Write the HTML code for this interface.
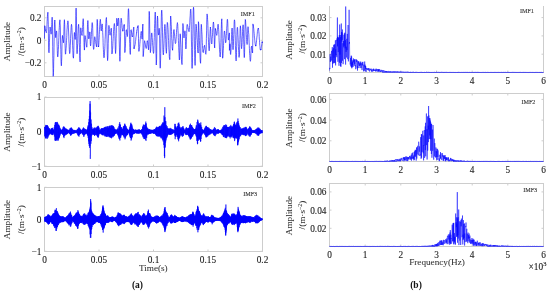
<!DOCTYPE html>
<html><head><meta charset="utf-8"><style>
html,body{margin:0;padding:0;background:#fff;width:550px;height:294px;overflow:hidden}
svg{display:block}
.t{font-family:'Liberation Serif', 'Times New Roman', serif;font-size:9.3px;fill:#1a1a1a;stroke:#1a1a1a;stroke-width:0.1px}
.al{font-family:'Liberation Serif', 'Times New Roman', serif;font-size:9.2px;fill:#333;stroke:#333;stroke-width:0.05px}
.imf{font-family:'Liberation Serif', 'Times New Roman', serif;font-size:7px;fill:#2a2a2a;stroke:#2a2a2a;stroke-width:0.08px}
.b{font-family:'Liberation Serif', 'Times New Roman', serif;font-size:9.5px;font-weight:bold;fill:#111}
</style></head><body>
<svg width="550" height="294" viewBox="0 0 550 294">
<rect width="550" height="294" fill="#fff"/>
<rect x="44.5" y="6.5" width="218.0" height="70.0" fill="none" stroke="#cdcdcd" stroke-width="1"/>
<line x1="44.5" y1="76.5" x2="44.5" y2="74.5" stroke="#cdcdcd" stroke-width="1"/>
<line x1="44.5" y1="6.5" x2="44.5" y2="8.5" stroke="#cdcdcd" stroke-width="1"/>
<line x1="99.0" y1="76.5" x2="99.0" y2="74.5" stroke="#cdcdcd" stroke-width="1"/>
<line x1="99.0" y1="6.5" x2="99.0" y2="8.5" stroke="#cdcdcd" stroke-width="1"/>
<line x1="153.5" y1="76.5" x2="153.5" y2="74.5" stroke="#cdcdcd" stroke-width="1"/>
<line x1="153.5" y1="6.5" x2="153.5" y2="8.5" stroke="#cdcdcd" stroke-width="1"/>
<line x1="208.0" y1="76.5" x2="208.0" y2="74.5" stroke="#cdcdcd" stroke-width="1"/>
<line x1="208.0" y1="6.5" x2="208.0" y2="8.5" stroke="#cdcdcd" stroke-width="1"/>
<line x1="262.5" y1="76.5" x2="262.5" y2="74.5" stroke="#cdcdcd" stroke-width="1"/>
<line x1="262.5" y1="6.5" x2="262.5" y2="8.5" stroke="#cdcdcd" stroke-width="1"/>
<line x1="44.5" y1="62.8" x2="46.5" y2="62.8" stroke="#cdcdcd" stroke-width="1"/>
<line x1="262.5" y1="62.8" x2="260.5" y2="62.8" stroke="#cdcdcd" stroke-width="1"/>
<line x1="44.5" y1="40.3" x2="46.5" y2="40.3" stroke="#cdcdcd" stroke-width="1"/>
<line x1="262.5" y1="40.3" x2="260.5" y2="40.3" stroke="#cdcdcd" stroke-width="1"/>
<line x1="44.5" y1="17.8" x2="46.5" y2="17.8" stroke="#cdcdcd" stroke-width="1"/>
<line x1="262.5" y1="17.8" x2="260.5" y2="17.8" stroke="#cdcdcd" stroke-width="1"/>
<rect x="44.5" y="97.5" width="218.0" height="69.0" fill="none" stroke="#cdcdcd" stroke-width="1"/>
<line x1="44.5" y1="166.5" x2="44.5" y2="164.5" stroke="#cdcdcd" stroke-width="1"/>
<line x1="44.5" y1="97.5" x2="44.5" y2="99.5" stroke="#cdcdcd" stroke-width="1"/>
<line x1="99.0" y1="166.5" x2="99.0" y2="164.5" stroke="#cdcdcd" stroke-width="1"/>
<line x1="99.0" y1="97.5" x2="99.0" y2="99.5" stroke="#cdcdcd" stroke-width="1"/>
<line x1="153.5" y1="166.5" x2="153.5" y2="164.5" stroke="#cdcdcd" stroke-width="1"/>
<line x1="153.5" y1="97.5" x2="153.5" y2="99.5" stroke="#cdcdcd" stroke-width="1"/>
<line x1="208.0" y1="166.5" x2="208.0" y2="164.5" stroke="#cdcdcd" stroke-width="1"/>
<line x1="208.0" y1="97.5" x2="208.0" y2="99.5" stroke="#cdcdcd" stroke-width="1"/>
<line x1="262.5" y1="166.5" x2="262.5" y2="164.5" stroke="#cdcdcd" stroke-width="1"/>
<line x1="262.5" y1="97.5" x2="262.5" y2="99.5" stroke="#cdcdcd" stroke-width="1"/>
<line x1="44.5" y1="166.2" x2="46.5" y2="166.2" stroke="#cdcdcd" stroke-width="1"/>
<line x1="262.5" y1="166.2" x2="260.5" y2="166.2" stroke="#cdcdcd" stroke-width="1"/>
<line x1="44.5" y1="131.6" x2="46.5" y2="131.6" stroke="#cdcdcd" stroke-width="1"/>
<line x1="262.5" y1="131.6" x2="260.5" y2="131.6" stroke="#cdcdcd" stroke-width="1"/>
<line x1="44.5" y1="97.0" x2="46.5" y2="97.0" stroke="#cdcdcd" stroke-width="1"/>
<line x1="262.5" y1="97.0" x2="260.5" y2="97.0" stroke="#cdcdcd" stroke-width="1"/>
<rect x="44.5" y="187.5" width="218.0" height="64.0" fill="none" stroke="#cdcdcd" stroke-width="1"/>
<line x1="44.5" y1="251.5" x2="44.5" y2="249.5" stroke="#cdcdcd" stroke-width="1"/>
<line x1="44.5" y1="187.5" x2="44.5" y2="189.5" stroke="#cdcdcd" stroke-width="1"/>
<line x1="99.0" y1="251.5" x2="99.0" y2="249.5" stroke="#cdcdcd" stroke-width="1"/>
<line x1="99.0" y1="187.5" x2="99.0" y2="189.5" stroke="#cdcdcd" stroke-width="1"/>
<line x1="153.5" y1="251.5" x2="153.5" y2="249.5" stroke="#cdcdcd" stroke-width="1"/>
<line x1="153.5" y1="187.5" x2="153.5" y2="189.5" stroke="#cdcdcd" stroke-width="1"/>
<line x1="208.0" y1="251.5" x2="208.0" y2="249.5" stroke="#cdcdcd" stroke-width="1"/>
<line x1="208.0" y1="187.5" x2="208.0" y2="189.5" stroke="#cdcdcd" stroke-width="1"/>
<line x1="262.5" y1="251.5" x2="262.5" y2="249.5" stroke="#cdcdcd" stroke-width="1"/>
<line x1="262.5" y1="187.5" x2="262.5" y2="189.5" stroke="#cdcdcd" stroke-width="1"/>
<line x1="44.5" y1="251.3" x2="46.5" y2="251.3" stroke="#cdcdcd" stroke-width="1"/>
<line x1="262.5" y1="251.3" x2="260.5" y2="251.3" stroke="#cdcdcd" stroke-width="1"/>
<line x1="44.5" y1="219.3" x2="46.5" y2="219.3" stroke="#cdcdcd" stroke-width="1"/>
<line x1="262.5" y1="219.3" x2="260.5" y2="219.3" stroke="#cdcdcd" stroke-width="1"/>
<line x1="44.5" y1="187.3" x2="46.5" y2="187.3" stroke="#cdcdcd" stroke-width="1"/>
<line x1="262.5" y1="187.3" x2="260.5" y2="187.3" stroke="#cdcdcd" stroke-width="1"/>
<polyline points="329.5,6.0 329.5,72.5 543.5,72.5 543.5,6.0" fill="none" stroke="#cdcdcd" stroke-width="1"/>
<line x1="329.5" y1="72.5" x2="329.5" y2="70.5" stroke="#cdcdcd" stroke-width="1"/>
<line x1="365.2" y1="72.5" x2="365.2" y2="70.5" stroke="#cdcdcd" stroke-width="1"/>
<line x1="400.8" y1="72.5" x2="400.8" y2="70.5" stroke="#cdcdcd" stroke-width="1"/>
<line x1="436.5" y1="72.5" x2="436.5" y2="70.5" stroke="#cdcdcd" stroke-width="1"/>
<line x1="472.2" y1="72.5" x2="472.2" y2="70.5" stroke="#cdcdcd" stroke-width="1"/>
<line x1="507.8" y1="72.5" x2="507.8" y2="70.5" stroke="#cdcdcd" stroke-width="1"/>
<line x1="543.5" y1="72.5" x2="543.5" y2="70.5" stroke="#cdcdcd" stroke-width="1"/>
<line x1="329.5" y1="54.2" x2="331.5" y2="54.2" stroke="#cdcdcd" stroke-width="1"/>
<line x1="543.5" y1="54.2" x2="541.5" y2="54.2" stroke="#cdcdcd" stroke-width="1"/>
<line x1="329.5" y1="35.9" x2="331.5" y2="35.9" stroke="#cdcdcd" stroke-width="1"/>
<line x1="543.5" y1="35.9" x2="541.5" y2="35.9" stroke="#cdcdcd" stroke-width="1"/>
<line x1="329.5" y1="17.6" x2="331.5" y2="17.6" stroke="#cdcdcd" stroke-width="1"/>
<line x1="543.5" y1="17.6" x2="541.5" y2="17.6" stroke="#cdcdcd" stroke-width="1"/>
<rect x="329.5" y="93.5" width="214.0" height="68.0" fill="none" stroke="#cdcdcd" stroke-width="1"/>
<line x1="329.5" y1="161.5" x2="329.5" y2="159.5" stroke="#cdcdcd" stroke-width="1"/>
<line x1="329.5" y1="93.5" x2="329.5" y2="95.5" stroke="#cdcdcd" stroke-width="1"/>
<line x1="365.2" y1="161.5" x2="365.2" y2="159.5" stroke="#cdcdcd" stroke-width="1"/>
<line x1="365.2" y1="93.5" x2="365.2" y2="95.5" stroke="#cdcdcd" stroke-width="1"/>
<line x1="400.8" y1="161.5" x2="400.8" y2="159.5" stroke="#cdcdcd" stroke-width="1"/>
<line x1="400.8" y1="93.5" x2="400.8" y2="95.5" stroke="#cdcdcd" stroke-width="1"/>
<line x1="436.5" y1="161.5" x2="436.5" y2="159.5" stroke="#cdcdcd" stroke-width="1"/>
<line x1="436.5" y1="93.5" x2="436.5" y2="95.5" stroke="#cdcdcd" stroke-width="1"/>
<line x1="472.2" y1="161.5" x2="472.2" y2="159.5" stroke="#cdcdcd" stroke-width="1"/>
<line x1="472.2" y1="93.5" x2="472.2" y2="95.5" stroke="#cdcdcd" stroke-width="1"/>
<line x1="507.8" y1="161.5" x2="507.8" y2="159.5" stroke="#cdcdcd" stroke-width="1"/>
<line x1="507.8" y1="93.5" x2="507.8" y2="95.5" stroke="#cdcdcd" stroke-width="1"/>
<line x1="543.5" y1="161.5" x2="543.5" y2="159.5" stroke="#cdcdcd" stroke-width="1"/>
<line x1="543.5" y1="93.5" x2="543.5" y2="95.5" stroke="#cdcdcd" stroke-width="1"/>
<line x1="329.5" y1="140.8" x2="331.5" y2="140.8" stroke="#cdcdcd" stroke-width="1"/>
<line x1="543.5" y1="140.8" x2="541.5" y2="140.8" stroke="#cdcdcd" stroke-width="1"/>
<line x1="329.5" y1="120.1" x2="331.5" y2="120.1" stroke="#cdcdcd" stroke-width="1"/>
<line x1="543.5" y1="120.1" x2="541.5" y2="120.1" stroke="#cdcdcd" stroke-width="1"/>
<line x1="329.5" y1="99.4" x2="331.5" y2="99.4" stroke="#cdcdcd" stroke-width="1"/>
<line x1="543.5" y1="99.4" x2="541.5" y2="99.4" stroke="#cdcdcd" stroke-width="1"/>
<rect x="329.5" y="183.5" width="214.0" height="63.0" fill="none" stroke="#cdcdcd" stroke-width="1"/>
<line x1="329.5" y1="246.5" x2="329.5" y2="244.5" stroke="#cdcdcd" stroke-width="1"/>
<line x1="329.5" y1="183.5" x2="329.5" y2="185.5" stroke="#cdcdcd" stroke-width="1"/>
<line x1="365.2" y1="246.5" x2="365.2" y2="244.5" stroke="#cdcdcd" stroke-width="1"/>
<line x1="365.2" y1="183.5" x2="365.2" y2="185.5" stroke="#cdcdcd" stroke-width="1"/>
<line x1="400.8" y1="246.5" x2="400.8" y2="244.5" stroke="#cdcdcd" stroke-width="1"/>
<line x1="400.8" y1="183.5" x2="400.8" y2="185.5" stroke="#cdcdcd" stroke-width="1"/>
<line x1="436.5" y1="246.5" x2="436.5" y2="244.5" stroke="#cdcdcd" stroke-width="1"/>
<line x1="436.5" y1="183.5" x2="436.5" y2="185.5" stroke="#cdcdcd" stroke-width="1"/>
<line x1="472.2" y1="246.5" x2="472.2" y2="244.5" stroke="#cdcdcd" stroke-width="1"/>
<line x1="472.2" y1="183.5" x2="472.2" y2="185.5" stroke="#cdcdcd" stroke-width="1"/>
<line x1="507.8" y1="246.5" x2="507.8" y2="244.5" stroke="#cdcdcd" stroke-width="1"/>
<line x1="507.8" y1="183.5" x2="507.8" y2="185.5" stroke="#cdcdcd" stroke-width="1"/>
<line x1="543.5" y1="246.5" x2="543.5" y2="244.5" stroke="#cdcdcd" stroke-width="1"/>
<line x1="543.5" y1="183.5" x2="543.5" y2="185.5" stroke="#cdcdcd" stroke-width="1"/>
<line x1="329.5" y1="228.3" x2="331.5" y2="228.3" stroke="#cdcdcd" stroke-width="1"/>
<line x1="543.5" y1="228.3" x2="541.5" y2="228.3" stroke="#cdcdcd" stroke-width="1"/>
<line x1="329.5" y1="210.1" x2="331.5" y2="210.1" stroke="#cdcdcd" stroke-width="1"/>
<line x1="543.5" y1="210.1" x2="541.5" y2="210.1" stroke="#cdcdcd" stroke-width="1"/>
<line x1="329.5" y1="191.9" x2="331.5" y2="191.9" stroke="#cdcdcd" stroke-width="1"/>
<line x1="543.5" y1="191.9" x2="541.5" y2="191.9" stroke="#cdcdcd" stroke-width="1"/>
<polyline fill="none" stroke="#0000ff" stroke-width="0.75" stroke-linejoin="round" stroke-opacity="0.8" points="44.5,38.7 44.5,31.0 44.6,25.9 44.7,25.7 44.9,26.0 45.0,26.6 45.1,26.6 45.2,28.0 45.4,28.6 45.5,30.9 45.6,30.6 45.7,31.2 45.9,31.8 46.0,32.2 46.1,32.3 46.2,32.7 46.4,32.7 46.5,31.5 46.6,30.6 46.8,28.3 46.9,26.2 47.0,24.3 47.1,21.5 47.3,18.7 47.4,16.7 47.5,15.1 47.6,14.2 47.8,12.5 47.9,12.2 48.0,14.2 48.1,18.0 48.3,24.8 48.4,33.1 48.5,40.8 48.6,47.2 48.8,51.9 48.9,52.2 49.0,52.8 49.2,49.8 49.3,46.1 49.4,42.5 49.6,38.1 49.7,33.4 49.8,29.7 50.0,27.8 50.1,27.0 50.2,27.8 50.4,28.3 50.5,29.2 50.6,30.9 50.8,31.8 50.9,32.7 51.0,33.9 51.2,34.2 51.3,33.3 51.4,31.3 51.5,28.9 51.7,24.7 51.8,22.6 51.9,19.8 52.1,17.3 52.2,17.2 52.3,19.1 52.5,26.1 52.6,34.8 52.7,46.5 52.8,58.4 53.0,68.2 53.1,73.5 53.2,76.3 53.3,75.6 53.5,72.5 53.6,68.7 53.7,61.9 53.9,55.6 54.0,47.7 54.1,41.2 54.3,33.9 54.4,27.9 54.5,22.9 54.7,21.3 54.8,20.0 54.9,21.2 55.1,24.6 55.2,28.8 55.4,33.0 55.5,36.2 55.6,37.4 55.8,37.7 55.9,35.4 56.1,34.0 56.2,32.3 56.4,31.2 56.5,30.9 56.6,31.1 56.8,33.2 56.9,37.2 57.0,41.9 57.2,46.3 57.3,50.4 57.4,53.7 57.6,56.2 57.7,56.8 57.8,56.9 58.0,55.4 58.1,54.2 58.2,52.1 58.3,49.8 58.5,46.8 58.6,44.5 58.7,40.8 58.9,37.4 59.0,32.9 59.1,30.3 59.3,27.4 59.4,25.3 59.5,22.2 59.6,21.9 59.8,21.0 59.9,19.8 60.0,20.7 60.1,23.1 60.3,27.0 60.4,32.0 60.5,38.0 60.6,43.1 60.8,49.4 60.9,54.7 61.0,60.0 61.1,63.3 61.3,65.8 61.4,65.7 61.5,64.9 61.6,61.3 61.8,57.2 61.9,51.1 62.0,44.9 62.1,39.9 62.3,36.9 62.4,35.4 62.5,35.5 62.6,36.8 62.8,38.6 62.9,39.0 63.0,40.2 63.2,41.2 63.3,41.9 63.4,42.8 63.5,42.0 63.7,39.2 63.8,35.6 63.9,31.2 64.0,26.8 64.2,22.5 64.3,20.4 64.4,19.7 64.5,20.7 64.7,24.5 64.8,30.0 64.9,36.7 65.0,43.6 65.2,48.7 65.3,52.5 65.4,54.2 65.5,53.9 65.7,53.7 65.8,51.4 65.9,51.0 66.0,48.9 66.2,47.1 66.3,45.2 66.4,42.9 66.5,40.3 66.7,37.5 66.8,35.4 66.9,32.2 67.0,29.9 67.2,28.0 67.3,25.5 67.4,24.8 67.5,23.1 67.7,22.5 67.8,21.1 67.9,20.8 68.0,21.4 68.2,22.8 68.3,24.2 68.4,27.1 68.5,30.0 68.7,34.0 68.8,36.8 68.9,41.0 69.1,43.8 69.2,46.8 69.3,49.4 69.4,51.2 69.6,52.8 69.7,53.6 69.8,52.9 70.0,52.0 70.1,50.7 70.2,47.9 70.3,45.2 70.5,42.0 70.6,38.3 70.7,36.0 70.9,32.1 71.0,30.2 71.1,27.7 71.2,26.4 71.4,24.9 71.5,24.3 71.6,25.1 71.8,25.9 71.9,27.7 72.0,30.2 72.1,32.9 72.3,36.1 72.4,39.3 72.5,43.0 72.6,45.8 72.8,49.7 72.9,52.1 73.0,55.3 73.1,57.1 73.3,57.1 73.4,58.2 73.5,57.1 73.7,54.0 73.8,50.4 73.9,45.1 74.0,39.8 74.2,36.2 74.3,33.4 74.4,32.5 74.5,32.5 74.7,34.5 74.8,36.3 75.0,37.3 75.1,38.8 75.2,39.5 75.4,37.2 75.5,32.3 75.7,23.9 75.8,15.6 76.0,9.9 76.1,8.1 76.2,11.2 76.4,16.7 76.5,25.9 76.6,36.3 76.7,45.3 76.9,52.4 77.0,53.7 77.1,53.7 77.3,52.0 77.4,49.7 77.5,46.0 77.7,43.4 77.8,38.9 77.9,35.1 78.1,31.1 78.2,28.1 78.3,26.2 78.5,24.9 78.6,24.3 78.7,25.1 78.8,26.7 79.0,29.5 79.1,33.6 79.2,38.0 79.3,42.6 79.5,47.7 79.6,52.3 79.7,55.8 79.8,58.6 80.0,60.8 80.1,61.9 80.2,56.3 80.4,44.7 80.5,33.1 80.7,28.7 80.8,27.8 81.0,29.1 81.1,30.2 81.2,30.4 81.3,32.3 81.5,33.1 81.6,33.7 81.7,34.7 81.8,34.6 82.0,35.1 82.1,35.5 82.2,33.4 82.3,32.6 82.5,29.7 82.6,27.5 82.7,24.7 82.8,21.7 83.0,20.4 83.1,19.6 83.2,18.7 83.3,19.5 83.5,22.8 83.6,26.5 83.7,31.1 83.9,36.8 84.0,42.3 84.1,45.9 84.3,49.0 84.4,50.1 84.6,47.6 84.7,42.2 84.8,37.2 85.0,35.6 85.1,36.1 85.3,36.3 85.4,37.0 85.5,37.6 85.6,39.0 85.8,39.9 85.9,41.2 86.0,42.2 86.2,43.3 86.3,44.8 86.4,45.5 86.5,46.2 86.7,47.2 86.8,47.1 86.9,47.1 87.0,43.6 87.2,38.8 87.3,34.3 87.4,29.1 87.5,24.5 87.7,22.3 87.8,20.6 87.9,20.5 88.1,23.8 88.2,26.2 88.3,30.4 88.5,33.1 88.6,35.9 88.7,38.8 88.8,38.5 89.0,38.7 89.1,38.4 89.2,36.8 89.4,35.4 89.5,34.1 89.6,33.2 89.8,31.9 89.9,32.1 90.1,34.2 90.2,39.7 90.3,43.7 90.5,45.6 90.6,45.9 90.8,44.6 90.9,43.5 91.0,41.6 91.1,39.7 91.3,36.7 91.4,34.3 91.5,30.8 91.7,29.0 91.8,27.6 91.9,25.0 92.0,23.6 92.2,22.6 92.3,22.9 92.4,23.4 92.6,24.9 92.7,28.5 92.8,32.1 92.9,36.4 93.1,40.1 93.2,44.7 93.3,47.2 93.5,48.9 93.6,49.4 93.7,49.1 93.9,48.5 94.0,46.5 94.1,44.9 94.3,42.6 94.4,40.9 94.5,39.1 94.7,37.7 94.8,36.7 94.9,37.6 95.1,38.1 95.2,38.4 95.3,39.3 95.4,39.8 95.6,40.8 95.7,41.6 95.8,43.4 96.0,44.0 96.1,44.6 96.2,45.0 96.3,46.0 96.5,46.9 96.6,46.7 96.8,42.2 96.9,33.3 97.0,23.6 97.2,19.4 97.3,20.2 97.5,22.8 97.6,26.3 97.7,30.9 97.9,35.3 98.0,40.6 98.1,43.9 98.3,47.0 98.4,46.4 98.5,47.0 98.7,46.3 98.8,44.4 98.9,42.7 99.0,40.5 99.2,37.8 99.3,34.6 99.4,31.9 99.5,29.5 99.7,27.0 99.8,24.3 99.9,22.3 100.0,21.0 100.2,20.4 100.3,19.3 100.4,19.8 100.6,21.9 100.7,23.7 100.8,26.4 100.9,28.9 101.1,30.6 101.2,30.6 101.3,30.9 101.5,29.1 101.6,28.5 101.7,26.2 101.8,24.9 102.0,24.6 102.1,23.9 102.2,24.1 102.4,25.3 102.5,27.4 102.6,29.5 102.7,32.4 102.9,35.9 103.0,38.7 103.1,42.3 103.2,45.7 103.4,49.5 103.5,52.3 103.6,54.8 103.7,56.0 103.9,57.1 104.0,57.8 104.1,57.1 104.3,56.7 104.4,55.4 104.5,53.1 104.6,51.1 104.8,48.5 104.9,46.3 105.0,43.5 105.1,39.3 105.3,36.1 105.4,32.0 105.5,29.8 105.6,26.9 105.8,23.9 105.9,22.3 106.0,19.7 106.1,18.9 106.3,18.2 106.4,17.5 106.5,19.5 106.7,23.3 106.8,28.1 106.9,35.0 107.1,43.2 107.2,49.9 107.3,55.2 107.5,59.2 107.6,60.6 107.7,59.7 107.9,57.6 108.0,53.6 108.1,49.2 108.2,43.7 108.4,38.1 108.5,33.3 108.6,29.6 108.8,26.9 108.9,25.4 109.0,26.4 109.2,26.9 109.3,28.7 109.4,29.8 109.6,31.6 109.7,33.0 109.8,34.8 110.0,35.1 110.1,35.2 110.2,35.2 110.4,34.3 110.5,33.6 110.6,32.4 110.8,31.3 110.9,30.7 111.0,29.0 111.2,28.5 111.3,28.2 111.5,32.3 111.6,40.7 111.8,49.9 111.9,53.9 112.0,53.9 112.2,53.1 112.3,52.1 112.4,50.7 112.5,49.6 112.7,48.1 112.8,45.7 112.9,43.4 113.0,41.2 113.2,38.3 113.3,36.2 113.4,33.8 113.5,31.8 113.7,29.7 113.8,27.4 113.9,26.7 114.0,25.7 114.2,24.1 114.3,23.7 114.4,23.5 114.5,24.6 114.7,26.4 114.8,31.4 114.9,35.5 115.1,41.3 115.2,45.8 115.3,49.6 115.5,52.3 115.6,53.5 115.7,51.9 115.9,49.0 116.0,44.4 116.1,38.3 116.3,33.3 116.4,27.4 116.5,22.6 116.7,20.0 116.8,18.2 116.9,18.8 117.1,20.4 117.2,21.6 117.3,22.0 117.4,23.0 117.6,24.8 117.7,25.9 117.8,25.0 118.0,24.0 118.1,22.8 118.2,20.5 118.3,19.4 118.5,18.6 118.6,18.1 118.7,19.1 118.9,21.8 119.0,27.0 119.1,32.7 119.2,40.0 119.4,47.1 119.5,52.0 119.6,56.3 119.8,60.0 119.9,61.3 120.0,60.3 120.2,56.5 120.3,50.1 120.4,43.0 120.6,36.2 120.7,28.3 120.8,23.3 121.0,19.1 121.1,18.2 121.2,18.3 121.4,18.9 121.5,19.8 121.6,20.4 121.7,22.2 121.9,23.7 122.0,25.3 122.1,27.2 122.2,28.1 122.4,29.1 122.5,30.0 122.6,30.7 122.8,31.3 122.9,30.6 123.0,31.0 123.1,30.2 123.3,29.4 123.4,28.3 123.5,28.0 123.6,27.3 123.8,25.6 123.9,25.9 124.0,25.5 124.1,24.5 124.3,24.3 124.4,24.8 124.5,31.6 124.7,45.1 124.8,52.6 124.9,52.2 125.1,51.0 125.2,48.4 125.3,47.1 125.5,43.8 125.6,41.1 125.7,38.0 125.9,35.6 126.0,32.8 126.1,30.8 126.3,30.1 126.4,30.0 126.5,29.7 126.7,31.0 126.8,31.8 126.9,32.8 127.0,34.9 127.2,35.2 127.3,36.6 127.4,36.3 127.5,35.6 127.7,32.0 127.8,27.6 127.9,23.0 128.0,17.3 128.2,12.8 128.3,9.6 128.4,8.9 128.5,8.7 128.7,10.3 128.8,13.0 128.9,16.0 129.0,19.9 129.2,24.5 129.3,29.2 129.4,33.9 129.5,39.3 129.7,43.4 129.8,47.4 129.9,50.1 130.0,52.3 130.2,53.5 130.3,54.4 130.5,50.1 130.6,41.8 130.8,33.4 130.9,30.1 131.0,30.0 131.2,29.7 131.3,30.7 131.4,31.0 131.5,32.4 131.7,33.0 131.8,34.2 131.9,35.7 132.0,35.8 132.2,36.8 132.3,36.4 132.4,36.4 132.5,36.8 132.7,36.5 132.8,34.9 132.9,34.2 133.0,32.5 133.2,31.7 133.3,30.8 133.4,29.3 133.5,28.2 133.7,27.1 133.8,27.3 133.9,27.3 133.9,37.9 133.9,48.4 134.0,47.8 134.2,48.7 134.3,47.9 134.4,47.5 134.5,47.4 134.7,45.9 134.8,46.0 134.9,45.3 135.0,44.8 135.2,44.3 135.3,43.1 135.4,41.4 135.5,41.0 135.7,40.2 135.8,39.2 135.9,37.6 136.1,36.5 136.2,36.2 136.3,35.1 136.4,34.0 136.6,32.4 136.7,32.7 136.8,30.1 136.9,30.1 137.1,30.2 137.2,28.7 137.3,28.2 137.4,27.1 137.6,27.5 137.7,26.1 137.8,26.3 137.9,26.0 138.1,25.5 138.2,26.1 138.3,29.1 138.5,38.4 138.7,47.6 138.8,51.3 138.9,51.4 139.1,51.2 139.2,50.2 139.3,49.3 139.4,48.4 139.6,47.3 139.7,46.4 139.8,44.6 139.9,43.3 140.1,41.6 140.2,39.8 140.3,38.9 140.4,36.9 140.6,35.9 140.7,35.3 140.8,33.4 140.9,32.9 141.1,31.8 141.2,31.8 141.3,31.4 141.4,32.2 141.6,33.5 141.7,35.4 141.8,37.7 142.0,38.5 142.1,39.1 142.2,37.8 142.4,34.9 142.5,30.9 142.6,26.6 142.8,24.5 142.9,24.0 143.0,40.0 143.1,56.1 143.2,56.6 143.4,55.1 143.5,53.9 143.6,52.1 143.7,50.4 143.9,48.7 144.0,47.6 144.1,45.0 144.3,43.1 144.4,42.1 144.5,41.5 144.6,40.7 144.8,41.5 144.9,42.0 145.0,42.4 145.2,43.3 145.3,43.4 145.4,44.2 145.6,46.2 145.7,46.9 145.8,46.7 145.9,47.9 146.1,48.2 146.2,48.5 146.3,48.2 146.5,47.3 146.6,46.6 146.7,45.5 146.9,44.2 147.0,42.4 147.1,41.1 147.3,41.2 147.4,40.7 147.5,41.6 147.7,42.5 147.8,43.5 147.9,44.6 148.1,46.2 148.2,47.9 148.3,48.4 148.5,49.7 148.6,49.8 148.8,44.1 148.9,30.9 149.0,16.5 149.2,11.4 149.3,12.0 149.5,15.6 149.6,21.0 149.7,28.2 149.9,34.8 150.0,41.8 150.1,46.8 150.3,51.1 150.4,52.6 150.5,51.6 150.7,50.8 150.8,48.3 150.9,46.3 151.1,42.6 151.2,39.1 151.3,37.6 151.4,35.0 151.6,33.3 151.7,33.0 151.8,32.9 152.0,34.1 152.1,35.0 152.2,37.5 152.3,39.1 152.5,40.4 152.6,42.7 152.7,45.2 152.9,46.9 153.0,49.4 153.1,51.0 153.2,51.9 153.4,52.8 153.5,53.4 153.6,53.2 153.8,51.7 153.9,48.8 154.0,45.8 154.1,41.4 154.3,37.4 154.4,32.4 154.5,28.5 154.7,23.4 154.8,19.7 154.9,16.8 155.0,14.5 155.2,12.3 155.3,12.1 155.4,14.4 155.6,20.2 155.7,28.4 155.8,38.9 155.9,49.0 156.1,58.2 156.2,63.7 156.3,65.0 156.4,63.2 156.6,59.7 156.7,53.5 156.8,45.1 157.0,36.8 157.1,28.2 157.2,21.3 157.4,17.8 157.5,16.0 157.6,17.2 157.8,19.1 157.9,23.6 158.0,27.6 158.1,31.9 158.3,34.1 158.4,35.1 158.5,34.7 158.7,34.4 158.8,32.6 158.9,30.8 159.0,29.3 159.2,28.3 159.3,28.8 159.4,29.6 159.6,35.5 159.7,43.9 159.8,52.9 159.9,60.4 160.1,66.2 160.2,68.2 160.3,67.3 160.4,64.0 160.6,60.0 160.7,53.5 160.8,46.9 160.9,38.5 161.1,31.7 161.2,24.0 161.3,17.9 161.4,14.0 161.6,10.6 161.7,10.1 161.8,10.3 162.0,13.5 162.1,16.5 162.2,20.8 162.4,26.7 162.5,32.8 162.6,38.1 162.8,44.0 162.9,49.2 163.0,52.4 163.2,54.3 163.3,54.9 163.4,54.8 163.6,52.5 163.7,49.6 163.8,47.3 164.0,43.4 164.1,40.5 164.2,36.0 164.4,31.9 164.5,28.7 164.6,26.8 164.8,24.8 164.9,24.4 165.0,25.1 165.2,26.6 165.3,28.8 165.4,31.8 165.5,35.7 165.7,39.5 165.8,42.0 165.9,47.0 166.0,49.1 166.2,51.7 166.3,52.5 166.4,53.3 166.5,51.8 166.7,47.4 166.8,41.4 166.9,34.4 167.0,27.6 167.2,23.6 167.3,22.4 167.4,22.6 167.6,22.9 167.7,24.1 167.8,25.6 167.9,27.2 168.1,29.4 168.2,32.9 168.3,34.9 168.4,37.9 168.6,40.5 168.7,44.1 168.8,47.2 168.9,49.2 169.1,51.9 169.2,53.7 169.3,56.5 169.4,57.7 169.6,58.2 169.7,59.6 169.8,59.6 169.9,56.7 170.1,48.7 170.2,37.5 170.3,26.7 170.5,19.2 170.6,16.0 170.7,16.1 170.9,18.2 171.0,19.2 171.1,21.4 171.2,24.2 171.4,27.9 171.5,31.4 171.6,34.7 171.7,38.3 171.9,40.7 172.0,43.9 172.1,46.3 172.2,48.2 172.4,49.4 172.5,48.9 172.6,50.3 172.8,47.8 172.9,46.4 173.0,44.2 173.1,41.6 173.3,38.6 173.4,34.8 173.5,33.1 173.6,31.9 173.8,30.2 173.9,29.7 174.0,29.5 174.2,31.4 174.3,32.2 174.4,33.1 174.6,35.0 174.7,36.7 174.8,38.1 175.0,40.0 175.1,41.6 175.2,42.7 175.4,43.6 175.5,43.4 175.6,43.0 175.8,42.7 175.9,41.3 176.0,39.7 176.1,38.8 176.3,36.4 176.4,34.5 176.5,32.6 176.6,29.9 176.8,28.6 176.9,26.9 177.0,25.3 177.1,24.4 177.3,23.4 177.4,22.6 177.5,23.6 177.7,24.3 177.8,26.5 177.9,28.4 178.0,30.6 178.2,33.7 178.3,37.4 178.4,40.7 178.6,43.9 178.7,47.2 178.8,50.2 179.0,53.2 179.1,56.0 179.2,57.8 179.3,59.5 179.5,59.9 179.6,60.0 179.7,56.1 179.8,47.1 180.0,38.2 180.1,34.2 180.2,33.8 180.4,34.6 180.5,37.0 180.6,39.0 180.7,41.0 180.9,44.7 181.0,47.5 181.1,51.1 181.2,53.9 181.4,57.0 181.5,59.4 181.6,61.1 181.7,62.9 181.9,63.7 182.0,64.6 182.1,62.0 182.3,56.2 182.4,48.9 182.5,40.1 182.6,32.1 182.8,26.4 182.9,23.5 183.0,24.3 183.2,25.8 183.3,28.2 183.4,30.1 183.6,33.5 183.7,35.8 183.8,36.8 183.9,37.7 184.1,37.9 184.2,36.7 184.3,35.9 184.5,34.6 184.6,33.0 184.7,31.9 184.9,30.8 185.0,31.1 185.1,31.4 185.3,33.9 185.4,38.1 185.5,41.6 185.6,45.7 185.8,48.5 185.9,49.0 186.0,48.4 186.2,47.0 186.3,44.2 186.4,40.0 186.6,36.3 186.7,33.5 186.8,29.8 186.9,26.2 187.1,24.7 187.2,24.6 187.3,24.4 187.5,25.1 187.6,25.4 187.7,26.1 187.8,26.2 188.0,27.5 188.1,28.8 188.2,28.6 188.4,30.1 188.5,30.6 188.6,31.1 188.7,31.2 188.9,31.1 189.0,31.3 189.1,31.6 189.3,30.8 189.4,29.6 189.5,27.7 189.6,25.6 189.8,22.8 189.9,20.0 190.0,18.0 190.2,15.8 190.3,13.5 190.4,11.2 190.5,10.2 190.7,9.1 190.8,9.4 190.9,10.4 191.1,14.8 191.2,21.5 191.3,29.6 191.4,39.1 191.6,47.3 191.7,55.1 191.8,62.6 192.0,67.0 192.1,68.4 192.2,66.8 192.4,63.2 192.5,57.4 192.6,49.6 192.7,41.5 192.9,33.2 193.0,24.5 193.1,18.0 193.2,11.1 193.4,7.9 193.5,7.2 193.6,7.6 193.8,10.3 193.9,14.9 194.0,21.2 194.2,29.1 194.3,36.3 194.4,43.9 194.6,50.7 194.7,57.2 194.8,61.6 195.0,64.2 195.1,65.4 195.2,63.6 195.4,58.2 195.5,49.6 195.6,40.7 195.7,33.0 195.9,26.4 196.0,24.2 196.1,25.2 196.3,25.7 196.4,26.7 196.5,28.4 196.6,30.2 196.8,32.7 196.9,34.9 197.0,37.9 197.2,39.8 197.3,42.5 197.4,45.3 197.6,47.4 197.7,49.7 197.8,51.1 197.9,52.1 198.1,53.0 198.2,53.0 198.3,37.1 198.4,21.7 198.5,22.2 198.7,23.3 198.8,25.2 198.9,27.8 199.0,30.4 199.2,34.1 199.3,37.4 199.4,40.6 199.6,45.0 199.7,48.6 199.8,51.5 200.0,55.0 200.1,58.1 200.2,60.0 200.3,62.0 200.5,62.8 200.6,63.3 200.8,57.3 200.9,43.9 201.0,30.1 201.2,24.9 201.3,24.3 201.5,25.9 201.6,27.7 201.7,29.5 201.8,31.6 202.0,34.5 202.1,36.9 202.2,39.8 202.3,42.8 202.5,45.6 202.6,48.3 202.7,49.6 202.8,51.8 203.0,51.8 203.1,52.3 203.2,52.5 203.4,52.5 203.5,51.2 203.6,49.8 203.7,49.8 203.9,48.6 204.0,47.3 204.1,46.5 204.2,45.9 204.4,45.8 204.5,45.8 204.6,45.3 204.8,47.1 204.9,47.1 205.0,48.1 205.1,49.7 205.3,50.7 205.4,52.7 205.5,53.4 205.6,53.7 205.8,54.2 205.9,54.3 206.0,53.2 206.2,50.0 206.3,44.2 206.4,38.4 206.6,30.8 206.7,24.2 206.8,19.3 207.0,14.7 207.1,13.9 207.2,14.8 207.4,15.6 207.5,17.3 207.6,19.7 207.8,22.1 207.9,25.5 208.0,28.5 208.1,31.9 208.3,36.5 208.4,39.2 208.5,42.4 208.7,45.9 208.8,48.1 208.9,49.2 209.1,50.3 209.2,50.8 209.3,49.8 209.5,48.3 209.6,45.1 209.7,41.3 209.9,37.5 210.0,33.7 210.1,31.0 210.3,28.8 210.4,27.0 210.5,28.4 210.7,29.2 210.8,31.2 210.9,34.7 211.1,37.1 211.2,39.9 211.3,42.6 211.5,43.4 211.6,43.8 211.7,44.0 211.9,43.6 212.0,42.2 212.1,39.9 212.2,38.4 212.4,36.5 212.5,34.9 212.6,32.3 212.7,30.0 212.9,28.0 213.0,25.6 213.1,24.4 213.2,23.2 213.4,22.0 213.5,22.1 213.6,23.1 213.8,24.7 213.9,28.8 214.0,33.0 214.2,37.5 214.3,41.0 214.4,44.8 214.6,47.5 214.7,48.0 214.8,44.6 215.0,38.1 215.2,31.7 215.3,28.3 215.4,28.6 215.6,29.8 215.7,29.5 215.8,30.3 215.9,31.0 216.1,32.1 216.2,33.8 216.3,34.1 216.4,34.3 216.6,34.8 216.7,35.3 216.8,35.4 217.0,34.2 217.1,33.7 217.2,32.0 217.3,30.8 217.5,29.4 217.6,27.9 217.7,26.3 217.8,25.4 218.0,25.0 218.1,24.2 218.2,25.0 218.4,26.0 218.5,27.7 218.6,29.3 218.8,31.7 218.9,34.6 219.0,37.3 219.1,40.7 219.3,44.0 219.4,47.0 219.5,49.4 219.7,52.1 219.8,53.4 219.9,56.0 220.1,56.4 220.2,57.0 220.3,55.9 220.5,54.3 220.6,51.5 220.7,47.8 220.9,42.4 221.0,38.3 221.1,33.0 221.3,28.3 221.4,24.8 221.5,21.5 221.7,19.6 221.8,18.8 221.9,21.8 222.1,28.9 222.2,38.5 222.3,48.0 222.5,55.3 222.6,58.2 222.7,58.2 222.9,56.9 223.0,56.0 223.1,53.6 223.2,50.9 223.4,48.8 223.5,45.5 223.6,43.1 223.7,40.5 223.9,37.4 224.0,35.2 224.1,34.2 224.2,32.0 224.4,31.1 224.5,31.0 224.6,31.0 224.8,32.1 224.9,33.9 225.0,34.9 225.2,38.3 225.3,39.4 225.4,41.0 225.6,42.6 225.7,42.8 225.8,42.1 226.0,41.7 226.1,39.8 226.2,38.1 226.3,35.6 226.5,33.3 226.6,31.1 226.7,28.3 226.9,25.9 227.0,23.9 227.1,21.7 227.2,20.0 227.4,19.3 227.5,19.7 227.6,20.2 227.8,23.2 227.9,27.3 228.0,32.1 228.2,36.4 228.3,39.1 228.4,40.1 228.6,39.6 228.7,38.6 228.9,37.6 229.0,36.2 229.1,34.8 229.3,33.6 229.4,32.9 229.4,41.9 229.4,50.4 229.6,48.6 229.7,47.0 229.8,44.4 230.0,43.8 230.2,44.5 230.3,48.7 230.4,53.6 230.6,54.5 230.7,54.4 230.8,52.9 231.0,50.7 231.1,47.6 231.2,44.8 231.3,41.7 231.5,37.9 231.6,34.6 231.7,31.5 231.8,29.9 232.0,28.2 232.1,28.0 232.2,28.1 232.4,31.9 232.5,35.7 232.6,41.2 232.7,45.5 232.9,48.1 233.0,49.7 233.1,49.5 233.2,47.8 233.4,45.4 233.5,41.8 233.6,38.3 233.8,34.3 233.9,30.8 234.0,27.6 234.1,24.2 234.2,21.7 234.4,19.8 234.5,19.9 234.6,20.3 234.8,21.8 234.9,25.1 235.0,29.8 235.2,34.5 235.3,40.7 235.4,45.5 235.6,50.0 235.7,54.4 235.8,58.4 236.0,59.6 236.1,60.9 236.2,59.7 236.4,57.2 236.5,52.4 236.6,46.6 236.8,41.1 236.9,35.4 237.0,31.3 237.2,28.0 237.3,27.7 237.4,27.3 237.6,28.5 237.7,29.7 237.8,32.1 237.9,34.6 238.1,37.6 238.2,41.0 238.3,43.7 238.4,46.7 238.6,50.3 238.7,52.4 238.8,54.4 238.9,56.6 239.1,57.4 239.2,56.6 239.3,56.4 239.5,54.1 239.6,49.9 239.7,44.2 239.9,39.4 240.0,33.5 240.1,29.4 240.3,26.8 240.4,25.8 240.5,26.8 240.7,28.8 240.8,31.4 240.9,35.6 241.1,38.8 241.2,42.6 241.3,46.3 241.5,47.7 241.6,48.7 241.7,47.8 241.8,46.7 242.0,44.9 242.1,42.6 242.2,39.6 242.3,36.8 242.5,34.0 242.6,31.4 242.7,28.6 242.8,27.0 243.0,25.9 243.1,24.8 243.2,25.7 243.4,29.6 243.5,33.9 243.6,38.8 243.8,44.6 243.9,49.6 244.0,53.8 244.2,57.2 244.3,57.6 244.4,57.0 244.6,52.3 244.7,46.4 244.8,39.6 244.9,32.2 245.1,25.2 245.2,21.5 245.3,19.4 245.4,19.8 245.6,21.0 245.7,22.9 245.8,24.1 245.9,26.8 246.1,29.2 246.2,31.5 246.3,34.6 246.5,37.7 246.6,39.5 246.7,41.6 246.8,43.2 247.0,43.5 247.1,44.5 247.2,43.8 247.4,41.4 247.5,37.9 247.6,33.5 247.7,30.0 247.9,27.6 248.0,26.7 248.1,27.0 248.3,28.3 248.4,29.6 248.5,30.4 248.6,32.8 248.8,34.3 248.9,37.1 249.0,39.6 249.1,42.1 249.3,45.5 249.4,48.3 249.5,50.8 249.6,53.3 249.8,55.3 249.9,57.6 250.0,58.9 250.1,60.4 250.3,60.6 250.4,61.3 250.5,60.8 250.7,59.4 250.8,56.9 250.9,53.8 251.1,50.6 251.2,47.8 251.4,46.8 251.5,46.7 251.6,47.0 251.8,46.3 251.9,48.1 252.1,49.6 252.2,50.7 252.3,52.2 252.5,52.9 252.6,53.0 252.8,38.8 252.9,23.9 253.0,24.3 253.2,24.6 253.3,25.8 253.4,25.6 253.5,27.0 253.7,28.4 253.8,29.3 253.9,30.9 254.0,31.8 254.2,33.6 254.3,35.3 254.4,37.2 254.6,38.2 254.7,39.8 254.8,40.6 254.9,41.8 255.1,43.4 255.2,43.9 255.3,45.0 255.4,45.2 255.6,46.0 255.7,46.2 255.8,45.0 255.9,45.6 256.1,44.6 256.2,43.9 256.3,42.9 256.4,42.1 256.6,40.3 256.7,39.2 256.8,37.9 256.9,37.0 257.1,35.8 257.2,34.5 257.3,33.1 257.4,31.6 257.6,30.2 257.7,30.1 257.8,29.3 257.9,28.9 258.1,28.9 258.2,28.2 258.3,28.4 258.5,28.1 258.6,29.8 258.7,30.6 258.8,31.6 259.0,33.4 259.1,34.5 259.2,36.4 259.3,39.1 259.5,40.5 259.6,42.3 259.7,44.0 259.8,45.6 260.0,46.8 260.1,48.8 260.2,49.0 260.3,50.0 260.5,50.1 260.6,50.2 260.7,49.4 260.9,49.3 261.0,50.0 261.1,49.4 261.2,48.0 261.4,47.4 261.5,46.7 261.6,45.3 261.7,45.4 261.9,43.6 262.0,43.0 262.1,41.7 262.2,42.7 262.4,41.9 262.5,42.4"/>
<polyline fill="none" stroke="#0000ff" stroke-width="0.6" stroke-linejoin="round" stroke-opacity="1" points="44.5,128.4 44.5,127.1 44.6,128.3 44.6,131.5 44.7,134.8 44.7,135.9 44.8,134.9 44.8,132.0 44.9,128.7 44.9,127.5 45.0,128.2 45.0,130.9 45.0,134.0 45.1,137.2 45.1,136.5 45.2,133.1 45.2,128.8 45.3,126.3 45.3,126.5 45.4,129.5 45.4,133.7 45.5,137.6 45.5,138.0 45.5,134.9 45.6,129.9 45.6,125.9 45.7,124.9 45.7,127.5 45.8,132.4 45.8,137.0 45.9,138.7 45.9,136.5 46.0,131.6 46.0,126.6 46.0,126.5 46.1,127.7 46.1,131.0 46.2,134.6 46.2,138.3 46.3,137.3 46.3,133.1 46.4,128.1 46.4,125.0 46.5,125.5 46.5,129.4 46.5,134.5 46.6,136.3 46.6,136.3 46.7,133.6 46.7,129.8 46.8,125.6 46.8,125.3 46.9,128.5 46.9,133.5 47.0,137.1 47.0,137.7 47.0,134.8 47.1,130.1 47.1,126.5 47.2,125.8 47.2,128.4 47.3,132.8 47.3,137.5 47.4,138.7 47.4,136.0 47.5,130.8 47.5,126.6 47.5,125.2 47.6,127.1 47.6,131.4 47.7,135.6 47.7,136.6 47.8,135.7 47.8,132.8 47.9,129.3 47.9,126.3 48.0,126.4 48.0,129.1 48.0,132.9 48.1,136.6 48.1,137.5 48.2,135.5 48.2,131.6 48.3,127.8 48.3,126.8 48.4,127.7 48.4,130.6 48.5,133.9 48.5,135.5 48.5,135.3 48.6,133.1 48.6,130.3 48.7,128.6 48.7,128.4 48.8,130.0 48.8,132.3 48.9,134.9 48.9,135.4 49.0,133.8 49.0,131.0 49.0,128.6 49.1,128.0 49.1,129.5 49.2,132.1 49.2,134.1 49.3,134.6 49.3,133.4 49.4,131.2 49.4,129.1 49.5,128.6 49.5,129.8 49.5,132.0 49.6,133.7 49.6,134.1 49.7,133.1 49.7,131.3 49.8,129.7 49.8,129.3 49.9,130.2 49.9,131.7 50.0,133.0 50.0,133.4 50.0,132.8 50.1,131.7 50.1,130.5 50.2,129.9 50.2,130.2 50.3,131.3 50.3,132.6 50.4,133.4 50.4,133.3 50.4,132.3 50.5,130.8 50.5,130.0 50.6,129.9 50.6,130.6 50.7,131.9 50.7,133.6 50.8,134.1 50.8,133.4 50.9,131.7 50.9,129.9 50.9,128.8 51.0,129.1 51.0,130.8 51.1,132.9 51.1,134.3 51.2,134.5 51.2,133.1 51.3,130.9 51.3,129.2 51.4,128.6 51.4,129.8 51.4,132.2 51.5,133.9 51.5,133.7 51.6,130.7 51.6,128.6 51.7,130.1 51.7,132.7 51.8,134.9 51.8,134.9 51.9,133.0 51.9,130.4 51.9,128.4 52.0,128.1 52.0,129.6 52.1,132.2 52.1,133.5 52.2,134.1 52.2,133.4 52.3,131.7 52.3,130.0 52.4,127.8 52.4,128.4 52.4,130.7 52.5,133.5 52.5,135.1 52.6,134.9 52.6,132.9 52.7,130.2 52.7,128.3 52.8,128.3 52.8,130.1 52.9,132.7 52.9,134.6 52.9,134.7 53.0,132.9 53.0,130.5 53.1,129.1 53.1,129.3 53.2,130.9 53.2,132.8 53.3,133.7 53.3,133.3 53.4,132.0 53.4,130.5 53.4,130.1 53.5,130.4 53.5,131.4 53.6,132.3 53.6,133.0 53.7,132.7 53.7,131.9 53.8,130.8 53.8,129.8 53.9,129.7 53.9,130.7 53.9,132.5 54.0,134.3 54.0,134.8 54.1,133.7 54.1,131.1 54.2,128.5 54.2,127.2 54.3,128.0 54.3,130.8 54.4,134.3 54.4,136.3 54.4,136.5 54.5,134.4 54.5,130.8 54.6,127.4 54.6,124.9 54.7,125.2 54.7,127.4 54.8,130.7 54.8,134.0 54.9,137.0 54.9,139.5 54.9,140.4 55.0,138.9 55.0,134.6 55.1,128.7 55.1,124.5 55.2,122.6 55.2,124.6 55.3,129.8 55.3,135.8 55.4,140.5 55.4,140.9 55.4,137.1 55.5,130.8 55.5,124.8 55.6,122.0 55.6,123.6 55.7,128.9 55.7,135.5 55.8,139.9 55.8,140.7 55.9,137.1 55.9,131.0 55.9,125.2 56.0,122.4 56.0,123.9 56.1,129.1 56.1,135.5 56.2,139.2 56.2,139.7 56.3,136.3 56.3,130.7 56.4,125.7 56.4,123.4 56.4,125.2 56.5,130.0 56.5,135.6 56.6,139.8 56.6,139.7 56.7,135.7 56.7,129.6 56.8,123.8 56.8,122.0 56.9,125.0 56.9,131.2 56.9,137.5 57.0,141.0 57.0,140.0 57.1,135.1 57.1,128.8 57.2,123.7 57.2,121.9 57.3,123.0 57.3,125.7 57.4,129.1 57.4,133.2 57.4,137.6 57.5,139.3 57.5,139.2 57.6,135.8 57.6,130.5 57.7,125.1 57.7,123.0 57.8,125.1 57.8,130.4 57.9,136.3 57.9,139.6 57.9,138.9 58.0,134.5 58.0,128.7 58.1,125.3 58.1,124.8 58.2,127.6 58.2,132.5 58.3,138.4 58.3,140.6 58.4,138.2 58.4,132.7 58.4,126.8 58.5,124.7 58.5,125.3 58.6,128.8 58.6,133.6 58.7,137.9 58.7,138.9 58.8,136.4 58.8,131.8 58.9,127.2 58.9,124.8 58.9,125.6 59.0,129.2 59.0,133.7 59.1,137.2 59.1,138.0 59.2,136.0 59.2,132.1 59.3,128.1 59.3,125.8 59.4,126.1 59.4,128.8 59.4,132.6 59.5,135.9 59.5,137.2 59.6,136.0 59.6,133.0 59.7,129.5 59.7,127.8 59.8,127.5 59.8,128.9 59.9,131.4 59.9,133.8 59.9,135.7 60.0,135.5 60.0,133.8 60.1,131.3 60.1,129.1 60.2,128.3 60.2,128.6 60.3,130.0 60.3,131.9 60.4,133.6 60.4,134.4 60.4,134.2 60.5,133.0 60.5,131.4 60.6,130.0 60.6,128.9 60.7,129.1 60.7,130.3 60.8,131.9 60.8,133.3 60.8,133.9 60.9,133.4 60.9,132.3 61.0,130.9 61.0,130.0 61.1,129.9 61.1,130.5 61.2,131.6 61.2,132.5 61.3,132.6 61.3,132.4 61.3,131.9 61.4,131.2 61.4,130.3 61.5,130.0 61.5,130.6 61.6,131.8 61.6,132.8 61.7,133.4 61.7,133.0 61.8,131.9 61.8,130.5 61.8,129.7 61.9,129.8 61.9,130.8 62.0,132.3 62.0,133.8 62.1,134.0 62.1,133.0 62.2,131.2 62.2,130.0 62.3,129.5 62.3,130.1 62.3,131.6 62.4,133.2 62.4,134.2 62.5,133.6 62.5,131.7 62.6,129.7 62.6,129.0 62.7,129.7 62.7,131.5 62.8,133.5 62.8,134.7 62.8,133.8 62.9,131.5 62.9,128.8 63.0,127.6 63.0,128.7 63.1,131.4 63.1,134.5 63.2,135.1 63.2,134.6 63.3,132.5 63.3,129.8 63.3,126.9 63.4,126.8 63.4,129.0 63.5,132.6 63.5,135.7 63.6,137.0 63.6,135.9 63.7,132.7 63.7,128.8 63.8,126.6 63.8,126.3 63.8,128.4 63.9,132.1 63.9,135.6 64.0,138.1 64.0,137.0 64.1,133.6 64.1,129.4 64.2,128.0 64.2,127.6 64.3,129.0 64.3,131.6 64.3,134.1 64.4,136.2 64.4,135.5 64.5,133.1 64.5,130.0 64.6,127.4 64.6,127.1 64.7,128.9 64.7,132.0 64.8,134.7 64.8,135.7 64.8,134.7 64.9,132.2 64.9,129.5 65.0,128.0 65.0,128.4 65.1,130.5 65.1,133.0 65.2,135.2 65.2,135.2 65.3,133.2 65.3,130.5 65.3,128.8 65.4,128.6 65.4,130.1 65.5,132.4 65.5,134.3 65.6,134.6 65.6,133.2 65.7,130.8 65.7,129.1 65.8,128.8 65.8,130.2 65.8,132.4 65.9,133.8 65.9,134.0 66.0,132.7 66.0,130.8 66.1,129.5 66.1,129.5 66.2,130.8 66.2,132.6 66.3,134.5 66.3,134.1 66.3,132.1 66.4,129.7 66.4,128.7 66.5,129.7 66.5,132.0 66.6,134.2 66.6,134.5 66.7,132.7 66.7,130.2 66.8,129.3 66.8,129.6 66.8,131.2 66.9,133.1 66.9,134.1 67.0,133.5 67.0,131.7 67.1,130.0 67.1,129.2 67.2,129.9 67.2,131.5 67.3,133.1 67.3,133.9 67.3,133.4 67.4,131.9 67.4,130.3 67.5,130.0 67.5,130.3 67.6,131.2 67.6,132.3 67.7,133.6 67.7,133.5 67.8,132.4 67.8,130.9 67.8,129.9 67.9,129.8 67.9,130.6 68.0,131.9 68.0,132.6 68.1,132.9 68.1,132.4 68.2,131.6 68.2,130.8 68.3,130.1 68.3,130.5 68.3,131.4 68.4,132.4 68.4,132.7 68.5,132.5 68.5,131.9 68.6,131.0 68.6,130.4 68.7,130.4 68.7,131.0 68.8,132.0 68.8,132.8 68.8,133.0 68.9,132.5 68.9,131.5 69.0,130.3 69.0,129.7 69.1,130.0 69.1,131.1 69.2,132.5 69.2,133.5 69.3,133.7 69.3,133.0 69.3,131.6 69.4,130.2 69.4,130.0 69.5,130.0 69.5,130.7 69.6,131.8 69.6,132.9 69.7,133.8 69.7,133.5 69.8,132.3 69.8,130.7 69.8,128.9 69.9,128.5 69.9,129.6 70.0,131.8 70.0,133.9 70.1,134.3 70.1,133.8 70.2,132.2 70.2,130.2 70.3,128.4 70.3,128.5 70.3,130.2 70.4,132.7 70.4,134.9 70.5,135.4 70.5,133.9 70.6,131.1 70.6,129.1 70.7,128.2 70.7,129.1 70.8,131.4 70.8,133.8 70.8,135.7 70.9,135.1 70.9,132.7 71.0,129.6 71.0,127.6 71.1,127.7 71.1,129.8 71.2,132.7 71.2,134.5 71.3,135.0 71.3,133.7 71.3,131.5 71.4,129.4 71.4,127.6 71.5,128.3 71.5,130.7 71.6,133.4 71.6,134.2 71.7,134.2 71.7,133.0 71.8,131.1 71.8,128.9 71.8,128.1 71.9,129.0 71.9,131.1 72.0,133.3 72.0,134.2 72.1,134.1 72.1,132.9 72.2,131.2 72.2,129.7 72.2,129.1 72.3,129.6 72.3,130.8 72.4,132.3 72.4,133.3 72.5,133.7 72.5,133.4 72.6,132.5 72.6,131.5 72.7,130.5 72.7,129.5 72.7,129.3 72.8,130.0 72.8,131.2 72.9,132.6 72.9,133.7 73.0,133.8 73.0,133.1 73.1,131.6 73.1,130.2 73.2,129.9 73.2,130.1 73.2,130.9 73.3,132.1 73.3,133.3 73.4,133.6 73.4,133.0 73.5,131.7 73.5,130.5 73.6,130.2 73.6,130.3 73.7,131.0 73.7,131.9 73.7,133.0 73.8,133.4 73.8,132.9 73.9,131.8 73.9,130.7 74.0,130.1 74.0,130.1 74.1,130.8 74.1,131.9 74.2,132.9 74.2,133.4 74.2,133.0 74.3,132.0 74.3,130.8 74.4,130.3 74.4,130.2 74.5,130.8 74.5,131.7 74.6,132.6 74.6,133.2 74.7,133.0 74.7,132.1 74.7,131.0 74.8,130.1 74.8,129.9 74.9,130.5 74.9,131.6 75.0,132.7 75.0,132.9 75.1,132.8 75.1,132.1 75.2,131.2 75.2,130.6 75.2,130.4 75.3,130.7 75.3,131.4 75.4,132.2 75.4,133.0 75.5,133.1 75.5,132.5 75.6,131.5 75.6,130.6 75.7,130.6 75.7,130.7 75.7,131.3 75.8,132.0 75.8,132.9 75.9,132.9 75.9,132.2 76.0,131.2 76.0,130.3 76.1,130.2 76.1,131.0 76.2,132.1 76.2,132.6 76.2,132.6 76.3,132.0 76.3,131.2 76.4,130.4 76.4,130.5 76.5,131.2 76.5,132.1 76.6,132.8 76.6,132.8 76.7,132.2 76.7,131.2 76.7,130.7 76.8,130.5 76.8,130.9 76.9,131.8 76.9,133.0 77.0,133.5 77.0,133.0 77.1,131.7 77.1,130.3 77.2,129.4 77.2,129.6 77.2,130.9 77.3,132.6 77.3,133.3 77.4,133.5 77.4,132.8 77.5,131.4 77.5,129.8 77.6,129.1 77.6,129.5 77.7,131.0 77.7,132.8 77.7,134.9 77.8,135.2 77.8,133.8 77.9,131.3 77.9,128.8 78.0,128.7 78.0,129.1 78.1,130.7 78.1,132.8 78.2,135.1 78.2,135.5 78.2,134.1 78.3,131.3 78.3,128.6 78.4,128.2 78.4,128.8 78.5,130.8 78.5,133.3 78.6,135.9 78.6,135.9 78.7,133.7 78.7,130.4 78.7,127.8 78.8,127.1 78.8,128.7 78.9,131.7 78.9,134.5 79.0,136.7 79.0,135.7 79.1,132.7 79.1,129.2 79.2,128.3 79.2,128.4 79.2,130.1 79.3,132.5 79.3,134.4 79.4,134.9 79.4,133.7 79.5,131.5 79.5,129.5 79.6,127.8 79.6,128.6 79.7,130.9 79.7,133.4 79.7,134.4 79.8,134.3 79.8,132.8 79.9,130.8 79.9,129.0 80.0,128.6 80.0,129.8 80.1,131.8 80.1,133.6 80.2,133.6 80.2,133.1 80.2,131.9 80.3,130.6 80.3,129.5 80.4,129.7 80.4,130.8 80.5,132.3 80.5,133.5 80.6,133.7 80.6,132.8 80.7,131.4 80.7,129.9 80.7,129.4 80.8,129.9 80.8,131.3 80.9,132.7 80.9,133.6 81.0,133.5 81.0,132.5 81.1,131.1 81.1,130.4 81.2,130.1 81.2,130.1 81.2,130.4 81.3,130.4 81.3,130.2 81.4,130.6 81.4,131.4 81.5,132.3 81.5,132.9 81.6,132.9 81.6,132.3 81.7,131.4 81.7,130.6 81.7,130.3 81.8,130.5 81.8,131.2 81.9,132.1 81.9,132.8 82.0,133.1 82.0,132.8 82.1,131.9 82.1,130.9 82.2,129.9 82.2,129.6 82.2,130.1 82.3,131.3 82.3,132.7 82.4,133.8 82.4,134.0 82.5,133.2 82.5,131.7 82.6,130.0 82.6,129.2 82.7,129.2 82.7,130.3 82.7,132.1 82.8,133.9 82.8,134.7 82.9,134.2 82.9,132.3 83.0,130.1 83.0,128.5 83.1,128.2 83.1,129.6 83.1,132.0 83.2,134.0 83.2,134.9 83.3,134.3 83.3,132.4 83.4,129.9 83.4,127.5 83.5,127.4 83.5,129.2 83.6,132.3 83.6,135.3 83.6,136.6 83.7,135.5 83.7,132.4 83.8,128.9 83.8,128.3 83.9,128.4 83.9,129.9 84.0,132.2 84.0,135.4 84.1,136.5 84.1,135.5 84.1,132.9 84.2,130.0 84.2,129.0 84.3,128.5 84.3,128.9 84.4,129.9 84.4,131.1 84.5,132.3 84.5,133.5 84.6,135.0 84.6,135.0 84.6,134.0 84.7,132.1 84.7,130.0 84.8,129.2 84.8,129.1 84.9,130.0 84.9,131.6 85.0,133.1 85.0,134.4 85.1,134.1 85.1,132.8 85.1,131.0 85.2,129.4 85.2,128.9 85.3,129.5 85.3,130.9 85.4,132.6 85.4,133.8 85.5,134.1 85.5,133.4 85.6,132.0 85.6,130.5 85.6,129.6 85.7,129.4 85.7,130.1 85.8,131.4 85.8,132.7 85.9,133.7 85.9,133.7 86.0,132.9 86.0,131.5 86.1,130.2 86.1,129.4 86.1,129.7 86.2,130.7 86.2,132.2 86.3,133.3 86.3,133.6 86.4,133.0 86.4,131.7 86.5,130.4 86.5,130.1 86.6,130.2 86.6,131.1 86.6,132.1 86.7,133.2 86.7,133.3 86.8,132.6 86.8,131.4 86.9,130.6 86.9,130.3 87.0,130.6 87.0,131.6 87.1,132.8 87.1,134.2 87.1,133.7 87.2,131.7 87.2,129.4 87.3,129.2 87.3,130.1 87.4,132.3 87.4,135.2 87.5,135.2 87.5,132.3 87.6,128.7 87.6,127.5 87.6,128.6 87.7,131.8 87.7,134.5 87.8,135.7 87.8,134.6 87.9,131.7 87.9,128.6 88.0,125.5 88.0,126.5 88.1,130.3 88.1,135.0 88.1,137.8 88.2,137.6 88.2,134.3 88.3,129.3 88.3,126.4 88.4,125.7 88.4,128.0 88.5,132.5 88.5,138.9 88.6,141.4 88.6,138.7 88.6,131.8 88.7,124.2 88.7,122.2 88.8,124.3 88.8,130.8 88.9,138.3 88.9,143.9 89.0,140.9 89.0,131.6 89.1,122.4 89.1,118.9 89.1,124.3 89.2,135.3 89.2,145.7 89.3,146.1 89.3,135.7 89.4,121.7 89.4,116.0 89.5,119.1 89.5,130.6 89.6,143.5 89.6,147.9 89.6,143.8 89.7,132.1 89.7,119.4 89.8,110.6 89.8,115.2 89.9,129.6 89.9,146.0 90.0,103.8 90.0,108.1 90.1,125.8 90.1,101.1 90.1,102.9 90.2,106.0 90.2,122.3 90.3,158.9 90.3,155.1 90.4,155.2 90.4,143.5 90.5,126.6 90.5,115.6 90.6,112.5 90.6,118.3 90.6,128.5 90.7,136.8 90.7,137.1 90.8,133.9 90.8,139.0 90.9,143.3 90.9,143.8 91.0,139.0 91.0,131.3 91.1,124.2 91.1,119.5 91.1,122.0 91.2,129.0 91.2,136.6 91.3,141.1 91.3,140.8 91.4,136.2 91.4,129.9 91.5,125.1 91.5,123.7 91.6,126.0 91.6,130.3 91.6,134.7 91.7,135.6 91.7,135.7 91.8,134.1 91.8,131.8 91.9,129.6 91.9,127.2 92.0,127.3 92.0,129.1 92.1,131.5 92.1,133.6 92.1,135.0 92.2,134.9 92.2,133.4 92.3,131.2 92.3,129.6 92.4,128.9 92.4,129.4 92.5,130.9 92.5,132.7 92.6,133.7 92.6,133.8 92.6,132.9 92.7,131.4 92.7,130.1 92.8,128.8 92.8,129.3 92.9,131.0 92.9,132.9 93.0,134.2 93.0,134.2 93.1,133.0 93.1,131.1 93.1,130.1 93.2,129.6 93.2,130.2 93.3,131.5 93.3,132.9 93.4,134.7 93.4,134.3 93.5,132.5 93.5,130.2 93.5,128.9 93.6,128.8 93.6,130.2 93.7,132.4 93.7,134.2 93.8,134.6 93.8,133.4 93.9,131.2 93.9,128.9 94.0,128.0 94.0,129.1 94.0,131.6 94.1,134.2 94.1,134.6 94.2,133.9 94.2,131.9 94.3,129.7 94.3,127.4 94.4,128.1 94.4,130.7 94.5,134.0 94.5,136.0 94.5,135.6 94.6,132.9 94.6,129.4 94.7,128.7 94.7,128.8 94.8,130.5 94.8,132.7 94.9,135.2 94.9,135.3 95.0,133.5 95.0,130.7 95.0,128.9 95.1,128.5 95.1,129.6 95.2,131.7 95.2,133.7 95.3,134.8 95.3,134.2 95.4,132.5 95.4,130.4 95.5,128.1 95.5,127.7 95.5,128.7 95.6,130.4 95.6,132.0 95.7,133.3 95.7,134.2 95.8,135.0 95.8,135.1 95.9,134.1 95.9,132.2 96.0,130.0 96.0,129.0 96.0,128.9 96.1,130.0 96.1,131.8 96.2,133.5 96.2,133.6 96.3,133.2 96.3,132.1 96.4,130.7 96.4,128.4 96.5,128.2 96.5,129.8 96.5,132.3 96.6,134.5 96.6,135.3 96.7,134.1 96.7,131.5 96.8,128.6 96.8,127.4 96.9,129.4 96.9,135.1 97.0,133.8 97.0,129.0 97.0,126.9 97.1,127.9 97.1,131.1 97.2,134.6 97.2,136.1 97.3,135.4 97.3,132.6 97.4,129.2 97.4,126.7 97.5,127.0 97.5,129.8 97.5,133.6 97.6,136.9 97.6,137.1 97.7,134.3 97.7,129.9 97.8,127.0 97.8,126.3 97.9,128.7 97.9,132.7 98.0,136.3 98.0,137.4 98.0,135.1 98.1,130.8 98.1,127.1 98.2,125.8 98.2,128.0 98.3,132.2 98.3,136.3 98.4,137.5 98.4,135.2 98.5,130.9 98.5,127.3 98.5,126.5 98.6,129.0 98.6,133.1 98.7,136.2 98.7,135.7 98.8,132.2 98.8,128.3 98.9,127.3 98.9,129.5 99.0,133.0 99.0,134.4 99.0,134.2 99.1,132.5 99.1,130.4 99.2,128.4 99.2,128.7 99.3,130.4 99.3,132.6 99.4,134.0 99.4,134.1 99.5,133.0 99.5,131.5 99.5,130.2 99.6,130.1 99.6,130.4 99.7,131.1 99.7,131.9 99.8,132.6 99.8,132.7 99.9,132.6 99.9,132.0 100.0,131.2 100.0,130.5 100.0,130.2 100.1,130.5 100.1,131.2 100.2,132.2 100.2,133.2 100.3,133.4 100.3,132.9 100.4,131.7 100.4,130.4 100.5,129.5 100.5,129.5 100.5,130.5 100.6,132.1 100.6,133.3 100.7,133.8 100.7,133.2 100.8,131.8 100.8,130.3 100.9,129.3 100.9,129.4 101.0,130.6 101.0,132.4 101.0,133.9 101.1,134.3 101.1,133.3 101.2,131.4 101.2,129.5 101.3,128.3 101.3,129.0 101.4,131.1 101.4,133.4 101.5,134.2 101.5,134.0 101.5,132.5 101.6,130.6 101.6,128.6 101.7,128.5 101.7,130.0 101.8,132.4 101.8,134.1 101.9,134.5 101.9,133.4 102.0,131.3 102.0,129.0 102.0,128.2 102.1,129.2 102.1,131.5 102.2,133.8 102.2,135.1 102.3,134.5 102.3,132.3 102.4,129.7 102.4,128.6 102.5,128.8 102.5,130.4 102.5,132.6 102.6,134.7 102.6,135.2 102.7,133.9 102.7,131.5 102.8,129.2 102.8,128.2 102.9,128.6 102.9,130.3 103.0,132.7 103.0,134.5 103.0,135.1 103.1,134.2 103.1,132.3 103.2,130.0 103.2,128.4 103.3,128.1 103.3,129.2 103.4,131.4 103.4,133.7 103.5,134.4 103.5,134.4 103.5,133.1 103.6,131.2 103.6,129.3 103.7,128.4 103.7,128.9 103.8,130.6 103.8,132.8 103.9,135.0 103.9,135.5 104.0,134.4 104.0,132.1 104.0,129.6 104.1,127.6 104.1,127.4 104.2,128.8 104.2,131.3 104.3,134.0 104.3,134.6 104.4,134.7 104.4,133.7 104.4,131.8 104.5,129.8 104.5,127.6 104.6,127.5 104.6,129.2 104.7,131.9 104.7,134.5 104.8,136.3 104.8,135.8 104.9,133.4 104.9,130.1 104.9,127.7 105.0,127.0 105.0,128.4 105.1,131.3 105.1,134.3 105.2,136.2 105.2,135.9 105.3,133.6 105.3,130.3 105.4,127.6 105.4,126.7 105.4,128.1 105.5,131.1 105.5,134.3 105.6,135.9 105.6,135.8 105.7,133.8 105.7,130.8 105.8,128.1 105.8,127.0 105.9,127.8 105.9,130.1 105.9,133.1 106.0,135.7 106.0,136.7 106.1,135.7 106.1,133.1 106.2,129.9 106.2,128.6 106.3,128.0 106.3,128.8 106.4,130.8 106.4,133.1 106.4,136.1 106.5,136.5 106.5,134.7 106.6,131.5 106.6,128.3 106.7,126.6 106.7,127.3 106.8,130.1 106.8,133.7 106.9,136.3 106.9,136.6 106.9,134.4 107.0,130.8 107.0,127.8 107.1,126.7 107.1,128.0 107.2,131.2 107.2,134.7 107.3,136.9 107.3,136.1 107.4,133.0 107.4,129.1 107.4,126.4 107.5,126.6 107.5,129.5 107.6,133.6 107.6,135.0 107.7,135.2 107.7,133.4 107.8,130.6 107.8,128.6 107.9,128.2 107.9,129.7 107.9,132.3 108.0,135.2 108.0,135.9 108.1,134.3 108.1,131.1 108.2,127.4 108.2,126.1 108.3,127.8 108.3,131.5 108.4,135.3 108.4,136.1 108.4,135.2 108.5,132.4 108.5,129.2 108.6,127.9 108.6,128.1 108.7,130.1 108.7,132.9 108.8,136.5 108.8,137.1 108.9,134.9 108.9,131.1 108.9,128.1 109.0,126.8 109.0,127.9 109.1,130.8 109.1,134.1 109.2,136.2 109.2,136.1 109.3,133.7 109.3,130.3 109.4,126.7 109.4,125.8 109.4,127.9 109.5,131.8 109.5,135.7 109.6,137.3 109.6,136.1 109.7,132.6 109.7,128.6 109.8,125.9 109.8,126.3 109.9,129.5 109.9,133.8 109.9,136.5 110.0,136.8 110.0,134.4 110.1,130.5 110.1,126.8 110.2,125.7 110.2,127.7 110.3,131.8 110.3,135.8 110.4,137.6 110.4,136.3 110.4,132.4 110.5,128.1 110.5,127.8 110.6,128.2 110.6,130.4 110.7,133.3 110.7,137.2 110.8,137.3 110.8,134.4 110.9,130.0 110.9,126.6 110.9,125.7 111.0,127.9 111.0,132.0 111.1,136.0 111.1,137.7 111.2,136.2 111.2,132.4 111.3,128.2 111.3,125.8 111.4,126.3 111.4,129.5 111.4,133.7 111.5,137.7 111.5,138.3 111.6,135.6 111.6,131.0 111.7,127.2 111.7,125.4 111.8,126.7 111.8,130.2 111.9,134.5 111.9,136.5 111.9,136.6 112.0,134.2 112.0,130.6 112.1,126.4 112.1,125.1 112.2,127.2 112.2,131.5 112.3,135.9 112.3,135.9 112.4,135.0 112.4,132.2 112.4,129.2 112.5,126.4 112.5,127.1 112.6,130.3 112.6,134.2 112.7,137.4 112.7,137.0 112.8,133.6 112.8,129.2 112.9,126.2 112.9,126.2 112.9,129.0 113.0,133.2 113.0,135.7 113.1,136.3 113.1,134.3 113.2,131.0 113.2,127.2 113.3,125.9 113.3,127.6 113.4,131.4 113.4,135.2 113.4,136.5 113.5,135.6 113.5,132.7 113.6,129.3 113.6,126.7 113.7,126.9 113.7,129.4 113.8,133.0 113.8,135.5 113.9,136.0 113.9,134.4 113.9,131.3 114.0,128.6 114.0,127.3 114.1,128.3 114.1,130.9 114.2,133.8 114.2,135.7 114.3,135.3 114.3,133.0 114.4,130.0 114.4,128.9 114.4,128.9 114.5,130.4 114.5,132.5 114.6,134.9 114.6,135.0 114.7,132.9 114.7,130.1 114.8,128.8 114.8,129.2 114.9,131.2 114.9,133.3 114.9,133.8 115.0,133.2 115.0,131.6 115.1,130.2 115.1,129.3 115.2,129.9 115.2,131.4 115.3,133.0 115.3,133.6 115.4,133.3 115.4,132.1 115.4,130.7 115.5,129.8 115.5,129.8 115.6,130.7 115.6,132.0 115.7,133.6 115.7,134.0 115.8,133.3 115.8,131.7 115.8,130.2 115.9,129.8 115.9,130.0 116.0,131.0 116.0,132.2 116.1,133.5 116.1,133.7 116.2,132.9 116.2,131.5 116.3,130.2 116.3,129.4 116.3,129.8 116.4,131.1 116.4,132.6 116.5,132.9 116.5,132.9 116.6,132.3 116.6,131.3 116.7,130.2 116.7,129.9 116.8,130.4 116.8,131.5 116.8,132.7 116.9,133.4 116.9,133.1 117.0,132.1 117.0,130.8 117.1,130.2 117.1,130.1 117.2,130.8 117.2,132.0 117.3,133.2 117.3,133.7 117.3,133.2 117.4,131.7 117.4,130.0 117.5,129.1 117.5,129.4 117.6,130.8 117.6,132.8 117.7,134.6 117.7,134.9 117.8,133.4 117.8,130.9 117.8,128.6 117.9,127.7 117.9,128.7 118.0,131.3 118.0,134.2 118.1,135.6 118.1,135.2 118.2,133.0 118.2,129.9 118.3,128.9 118.3,128.6 118.3,129.8 118.4,131.9 118.4,135.6 118.5,137.3 118.5,136.5 118.6,133.6 118.6,130.7 118.7,133.8 118.7,135.5 118.8,132.5 118.8,128.4 118.8,126.5 118.9,126.2 118.9,128.5 119.0,132.3 119.0,136.8 119.1,138.8 119.1,137.4 119.2,133.2 119.2,128.1 119.3,124.2 119.3,123.9 119.3,127.3 119.4,132.9 119.4,137.2 119.5,139.2 119.5,137.5 119.6,129.9 119.6,127.0 119.7,122.8 119.7,122.1 119.8,127.0 119.8,129.9 119.8,124.5 119.9,140.5 119.9,137.2 120.0,132.5 120.0,127.5 120.1,125.4 120.1,125.9 120.2,129.2 120.2,133.5 120.3,136.8 120.3,137.5 120.3,135.1 120.4,131.1 120.4,126.4 120.5,124.6 120.5,126.5 120.6,131.0 120.6,135.7 120.7,137.9 120.7,136.7 120.8,132.7 120.8,128.3 120.8,127.0 120.9,127.8 120.9,130.7 121.0,134.0 121.0,136.4 121.1,135.5 121.1,132.3 121.2,128.9 121.2,127.3 121.3,128.3 121.3,131.3 121.3,134.4 121.4,134.6 121.4,133.7 121.5,131.5 121.5,128.5 121.6,127.5 121.6,129.0 121.7,132.0 121.7,133.9 121.8,134.5 121.8,133.2 121.8,131.1 121.9,129.6 121.9,129.3 122.0,130.3 122.0,132.0 122.1,134.2 122.1,134.6 122.2,133.3 122.2,131.1 122.3,129.4 122.3,128.8 122.3,129.8 122.4,131.9 122.4,134.1 122.5,135.0 122.5,134.1 122.6,131.6 122.6,129.1 122.7,129.1 122.7,129.6 122.8,131.2 122.8,133.1 122.8,135.0 122.9,134.7 122.9,132.6 123.0,129.9 123.0,127.6 123.1,127.6 123.1,129.7 123.2,133.0 123.2,135.3 123.3,135.8 123.3,134.1 123.3,130.9 123.4,127.5 123.4,126.3 123.5,128.0 123.5,131.7 123.6,135.5 123.6,135.7 123.7,134.7 123.7,132.0 123.8,129.0 123.8,125.9 123.8,126.9 123.9,130.6 123.9,135.0 124.0,137.2 124.0,136.4 124.1,132.6 124.1,128.0 124.2,126.6 124.2,127.7 124.3,131.4 124.3,135.9 124.3,137.6 124.4,135.2 124.4,130.2 124.5,126.3 124.5,125.9 124.6,129.4 124.6,134.4 124.7,124.2 124.7,124.9 124.8,129.8 124.8,123.6 124.8,123.8 124.9,125.0 124.9,130.0 125.0,139.3 125.0,138.6 125.1,137.6 125.1,133.4 125.2,128.3 125.2,125.0 125.3,125.4 125.3,129.1 125.3,134.0 125.4,137.7 125.4,138.2 125.5,135.5 125.5,131.1 125.6,127.1 125.6,126.2 125.7,126.7 125.7,128.7 125.8,131.5 125.8,134.1 125.8,136.2 125.9,136.8 125.9,135.6 126.0,132.9 126.0,129.6 126.1,126.6 126.1,126.2 126.2,128.3 126.2,132.0 126.2,134.4 126.3,135.4 126.3,134.6 126.4,132.2 126.4,129.6 126.5,127.6 126.5,128.0 126.6,130.2 126.6,133.0 126.7,135.7 126.7,135.9 126.7,133.8 126.8,130.7 126.8,128.7 126.9,128.2 126.9,129.4 127.0,131.8 127.0,134.2 127.1,135.0 127.1,134.0 127.2,131.7 127.2,129.4 127.2,129.1 127.3,129.7 127.3,131.4 127.4,133.1 127.4,134.9 127.5,134.1 127.5,132.0 127.6,129.7 127.6,129.0 127.7,129.6 127.7,131.3 127.7,133.1 127.8,134.1 127.8,133.5 127.9,131.9 127.9,130.3 128.0,129.8 128.0,130.2 128.1,131.3 128.1,132.5 128.2,133.1 128.2,132.9 128.2,132.0 128.3,131.0 128.3,130.1 128.4,130.2 128.4,131.0 128.5,132.1 128.5,132.9 128.6,132.9 128.6,132.3 128.7,131.3 128.7,130.6 128.7,130.5 128.8,131.0 128.8,131.8 128.9,132.7 128.9,133.1 129.0,132.5 129.0,131.2 129.1,130.1 129.1,129.7 129.2,130.5 129.2,132.2 129.2,134.2 129.3,134.5 129.3,132.8 129.4,130.1 129.4,128.8 129.5,129.0 129.5,131.0 129.6,133.5 129.6,135.5 129.7,134.8 129.7,132.0 129.7,128.8 129.8,127.2 129.8,128.1 129.9,131.2 129.9,134.7 130.0,136.8 130.0,135.9 130.1,132.4 130.1,128.3 130.2,125.6 130.2,126.3 130.2,130.1 130.3,134.9 130.3,138.0 130.4,137.7 130.4,133.9 130.5,128.7 130.5,125.8 130.6,125.6 130.6,128.8 130.7,133.7 130.7,138.0 130.7,123.5 130.8,127.2 130.8,129.7 130.9,122.7 130.9,122.7 131.0,126.3 131.0,130.4 131.1,140.6 131.1,140.2 131.2,137.3 131.2,131.4 131.2,125.6 131.3,124.4 131.3,126.1 131.4,130.7 131.4,135.8 131.5,139.3 131.5,138.3 131.6,133.9 131.6,128.5 131.7,124.3 131.7,124.2 131.7,127.7 131.8,133.0 131.8,136.8 131.9,138.1 131.9,136.3 132.0,132.4 132.0,128.3 132.1,125.5 132.1,125.8 132.2,128.5 132.2,132.4 132.2,135.6 132.3,137.0 132.3,136.4 132.4,134.1 132.4,131.1 132.5,128.6 132.5,127.6 132.6,127.7 132.6,129.0 132.7,131.1 132.7,133.2 132.7,134.8 132.8,135.0 132.8,134.0 132.9,132.1 132.9,130.1 133.0,128.8 133.0,128.8 133.1,129.9 133.1,131.7 133.2,133.3 133.2,134.1 133.2,133.8 133.3,132.5 133.3,130.9 133.4,129.4 133.4,129.0 133.5,129.8 133.5,131.4 133.6,133.1 133.6,134.0 133.7,133.9 133.7,132.7 133.7,131.0 133.8,130.0 133.8,129.6 133.9,130.1 133.9,131.3 134.0,132.6 134.0,133.4 134.1,133.4 134.1,132.6 134.2,131.3 134.2,130.2 134.2,129.8 134.3,130.2 134.3,131.2 134.4,132.4 134.4,133.5 134.5,133.5 134.5,132.7 134.6,131.4 134.6,130.5 134.7,130.2 134.7,130.5 134.7,131.3 134.8,132.3 134.8,133.5 134.9,133.5 134.9,132.6 135.0,131.2 135.0,130.1 135.1,129.8 135.1,130.3 135.2,131.4 135.2,132.6 135.2,133.1 135.3,133.0 135.3,132.2 135.4,131.2 135.4,130.0 135.5,129.6 135.5,130.2 135.6,131.3 135.6,132.4 135.7,132.8 135.7,133.0 135.7,132.8 135.8,132.5 135.8,132.0 135.9,131.4 135.9,130.8 136.0,129.9 136.0,130.0 136.1,130.7 136.1,131.8 136.2,132.8 136.2,133.0 136.2,132.8 136.3,132.0 136.3,130.9 136.4,130.0 136.4,129.9 136.5,130.8 136.5,132.0 136.6,133.1 136.6,133.4 136.7,132.8 136.7,131.5 136.7,130.5 136.8,130.0 136.8,130.5 136.9,131.5 136.9,132.7 137.0,133.5 137.0,132.9 137.1,131.6 137.1,130.3 137.1,129.8 137.2,130.5 137.2,131.9 137.3,133.2 137.3,133.5 137.4,132.5 137.4,131.0 137.5,130.2 137.5,130.2 137.6,130.9 137.6,132.1 137.6,132.7 137.7,132.8 137.7,132.2 137.8,131.3 137.8,130.0 137.9,129.7 137.9,130.3 138.0,131.7 138.0,133.0 138.1,133.6 138.1,133.2 138.1,132.0 138.2,130.6 138.2,130.2 138.3,130.2 138.3,131.0 138.4,132.1 138.4,133.4 138.5,133.6 138.5,132.8 138.6,131.4 138.6,130.1 138.6,129.5 138.7,130.0 138.7,131.2 138.8,132.6 138.8,133.2 138.9,133.2 138.9,132.6 139.0,131.9 139.0,131.5 139.1,131.6 139.1,131.1 139.1,130.0 139.2,129.4 139.2,129.8 139.3,130.9 139.3,132.4 139.4,133.3 139.4,133.4 139.5,132.6 139.5,131.3 139.6,129.9 139.6,129.5 139.6,130.1 139.7,131.5 139.7,132.9 139.8,133.5 139.8,133.1 139.9,132.0 139.9,130.7 140.0,130.0 140.0,130.1 140.1,130.9 140.1,132.1 140.1,133.1 140.2,133.2 140.2,132.5 140.3,131.3 140.3,130.4 140.4,130.1 140.4,130.6 140.5,131.6 140.5,132.6 140.6,133.1 140.6,132.7 140.6,131.8 140.7,130.8 140.7,130.2 140.8,130.3 140.8,131.1 140.9,132.2 140.9,132.9 141.0,132.9 141.0,132.2 141.1,131.2 141.1,130.6 141.1,130.5 141.2,131.1 141.2,132.2 141.3,133.0 141.3,130.8 141.4,129.9 141.4,130.6 141.5,132.1 141.5,133.4 141.6,133.8 141.6,132.9 141.6,131.2 141.7,129.7 141.7,129.1 141.8,129.8 141.8,131.6 141.9,133.5 141.9,134.5 142.0,134.1 142.0,132.3 142.1,130.0 142.1,129.1 142.1,129.1 142.2,130.3 142.2,132.4 142.3,134.1 142.3,134.7 142.4,133.7 142.4,131.7 142.5,129.5 142.5,127.0 142.6,127.4 142.6,130.0 142.6,133.5 142.7,135.8 142.7,136.3 142.8,134.6 142.8,131.3 142.9,128.1 142.9,126.0 143.0,126.9 143.0,130.0 143.1,134.1 143.1,137.0 143.1,137.4 143.2,135.0 143.2,130.8 143.3,126.6 143.3,124.7 143.4,126.2 143.4,130.4 143.5,135.2 143.5,137.3 143.6,137.2 143.6,134.3 143.6,130.0 143.7,125.8 143.7,124.7 143.8,126.9 143.8,131.6 143.9,136.4 143.9,138.8 144.0,137.6 144.0,133.3 144.1,128.0 144.1,127.0 144.1,127.1 144.2,129.5 144.2,133.0 144.3,138.1 144.3,139.1 144.4,136.1 144.4,130.7 144.5,126.8 144.5,125.2 144.6,127.0 144.6,131.2 144.6,135.7 144.7,138.9 144.7,137.8 144.8,133.5 144.8,128.4 144.9,125.4 144.9,124.8 145.0,126.5 145.0,129.2 145.1,132.0 145.1,134.9 145.1,136.5 145.2,137.5 145.2,136.2 145.3,132.7 145.3,128.6 145.4,124.4 145.4,124.7 145.5,128.7 145.5,134.4 145.6,139.5 145.6,139.8 145.6,127.2 145.7,128.6 145.7,122.8 145.8,121.6 145.8,126.9 145.9,128.9 145.9,123.3 146.0,140.9 146.0,135.6 146.1,129.4 146.1,124.2 146.1,123.5 146.2,127.5 146.2,133.6 146.3,137.1 146.3,137.7 146.4,134.9 146.4,130.4 146.5,127.2 146.5,126.5 146.6,128.6 146.6,132.2 146.6,136.5 146.7,137.7 146.7,135.6 146.8,131.5 146.8,127.7 146.9,126.9 146.9,128.2 147.0,131.2 147.0,134.3 147.1,135.4 147.1,134.5 147.1,132.1 147.2,129.5 147.2,128.5 147.3,129.3 147.3,131.3 147.4,133.5 147.4,134.3 147.5,133.4 147.5,131.3 147.6,128.8 147.6,128.2 147.6,129.9 147.7,132.6 147.7,134.1 147.8,134.2 147.8,132.7 147.9,130.7 147.9,128.6 148.0,128.5 148.0,130.1 148.1,132.4 148.1,134.2 148.1,134.5 148.2,133.4 148.2,131.3 148.3,130.0 148.3,129.5 148.4,130.0 148.4,131.3 148.5,132.7 148.5,134.2 148.5,134.0 148.6,132.6 148.6,130.8 148.7,129.5 148.7,129.3 148.8,130.2 148.8,131.7 148.9,133.2 148.9,134.1 149.0,133.6 149.0,132.2 149.0,130.6 149.1,129.3 149.1,129.1 149.2,130.2 149.2,131.9 149.3,133.3 149.3,133.8 149.4,133.3 149.4,132.0 149.5,130.5 149.5,129.4 149.5,129.4 149.6,130.5 149.6,132.1 149.7,133.4 149.7,133.8 149.8,133.1 149.8,131.7 149.9,130.3 149.9,129.5 150.0,129.8 150.0,131.0 150.0,132.5 150.1,133.6 150.1,133.6 150.2,132.7 150.2,131.2 150.3,130.1 150.3,129.8 150.4,130.3 150.4,131.5 150.5,132.7 150.5,133.5 150.5,133.3 150.6,132.2 150.6,130.9 150.7,130.0 150.7,129.9 150.8,130.6 150.8,131.7 150.9,132.8 150.9,133.6 151.0,133.2 151.0,132.1 151.0,130.8 151.1,129.9 151.1,129.7 151.2,130.5 151.2,131.7 151.3,132.9 151.3,133.4 151.4,133.1 151.4,132.2 151.5,131.0 151.5,130.1 151.5,129.9 151.6,130.4 151.6,131.4 151.7,132.5 151.7,133.0 151.8,133.0 151.8,132.3 151.9,131.4 151.9,130.4 152.0,130.0 152.0,130.3 152.0,131.2 152.1,132.3 152.1,133.0 152.2,133.0 152.2,132.5 152.3,131.4 152.3,130.3 152.4,129.8 152.4,130.2 152.5,131.2 152.5,132.4 152.5,132.9 152.6,133.0 152.6,132.3 152.7,131.3 152.7,130.4 152.8,130.0 152.8,130.5 152.9,131.5 152.9,132.6 153.0,133.5 153.0,133.2 153.0,132.1 153.1,130.7 153.1,129.9 153.2,129.9 153.2,130.8 153.3,132.2 153.3,133.3 153.4,133.5 153.4,132.3 153.5,130.5 153.5,130.7 153.5,132.5 153.6,133.5 153.6,133.0 153.7,131.8 153.7,130.5 153.8,129.5 153.8,129.5 153.9,130.3 153.9,131.7 154.0,133.0 154.0,133.5 154.0,133.5 154.1,132.7 154.1,131.4 154.2,130.2 154.2,129.4 154.3,129.7 154.3,130.8 154.4,132.4 154.4,133.3 154.5,133.5 154.5,132.8 154.5,131.5 154.6,129.9 154.6,129.1 154.7,129.6 154.7,131.2 154.8,133.1 154.8,133.9 154.9,133.7 154.9,132.3 155.0,130.4 155.0,129.3 155.0,129.4 155.1,130.7 155.1,132.7 155.2,133.5 155.2,133.5 155.3,132.4 155.3,130.7 155.4,129.4 155.4,129.4 155.5,130.6 155.5,132.5 155.5,134.5 155.6,134.6 155.6,133.1 155.7,130.6 155.7,128.2 155.8,127.8 155.8,129.4 155.9,132.2 155.9,134.2 156.0,134.9 156.0,134.0 156.0,131.8 156.1,129.4 156.1,127.8 156.2,128.3 156.2,130.4 156.3,133.2 156.3,135.7 156.4,136.1 156.4,134.3 156.5,131.1 156.5,128.1 156.5,126.7 156.6,127.7 156.6,130.4 156.7,133.7 156.7,135.9 156.8,136.1 156.8,134.3 156.9,131.1 156.9,128.2 157.0,127.4 157.0,128.2 157.0,130.5 157.1,133.4 157.1,135.8 157.2,136.1 157.2,134.3 157.3,131.3 157.3,128.4 157.4,127.6 157.4,128.2 157.5,130.3 157.5,133.0 157.5,135.6 157.6,136.3 157.6,135.0 157.7,132.4 157.7,129.6 157.8,127.6 157.8,126.9 157.9,127.4 157.9,128.6 158.0,130.4 158.0,132.7 158.0,134.9 158.1,136.5 158.1,136.3 158.2,134.2 158.2,131.0 158.3,128.0 158.3,127.1 158.4,127.8 158.4,130.3 158.5,133.5 158.5,135.7 158.5,136.0 158.6,134.2 158.6,131.1 158.7,128.2 158.7,127.1 158.8,128.1 158.8,131.0 158.9,134.1 158.9,136.7 158.9,136.3 159.0,133.5 159.0,129.7 159.1,126.9 159.1,126.4 159.2,128.7 159.2,132.5 159.3,135.0 159.3,135.9 159.4,134.6 159.4,131.7 159.4,128.7 159.5,126.1 159.5,127.1 159.6,130.5 159.6,134.6 159.7,136.1 159.7,135.8 159.8,133.3 159.8,129.9 159.9,126.6 159.9,126.1 159.9,128.4 160.0,132.3 160.0,135.7 160.1,137.1 160.1,135.9 160.2,132.6 160.2,128.9 160.3,125.8 160.3,125.6 160.4,127.9 160.4,131.8 160.4,135.6 160.5,136.4 160.5,136.3 160.6,134.2 160.6,131.1 160.7,128.2 160.7,127.0 160.8,127.4 160.8,129.7 160.9,132.8 160.9,136.9 160.9,138.2 161.0,136.4 161.0,132.4 161.1,127.9 161.1,126.1 161.2,126.3 161.2,129.2 161.3,133.3 161.3,136.6 161.4,137.4 161.4,135.4 161.4,131.4 161.5,127.4 161.5,125.2 161.6,126.4 161.6,130.2 161.7,134.8 161.7,137.7 161.8,137.6 161.8,134.5 161.9,129.9 161.9,125.4 161.9,124.1 162.0,126.6 162.0,131.5 162.1,136.5 162.1,139.1 162.2,138.2 162.2,134.4 162.3,129.4 162.3,125.0 162.4,123.2 162.4,124.0 162.4,126.4 162.5,129.6 162.5,133.2 162.6,137.0 162.6,139.6 162.7,139.9 162.7,137.0 162.8,131.6 162.8,125.8 162.9,122.2 162.9,123.1 162.9,128.3 163.0,135.4 163.0,140.5 163.1,141.4 163.1,137.4 163.2,130.2 163.2,125.3 163.3,123.2 163.3,125.4 163.4,130.9 163.4,137.0 163.4,139.7 163.5,138.7 163.5,134.1 163.6,127.7 163.6,123.0 163.7,122.5 163.7,126.8 163.8,134.0 163.8,142.5 163.9,145.1 163.9,140.8 163.9,131.3 164.0,121.4 164.0,115.6 164.1,118.3 164.1,128.1 164.2,140.3 164.2,147.8 164.3,147.8 164.3,139.5 164.4,126.7 164.4,117.8 164.4,156.0 164.5,148.9 164.5,133.4 164.6,158.1 164.6,155.5 164.7,156.3 164.7,148.3 164.8,107.2 164.8,146.5 164.9,143.1 164.9,134.9 164.9,125.6 165.0,117.4 165.0,117.2 165.1,123.7 165.1,133.5 165.2,144.0 165.2,147.6 165.3,143.5 165.3,134.0 165.4,124.2 165.4,121.1 165.4,121.8 165.5,127.0 165.5,133.9 165.6,140.9 165.6,142.6 165.7,139.2 165.7,132.4 165.8,125.6 165.8,121.1 165.9,122.3 165.9,127.6 165.9,134.4 166.0,139.3 166.0,140.4 166.1,137.5 166.1,132.3 166.2,127.2 166.2,125.0 166.3,125.2 166.3,127.9 166.4,131.9 166.4,135.6 166.4,138.3 166.5,138.3 166.5,136.1 166.6,132.6 166.6,128.8 166.7,127.3 166.7,126.7 166.8,128.0 166.8,130.6 166.9,133.6 166.9,137.2 166.9,137.6 167.0,135.3 167.0,131.4 167.1,127.8 167.1,126.2 167.2,127.0 167.2,130.0 167.3,133.6 167.3,136.1 167.4,136.4 167.4,134.5 167.4,131.2 167.5,128.3 167.5,128.7 167.6,129.3 167.6,131.0 167.7,132.8 167.7,135.2 167.8,135.2 167.8,133.6 167.9,131.2 167.9,128.9 167.9,128.1 168.0,128.8 168.0,130.8 168.1,133.0 168.1,134.6 168.2,134.7 168.2,133.5 168.3,131.5 168.3,129.8 168.4,128.9 168.4,129.1 168.4,130.4 168.5,132.2 168.5,133.5 168.6,134.0 168.6,133.6 168.7,132.3 168.7,130.7 168.8,128.9 168.8,128.5 168.9,129.4 168.9,131.2 168.9,133.3 169.0,134.5 169.0,134.6 169.1,133.4 169.1,131.3 169.2,129.3 169.2,128.7 169.3,129.1 169.3,130.8 169.4,132.8 169.4,134.4 169.4,134.6 169.5,133.3 169.5,131.1 169.6,129.3 169.6,128.7 169.7,129.6 169.7,131.7 169.8,133.8 169.8,134.5 169.8,133.4 169.9,131.0 169.9,128.9 170.0,128.8 170.0,130.7 170.1,133.3 170.1,134.7 170.2,134.0 170.2,131.7 170.3,129.3 170.3,127.9 170.3,129.1 170.4,131.7 170.4,134.1 170.5,134.7 170.5,133.9 170.6,131.8 170.6,129.6 170.7,128.8 170.7,129.3 170.8,131.1 170.8,133.1 170.8,134.2 170.9,134.0 170.9,132.5 171.0,130.6 171.0,129.6 171.1,129.5 171.1,130.5 171.2,132.1 171.2,134.2 171.3,134.7 171.3,133.6 171.3,131.6 171.4,129.6 171.4,128.6 171.5,129.1 171.5,130.8 171.6,132.8 171.6,134.0 171.7,134.2 171.7,133.3 171.8,131.9 171.8,130.4 171.8,129.6 171.9,129.3 171.9,129.6 172.0,130.5 172.0,131.8 172.1,133.0 172.1,134.1 172.2,133.9 172.2,132.9 172.3,131.2 172.3,130.0 172.3,129.5 172.4,130.0 172.4,131.2 172.5,132.5 172.5,133.6 172.6,133.6 172.6,132.7 172.7,131.3 172.7,129.8 172.8,129.3 172.8,129.8 172.8,131.1 172.9,132.6 172.9,133.4 173.0,133.5 173.0,132.9 173.1,131.9 173.1,130.9 173.2,130.1 173.2,129.8 173.3,129.7 173.3,130.0 173.3,130.6 173.4,131.6 173.4,132.6 173.5,132.9 173.5,132.9 173.6,132.4 173.6,131.5 173.7,130.7 173.7,129.8 173.8,130.0 173.8,131.0 173.8,132.3 173.9,132.9 173.9,133.1 174.0,132.5 174.0,131.5 174.1,130.7 174.1,130.1 174.2,130.4 174.2,131.2 174.3,132.2 174.3,132.7 174.3,132.8 174.4,132.2 174.4,131.4 174.5,130.7 174.5,130.1 174.6,130.2 174.6,131.4 174.7,133.5 174.7,135.5 174.8,135.5 174.8,133.0 174.8,129.0 174.9,125.5 174.9,124.9 175.0,123.8 175.0,129.6 175.1,125.0 175.1,124.0 175.2,139.2 175.2,131.2 175.3,128.1 175.3,126.8 175.3,128.0 175.4,130.9 175.4,134.1 175.5,136.6 175.5,136.2 175.6,133.6 175.6,130.1 175.7,127.0 175.7,126.3 175.8,127.9 175.8,131.1 175.8,134.3 175.9,136.4 175.9,136.5 176.0,134.7 176.0,131.8 176.1,128.9 176.1,127.9 176.2,128.0 176.2,129.5 176.3,132.0 176.3,134.2 176.3,134.8 176.4,134.1 176.4,132.3 176.5,130.2 176.5,127.6 176.6,127.7 176.6,129.8 176.7,132.8 176.7,134.6 176.8,135.1 176.8,133.8 176.8,131.2 176.9,128.6 176.9,127.5 177.0,128.6 177.0,131.3 177.1,134.3 177.1,136.9 177.2,136.2 177.2,133.0 177.3,128.9 177.3,126.0 177.3,126.0 177.4,129.0 177.4,133.4 177.5,135.9 177.5,136.6 177.6,134.6 177.6,131.0 177.7,127.6 177.7,126.2 177.8,127.7 177.8,131.3 177.8,135.3 177.9,138.9 177.9,137.6 178.0,132.9 178.0,127.3 178.1,123.5 178.1,124.5 178.2,129.7 178.2,136.2 178.3,140.0 178.3,139.0 178.3,133.4 178.4,126.5 178.4,123.1 178.5,139.2 178.5,133.0 178.6,137.4 178.6,141.3 178.7,139.3 178.7,133.1 178.8,136.8 178.8,122.5 178.8,124.0 178.9,129.1 178.9,135.3 179.0,138.5 179.0,138.5 179.1,135.0 179.1,130.0 179.2,125.5 179.2,124.3 179.3,126.6 179.3,131.2 179.3,135.8 179.4,138.2 179.4,137.5 179.5,134.1 179.5,129.7 179.6,127.5 179.6,126.9 179.7,128.4 179.7,131.3 179.8,134.2 179.8,137.2 179.8,136.8 179.9,134.1 179.9,130.5 180.0,127.8 180.0,126.8 180.1,128.0 180.1,130.7 180.2,133.7 180.2,135.7 180.3,135.6 180.3,133.7 180.3,131.0 180.4,128.6 180.4,127.9 180.5,128.9 180.5,131.2 180.6,133.5 180.6,133.7 180.7,133.4 180.7,132.2 180.8,130.8 180.8,129.0 180.8,128.9 180.9,130.2 180.9,132.4 181.0,134.2 181.0,134.7 181.1,133.5 181.1,131.2 181.2,129.7 181.2,129.0 181.2,129.7 181.3,131.5 181.3,133.4 181.4,135.6 181.4,134.9 181.5,132.5 181.5,129.5 181.6,127.5 181.6,127.5 181.7,129.7 181.7,132.9 181.7,134.4 181.8,135.0 181.8,133.8 181.9,131.5 181.9,129.2 182.0,127.2 182.0,127.9 182.1,130.5 182.1,133.6 182.2,136.2 182.2,136.5 182.2,134.4 182.3,130.8 182.3,128.6 182.4,127.6 182.4,128.5 182.5,130.8 182.5,133.6 182.6,136.4 182.6,136.6 182.7,134.3 182.7,130.8 182.7,127.5 182.8,126.2 182.8,127.4 182.9,130.5 182.9,134.0 183.0,135.4 183.0,135.5 183.1,133.8 183.1,131.2 183.2,128.9 183.2,126.5 183.2,127.5 183.3,130.2 183.3,133.4 183.4,135.5 183.4,135.9 183.5,134.3 183.5,131.6 183.6,129.1 183.6,128.0 183.7,128.4 183.7,130.2 183.7,132.5 183.8,134.1 183.8,134.5 183.9,133.6 183.9,131.9 184.0,130.1 184.0,128.8 184.1,129.0 184.1,130.4 184.2,132.2 184.2,132.8 184.2,132.9 184.3,132.5 184.3,131.7 184.4,130.9 184.4,129.8 184.5,130.1 184.5,131.1 184.6,132.2 184.6,132.8 184.7,132.8 184.7,132.2 184.7,131.4 184.8,130.8 184.8,130.6 184.9,130.8 184.9,131.5 185.0,132.4 185.0,133.5 185.1,133.3 185.1,132.2 185.2,130.7 185.2,130.0 185.2,129.8 185.3,130.6 185.3,132.0 185.4,133.6 185.4,134.1 185.5,133.4 185.5,131.7 185.6,129.8 185.6,128.7 185.7,129.1 185.7,130.7 185.7,132.9 185.8,134.6 185.8,134.9 185.9,133.5 185.9,131.0 186.0,128.9 186.0,127.9 186.1,128.8 186.1,131.2 186.2,133.8 186.2,135.1 186.2,134.9 186.3,133.1 186.3,130.5 186.4,127.7 186.4,127.1 186.5,128.6 186.5,131.5 186.6,134.3 186.6,134.3 186.7,134.0 186.7,132.6 186.7,130.8 186.8,128.6 186.8,128.0 186.9,129.1 186.9,131.2 187.0,133.5 187.0,135.0 187.1,134.9 187.1,133.4 187.2,131.1 187.2,128.9 187.2,128.0 187.3,128.8 187.3,130.8 187.4,133.1 187.4,134.6 187.5,134.7 187.5,133.3 187.6,131.1 187.6,129.6 187.7,129.1 187.7,129.8 187.7,131.4 187.8,133.0 187.8,133.5 187.9,133.3 187.9,132.2 188.0,130.7 188.0,128.5 188.1,128.5 188.1,130.3 188.2,132.9 188.2,134.9 188.2,135.0 188.3,133.0 188.3,130.0 188.4,127.9 188.4,128.1 188.5,130.5 188.5,133.8 188.6,135.9 188.6,135.2 188.7,132.1 188.7,128.6 188.7,128.7 188.8,129.4 188.8,131.5 188.9,133.7 188.9,136.4 189.0,135.1 189.0,131.7 189.1,128.1 189.1,127.7 189.2,128.7 189.2,131.3 189.2,134.2 189.3,137.4 189.3,136.3 189.4,132.5 189.4,128.1 189.5,125.5 189.5,126.4 189.6,130.4 189.6,135.2 189.7,136.0 189.7,135.3 189.7,132.2 189.8,128.6 189.8,124.7 189.9,126.9 189.9,132.5 190.0,136.9 190.0,137.6 190.1,134.0 190.1,128.6 190.2,139.1 190.2,138.1 190.2,133.0 190.3,139.6 190.3,139.5 190.4,138.0 190.4,132.9 190.5,123.7 190.5,125.1 190.6,125.9 190.6,129.7 190.7,134.5 190.7,138.5 190.7,138.4 190.8,134.8 190.8,129.6 190.9,126.0 190.9,125.1 191.0,127.4 191.0,131.9 191.1,136.1 191.1,138.7 191.2,137.3 191.2,133.2 191.2,128.3 191.3,125.5 191.3,125.4 191.4,128.2 191.4,132.6 191.5,136.5 191.5,138.1 191.6,136.8 191.6,133.2 191.7,129.0 191.7,125.7 191.7,125.0 191.8,127.1 191.8,130.9 191.9,134.9 191.9,136.8 192.0,137.0 192.0,135.2 192.1,132.1 192.1,128.9 192.1,126.9 192.2,126.7 192.2,128.4 192.3,131.4 192.3,134.4 192.4,136.4 192.4,136.2 192.5,134.1 192.5,131.0 192.6,128.3 192.6,127.1 192.6,127.9 192.7,130.3 192.7,133.2 192.8,135.8 192.8,136.3 192.9,134.6 192.9,131.7 193.0,128.8 193.0,128.1 193.1,128.5 193.1,130.3 193.1,132.5 193.2,134.1 193.2,134.6 193.3,133.7 193.3,131.9 193.4,130.1 193.4,128.6 193.5,128.7 193.5,130.1 193.6,132.0 193.6,133.8 193.6,134.5 193.7,133.9 193.7,132.3 193.8,130.6 193.8,129.5 193.9,129.4 193.9,130.1 194.0,131.5 194.0,133.0 194.1,133.9 194.1,133.7 194.1,132.7 194.2,131.1 194.2,129.8 194.3,129.3 194.3,129.8 194.4,131.2 194.4,132.7 194.5,133.9 194.5,134.0 194.6,132.9 194.6,131.1 194.6,129.6 194.7,129.1 194.7,129.8 194.8,131.4 194.8,133.2 194.9,133.3 194.9,133.0 195.0,132.0 195.0,130.7 195.1,129.0 195.1,129.2 195.1,130.7 195.2,132.9 195.2,134.2 195.3,134.1 195.3,132.5 195.4,130.4 195.4,129.0 195.5,128.9 195.5,130.4 195.6,132.8 195.6,134.3 195.6,134.6 195.7,133.3 195.7,130.9 195.8,128.6 195.8,127.7 195.9,128.7 195.9,131.3 196.0,134.2 196.0,136.1 196.1,135.9 196.1,133.5 196.1,130.0 196.2,126.6 196.2,125.5 196.3,127.4 196.3,131.5 196.4,135.9 196.4,136.8 196.5,136.2 196.5,133.3 196.6,129.3 196.6,125.9 196.6,125.4 196.7,128.1 196.7,132.6 196.8,138.7 196.8,140.9 196.9,138.5 196.9,132.2 197.0,125.4 197.0,122.1 197.1,123.4 197.1,129.1 197.1,136.4 197.2,139.4 197.2,139.3 197.3,135.0 197.3,128.7 197.4,142.3 197.4,143.3 197.5,137.9 197.5,144.2 197.6,142.0 197.6,143.7 197.6,138.7 197.7,119.6 197.7,122.6 197.8,120.5 197.8,124.5 197.9,132.3 197.9,138.6 198.0,140.9 198.0,138.2 198.1,131.9 198.1,125.7 198.1,121.9 198.2,124.0 198.2,130.0 198.3,136.7 198.3,140.5 198.4,139.6 198.4,134.6 198.5,128.1 198.5,123.7 198.6,123.4 198.6,127.3 198.6,133.3 198.7,138.0 198.7,139.3 198.8,136.7 198.8,131.6 198.9,126.6 198.9,124.2 199.0,125.7 199.0,130.2 199.1,135.3 199.1,139.0 199.1,138.6 199.2,134.5 199.2,128.8 199.3,125.4 199.3,124.9 199.4,128.0 199.4,133.1 199.5,137.7 199.5,139.0 199.6,136.2 199.6,130.9 199.6,125.1 199.7,123.0 199.7,125.7 199.8,131.8 199.8,137.9 199.9,140.1 199.9,137.8 200.0,132.0 200.0,125.9 200.1,124.3 200.1,125.8 200.1,130.5 200.2,135.8 200.2,139.6 200.3,139.0 200.3,134.9 200.4,129.2 200.4,125.2 200.5,141.4 200.5,139.2 200.6,133.9 200.6,141.6 200.6,140.0 200.7,141.1 200.7,138.6 200.8,122.4 200.8,128.4 200.9,125.4 200.9,125.2 201.0,127.8 201.0,132.0 201.1,135.8 201.1,139.1 201.1,137.6 201.2,133.4 201.2,128.6 201.3,127.5 201.3,127.5 201.4,129.5 201.4,132.3 201.5,135.0 201.5,135.7 201.6,134.5 201.6,131.9 201.6,129.4 201.7,126.9 201.7,127.6 201.8,130.2 201.8,133.2 201.9,135.0 201.9,135.1 202.0,133.5 202.0,131.2 202.1,129.8 202.1,129.4 202.1,130.0 202.2,131.4 202.2,132.8 202.3,134.1 202.3,133.8 202.4,132.5 202.4,130.7 202.5,129.5 202.5,129.3 202.5,130.3 202.6,131.9 202.6,132.9 202.7,133.3 202.7,132.8 202.8,131.7 202.8,130.6 202.9,130.2 202.9,130.5 203.0,131.8 203.0,132.9 203.0,130.8 203.1,129.8 203.1,130.3 203.2,131.5 203.2,132.7 203.3,133.2 203.3,132.8 203.4,131.8 203.4,130.7 203.5,130.5 203.5,130.8 203.5,131.5 203.6,132.3 203.6,132.5 203.7,132.2 203.7,131.4 203.8,130.2 203.8,130.2 203.9,131.2 203.9,132.7 204.0,133.4 204.0,133.0 204.0,131.6 204.1,130.1 204.1,129.5 204.2,130.0 204.2,131.5 204.3,133.1 204.3,133.6 204.4,133.3 204.4,132.0 204.5,130.5 204.5,128.7 204.5,128.8 204.6,130.3 204.6,132.6 204.7,134.1 204.7,134.6 204.8,133.5 204.8,131.5 204.9,129.4 204.9,127.8 205.0,128.4 205.0,130.6 205.0,133.4 205.1,134.8 205.1,135.1 205.2,133.6 205.2,131.2 205.3,128.6 205.3,127.4 205.4,128.0 205.4,130.4 205.5,133.3 205.5,135.6 205.5,136.2 205.6,134.8 205.6,132.0 205.7,128.9 205.7,126.4 205.8,126.4 205.8,128.5 205.9,132.1 205.9,135.6 206.0,137.4 206.0,136.6 206.0,133.4 206.1,129.3 206.1,126.4 206.2,125.8 206.2,128.2 206.3,132.3 206.3,135.9 206.4,137.2 206.4,135.5 206.5,131.7 206.5,127.9 206.5,126.1 206.6,127.5 206.6,131.2 206.7,135.1 206.7,136.8 206.8,135.5 206.8,132.0 206.9,128.3 206.9,127.0 207.0,128.0 207.0,131.1 207.0,134.4 207.1,136.8 207.1,135.8 207.2,132.5 207.2,128.8 207.3,127.9 207.3,128.3 207.4,130.4 207.4,133.2 207.5,135.5 207.5,135.5 207.5,133.5 207.6,130.6 207.6,127.6 207.7,127.0 207.7,128.7 207.8,131.8 207.8,134.8 207.9,136.2 207.9,135.2 208.0,132.4 208.0,129.3 208.0,127.3 208.1,127.5 208.1,129.7 208.2,132.8 208.2,134.5 208.3,135.0 208.3,133.8 208.4,131.6 208.4,129.4 208.5,128.6 208.5,129.1 208.5,130.8 208.6,132.9 208.6,135.2 208.7,135.3 208.7,133.7 208.8,131.1 208.8,128.7 208.9,127.8 208.9,128.6 209.0,130.9 209.0,133.4 209.0,134.9 209.1,134.9 209.1,133.5 209.2,131.2 209.2,129.2 209.3,128.4 209.3,128.9 209.4,130.5 209.4,132.5 209.5,133.9 209.5,134.4 209.5,133.8 209.6,132.3 209.6,130.5 209.7,129.4 209.7,129.1 209.8,130.0 209.8,131.5 209.9,133.1 209.9,133.9 210.0,133.6 210.0,132.4 210.0,130.9 210.1,129.3 210.1,129.1 210.2,130.0 210.2,131.7 210.3,133.3 210.3,134.4 210.4,133.8 210.4,132.2 210.5,130.3 210.5,129.5 210.5,129.6 210.6,130.6 210.6,132.1 210.7,133.0 210.7,133.3 210.8,132.8 210.8,131.7 210.9,130.6 210.9,129.4 211.0,129.7 211.0,130.9 211.0,132.4 211.1,133.3 211.1,133.5 211.2,132.8 211.2,131.5 211.3,130.3 211.3,129.9 211.4,130.2 211.4,131.1 211.5,132.3 211.5,133.3 211.5,133.4 211.6,132.6 211.6,131.3 211.7,130.3 211.7,129.9 211.8,130.4 211.8,131.4 211.9,132.5 211.9,133.0 212.0,132.9 212.0,132.1 212.0,131.1 212.1,130.3 212.1,130.3 212.2,130.9 212.2,131.9 212.3,132.6 212.3,132.8 212.4,132.4 212.4,131.5 212.5,130.6 212.5,130.2 212.5,130.5 212.6,131.5 212.6,132.6 212.7,132.9 212.7,132.8 212.8,132.0 212.8,130.9 212.9,129.9 212.9,129.8 213.0,130.7 213.0,132.1 213.0,133.5 213.1,134.0 213.1,133.3 213.2,131.7 213.2,130.0 213.3,129.1 213.3,129.4 213.4,130.8 213.4,132.7 213.4,134.3 213.5,134.5 213.5,133.2 213.6,131.1 213.6,129.3 213.7,128.6 213.7,129.4 213.8,131.4 213.8,133.5 213.9,135.1 213.9,134.8 213.9,132.8 214.0,130.1 214.0,129.2 214.1,129.1 214.1,130.1 214.2,132.0 214.2,134.5 214.3,135.5 214.3,134.6 214.4,132.2 214.4,129.4 214.4,127.2 214.5,127.1 214.5,129.0 214.6,131.9 214.6,134.6 214.7,135.6 214.7,135.9 214.8,135.5 214.8,134.3 214.9,132.5 214.9,130.2 214.9,129.1 215.0,128.6 215.0,129.2 215.1,130.8 215.1,132.7 215.2,135.8 215.2,136.2 215.3,134.6 215.3,131.7 215.4,128.9 215.4,127.9 215.4,128.3 215.5,129.9 215.5,132.2 215.6,134.1 215.6,134.7 215.7,134.5 215.7,133.4 215.8,132.0 215.8,130.5 215.9,130.0 215.9,129.6 215.9,129.9 216.0,130.7 216.0,131.9 216.1,133.8 216.1,134.5 216.2,133.9 216.2,132.3 216.3,130.5 216.3,130.0 216.4,130.0 216.4,130.7 216.4,131.8 216.5,133.0 216.5,133.4 216.6,132.9 216.6,131.8 216.7,130.7 216.7,129.7 216.8,129.9 216.8,130.9 216.9,132.2 216.9,133.0 216.9,133.2 217.0,132.6 217.0,131.4 217.1,130.3 217.1,129.8 217.2,130.2 217.2,131.3 217.3,132.6 217.3,133.7 217.4,133.6 217.4,132.6 217.4,131.0 217.5,130.0 217.5,129.7 217.6,130.3 217.6,131.6 217.7,132.9 217.7,133.4 217.8,133.2 217.8,132.0 217.9,130.6 217.9,129.0 217.9,129.2 218.0,130.9 218.0,133.1 218.1,133.3 218.1,132.9 218.2,131.5 218.2,129.8 218.3,129.4 218.3,130.4 218.4,132.1 218.4,133.5 218.4,133.6 218.5,132.6 218.5,131.2 218.6,129.9 218.6,129.7 218.7,130.4 218.7,131.6 218.8,132.8 218.8,133.3 218.9,132.9 218.9,132.0 218.9,130.9 219.0,130.5 219.0,130.5 219.1,131.0 219.1,131.7 219.2,132.4 219.2,132.7 219.3,132.5 219.3,131.9 219.4,131.1 219.4,130.5 219.4,130.4 219.5,130.9 219.5,131.7 219.6,132.5 219.6,132.9 219.7,132.7 219.7,132.0 219.8,131.1 219.8,130.5 219.9,130.3 219.9,130.8 219.9,131.6 220.0,132.5 220.0,132.9 220.1,132.7 220.1,131.9 220.2,130.9 220.2,130.3 220.3,130.4 220.3,131.4 220.4,132.5 220.4,133.1 220.4,132.4 220.5,131.2 220.5,130.5 220.6,130.5 220.6,131.2 220.7,132.2 220.7,133.1 220.8,133.1 220.8,132.2 220.9,131.0 220.9,130.1 220.9,129.9 221.0,130.7 221.0,131.9 221.1,132.8 221.1,133.3 221.2,132.8 221.2,131.7 221.3,130.4 221.3,129.7 221.4,129.9 221.4,131.0 221.4,132.6 221.5,133.5 221.5,133.5 221.6,132.5 221.6,130.9 221.7,129.9 221.7,129.7 221.8,130.6 221.8,132.2 221.9,134.3 221.9,134.6 221.9,132.9 222.0,130.3 222.0,128.5 222.1,128.7 222.1,130.8 222.2,133.6 222.2,134.5 222.3,134.0 222.3,132.0 222.4,129.7 222.4,128.8 222.4,129.2 222.5,131.0 222.5,133.1 222.6,135.1 222.6,135.1 222.7,133.3 222.7,130.6 222.8,127.7 222.8,126.9 222.9,128.3 222.9,131.3 222.9,134.6 223.0,135.4 223.0,135.2 223.1,133.3 223.1,130.6 223.2,127.7 223.2,126.7 223.3,127.9 223.3,130.9 223.4,134.2 223.4,136.8 223.4,136.9 223.5,134.5 223.5,130.7 223.6,127.0 223.6,125.4 223.7,126.5 223.7,130.1 223.8,134.4 223.8,136.5 223.9,136.9 223.9,134.9 223.9,131.5 224.0,128.1 224.0,126.3 224.1,126.6 224.1,128.8 224.2,131.8 224.2,134.7 224.3,136.7 224.3,137.3 224.3,136.7 224.4,135.0 224.4,132.3 224.5,129.2 224.5,126.1 224.6,125.1 224.6,126.7 224.7,130.3 224.7,134.5 224.8,135.1 224.8,135.3 224.8,133.9 224.9,131.4 224.9,129.0 225.0,125.1 225.0,126.0 225.1,129.5 225.1,134.0 225.2,136.9 225.2,137.5 225.3,135.4 225.3,131.4 225.3,127.5 225.4,126.4 225.4,127.2 225.5,130.0 225.5,133.7 225.6,137.6 225.6,138.0 225.7,135.4 225.7,130.9 225.8,126.3 225.8,124.3 225.8,125.9 225.9,130.2 225.9,135.3 226.0,137.5 226.0,137.4 226.1,134.4 226.1,130.0 226.2,126.4 226.2,125.4 226.3,127.5 226.3,131.6 226.3,135.7 226.4,138.2 226.4,137.0 226.5,133.1 226.5,128.6 226.6,125.2 226.6,125.3 226.7,128.6 226.7,133.3 226.8,136.8 226.8,137.6 226.8,135.3 226.9,131.2 226.9,128.2 227.0,127.0 227.0,128.4 227.1,131.9 227.1,135.7 227.2,136.1 227.2,130.8 227.3,127.0 227.3,128.6 227.3,132.2 227.4,135.7 227.4,136.6 227.5,134.9 227.5,131.7 227.6,128.5 227.6,126.9 227.7,127.5 227.7,129.8 227.8,132.8 227.8,134.8 227.8,135.5 227.9,134.5 227.9,132.4 228.0,130.0 228.0,127.9 228.1,127.6 228.1,129.0 228.2,131.5 228.2,133.9 228.3,135.5 228.3,135.4 228.3,133.6 228.4,130.9 228.4,128.3 228.5,127.1 228.5,127.9 228.6,130.3 228.6,133.4 228.7,135.8 228.7,136.5 228.8,135.1 228.8,132.2 228.8,129.0 228.9,127.2 228.9,126.9 229.0,128.4 229.0,131.0 229.1,133.8 229.1,135.7 229.2,136.5 229.2,136.0 229.3,134.4 229.3,132.0 229.3,129.5 229.4,127.8 229.4,126.9 229.5,127.5 229.5,129.4 229.6,132.1 229.6,134.7 229.7,137.0 229.7,137.1 229.8,135.4 229.8,132.5 229.8,129.2 229.9,127.1 229.9,126.2 230.0,127.0 230.0,129.5 230.1,132.8 230.1,136.6 230.2,138.4 230.2,137.6 230.3,134.2 230.3,129.6 230.3,127.4 230.4,126.5 230.4,127.8 230.5,130.8 230.5,134.2 230.6,136.7 230.6,136.6 230.7,134.2 230.7,130.6 230.8,126.3 230.8,124.9 230.8,126.7 230.9,130.8 230.9,135.2 231.0,136.5 231.0,136.1 231.1,133.5 231.1,130.0 231.2,126.6 231.2,126.0 231.3,128.3 231.3,132.1 231.3,135.8 231.4,137.3 231.4,135.7 231.5,131.8 231.5,127.9 231.6,134.3 231.6,136.1 231.7,133.7 231.7,130.3 231.8,127.2 231.8,126.7 231.8,128.8 231.9,132.3 231.9,134.8 232.0,135.6 232.0,134.3 232.1,131.6 232.1,129.0 232.2,127.3 232.2,128.3 232.3,131.0 232.3,133.9 232.3,135.2 232.4,134.9 232.4,132.7 232.5,129.9 232.5,127.1 232.6,127.0 232.6,129.5 232.7,133.2 232.7,136.2 232.8,136.9 232.8,134.6 232.8,130.6 232.9,127.2 232.9,126.0 233.0,127.8 233.0,131.7 233.1,135.8 233.1,138.0 233.2,136.6 233.2,132.4 233.3,127.7 233.3,125.1 233.3,125.8 233.4,129.7 233.4,134.7 233.5,137.2 233.5,137.3 233.6,134.3 233.6,129.7 233.7,124.9 233.7,124.0 233.8,127.2 233.8,132.9 233.8,136.9 233.9,138.3 233.9,136.1 234.0,131.2 234.0,126.0 234.1,123.9 234.1,126.3 234.2,132.0 234.2,137.9 234.3,122.1 234.3,126.0 234.3,129.3 234.4,121.6 234.4,122.4 234.5,128.3 234.5,127.0 234.6,141.1 234.6,136.1 234.7,132.6 234.7,128.7 234.8,123.4 234.8,124.8 234.8,130.0 234.9,135.9 234.9,139.4 235.0,138.5 235.0,133.8 235.1,128.1 235.1,124.5 235.2,124.8 235.2,128.7 235.2,134.0 235.3,137.3 235.3,137.6 235.4,134.8 235.4,130.3 235.5,126.0 235.5,125.0 235.6,127.6 235.6,132.3 235.7,136.4 235.7,137.8 235.7,135.8 235.8,131.6 235.8,127.6 235.9,126.0 235.9,127.2 236.0,130.9 236.0,135.2 236.1,137.6 236.1,136.9 236.2,133.1 236.2,128.3 236.2,124.6 236.3,124.8 236.3,128.8 236.4,134.5 236.4,137.7 236.5,138.2 236.5,135.2 236.6,130.1 236.6,124.3 236.7,122.4 236.7,125.4 236.7,131.8 236.8,138.4 236.8,137.9 236.9,136.6 236.9,132.6 237.0,127.9 237.0,123.5 237.1,124.1 237.1,128.8 237.2,135.2 237.2,138.5 237.2,138.9 237.3,135.3 237.3,129.6 237.4,123.2 237.4,121.6 237.5,125.3 237.5,132.4 237.6,141.2 237.6,145.0 237.7,141.9 237.7,145.4 237.7,139.2 237.8,144.6 237.8,143.5 237.9,118.5 237.9,134.8 238.0,141.1 238.0,142.4 238.1,138.6 238.1,131.7 238.2,125.0 238.2,121.1 238.2,122.3 238.3,127.6 238.3,134.5 238.4,140.2 238.4,141.8 238.5,139.0 238.5,133.0 238.6,126.6 238.6,123.0 238.7,123.1 238.7,126.8 238.7,132.6 238.8,138.0 238.8,140.4 238.9,138.8 238.9,134.0 239.0,128.3 239.0,125.3 239.1,124.8 239.1,127.5 239.2,131.9 239.2,136.0 239.2,138.8 239.3,137.6 239.3,133.6 239.4,128.9 239.4,126.5 239.5,126.2 239.5,128.4 239.6,132.0 239.6,135.3 239.7,136.9 239.7,135.9 239.7,133.0 239.8,129.5 239.8,127.3 239.9,127.0 239.9,128.8 240.0,131.8 240.0,134.6 240.1,135.9 240.1,135.4 240.2,133.3 240.2,130.7 240.2,128.4 240.3,127.4 240.3,127.9 240.4,129.6 240.4,131.8 240.5,133.8 240.5,136.0 240.6,136.2 240.6,134.9 240.7,132.4 240.7,129.6 240.7,129.1 240.8,129.0 240.8,129.9 240.9,131.6 240.9,133.2 241.0,135.2 241.0,134.7 241.1,132.8 241.1,130.4 241.2,128.8 241.2,128.5 241.2,129.8 241.3,131.8 241.3,133.8 241.4,134.5 241.4,133.8 241.5,132.1 241.5,130.2 241.6,128.9 241.6,129.0 241.7,130.4 241.7,132.5 241.7,134.1 241.8,134.4 241.8,133.3 241.9,131.3 241.9,129.4 242.0,128.6 242.0,129.5 242.1,131.6 242.1,133.7 242.2,133.7 242.2,133.0 242.2,131.2 242.3,129.3 242.3,129.6 242.4,132.0 242.4,134.4 242.5,134.1 242.5,132.0 242.6,129.6 242.6,128.5 242.7,129.2 242.7,131.3 242.7,133.5 242.8,134.8 242.8,134.4 242.9,132.5 242.9,130.1 243.0,128.3 243.0,128.3 243.1,130.0 243.1,132.6 243.2,134.2 243.2,134.7 243.2,133.5 243.3,131.4 243.3,129.6 243.4,128.9 243.4,129.5 243.5,131.3 243.5,133.3 243.6,134.5 243.6,134.1 243.7,132.3 243.7,130.1 243.7,127.8 243.8,128.2 243.8,130.8 243.9,134.0 243.9,135.2 244.0,133.8 244.0,130.3 244.1,127.8 244.1,129.1 244.2,132.6 244.2,135.1 244.2,135.1 244.3,133.0 244.3,130.1 244.4,129.0 244.4,128.7 244.5,128.7 244.5,128.6 244.6,128.8 244.6,129.8 244.7,131.7 244.7,133.7 244.7,134.5 244.8,134.0 244.8,132.3 244.9,130.1 244.9,127.3 245.0,127.5 245.0,129.8 245.1,133.1 245.1,135.2 245.2,135.6 245.2,133.9 245.2,130.9 245.3,127.9 245.3,126.9 245.4,128.5 245.4,131.7 245.5,134.9 245.5,136.1 245.6,135.1 245.6,132.2 245.7,128.9 245.7,127.3 245.7,127.9 245.8,130.4 245.8,133.6 245.9,135.8 245.9,135.7 246.0,133.5 246.0,130.2 246.1,127.4 246.1,126.9 246.1,128.9 246.2,132.1 246.2,134.0 246.3,134.8 246.3,133.9 246.4,131.9 246.4,129.9 246.5,127.7 246.5,128.2 246.6,130.2 246.6,132.9 246.6,135.1 246.7,135.5 246.7,134.0 246.8,131.5 246.8,129.2 246.9,128.6 246.9,129.0 247.0,130.5 247.0,132.3 247.1,134.0 247.1,134.6 247.1,134.0 247.2,132.7 247.2,131.2 247.3,129.9 247.3,129.6 247.4,129.6 247.4,130.1 247.5,131.1 247.5,132.1 247.6,132.9 247.6,133.3 247.6,133.1 247.7,132.3 247.7,131.2 247.8,129.9 247.8,129.3 247.9,129.7 247.9,130.9 248.0,132.6 248.0,133.9 248.1,134.4 248.1,133.5 248.1,131.8 248.2,129.8 248.2,128.8 248.3,128.8 248.3,130.1 248.4,132.2 248.4,133.8 248.5,134.6 248.5,134.0 248.6,132.3 248.6,130.2 248.6,128.6 248.7,128.3 248.7,129.6 248.8,131.9 248.8,134.1 248.9,135.6 248.9,135.0 249.0,132.8 249.0,130.0 249.1,128.2 249.1,127.8 249.1,129.1 249.2,131.7 249.2,134.4 249.3,136.3 249.3,135.8 249.4,133.2 249.4,129.7 249.5,126.9 249.5,126.4 249.6,128.5 249.6,132.5 249.6,134.7 249.7,135.3 249.7,133.1 249.8,129.7 249.8,127.0 249.9,128.5 249.9,132.1 250.0,136.0 250.0,136.8 250.1,134.5 250.1,130.5 250.1,127.3 250.2,126.7 250.2,128.8 250.3,132.4 250.3,135.1 250.4,135.8 250.4,134.2 250.5,131.2 250.5,128.7 250.6,127.8 250.6,129.0 250.6,131.6 250.7,134.1 250.7,134.6 250.8,133.8 250.8,131.9 250.9,129.9 250.9,127.8 251.0,128.5 251.0,130.7 251.1,133.3 251.1,134.8 251.1,134.6 251.2,132.8 251.2,130.5 251.3,128.8 251.3,128.7 251.4,130.0 251.4,132.1 251.5,133.8 251.5,134.3 251.6,133.4 251.6,131.7 251.6,130.0 251.7,129.5 251.7,129.9 251.8,131.1 251.8,132.5 251.9,133.1 251.9,133.0 252.0,132.3 252.0,131.2 252.1,130.3 252.1,130.2 252.1,130.7 252.2,131.6 252.2,132.5 252.3,132.8 252.3,132.6 252.4,131.8 252.4,131.0 252.5,130.4 252.5,130.4 252.6,131.1 252.6,132.0 252.6,132.7 252.7,132.9 252.7,132.4 252.8,131.5 252.8,130.6 252.9,130.3 252.9,130.6 253.0,131.5 253.0,132.5 253.1,132.7 253.1,132.5 253.1,131.8 253.2,131.0 253.2,130.2 253.3,130.3 253.3,131.2 253.4,132.2 253.4,132.7 253.5,132.7 253.5,132.1 253.6,131.2 253.6,130.4 253.6,130.3 253.7,130.9 253.7,131.9 253.8,132.7 253.8,133.0 253.9,132.5 253.9,131.5 254.0,130.9 254.0,130.6 254.1,131.0 254.1,132.3 254.1,130.9 254.2,130.7 254.2,130.7 254.3,131.2 254.3,131.9 254.4,132.9 254.4,133.1 254.5,132.5 254.5,131.4 254.6,130.4 254.6,130.0 254.6,130.4 254.7,131.3 254.7,132.5 254.8,133.0 254.8,132.9 254.9,132.2 254.9,131.3 255.0,130.2 255.0,129.9 255.1,130.4 255.1,131.3 255.1,132.5 255.2,133.0 255.2,133.1 255.3,132.5 255.3,131.6 255.4,130.6 255.4,129.8 255.5,129.8 255.5,130.5 255.6,131.6 255.6,132.8 255.6,133.6 255.7,133.6 255.7,132.8 255.8,131.4 255.8,130.1 255.9,129.4 255.9,129.6 256.0,130.8 256.0,132.4 256.1,133.4 256.1,133.7 256.1,133.0 256.2,131.6 256.2,130.1 256.3,129.1 256.3,129.5 256.4,131.0 256.4,132.8 256.5,133.6 256.5,133.6 256.6,132.6 256.6,131.0 256.6,129.1 256.7,128.7 256.7,129.9 256.8,132.0 256.8,133.8 256.9,134.5 256.9,133.5 257.0,131.4 257.0,129.4 257.0,128.6 257.1,129.6 257.1,131.7 257.2,134.3 257.2,135.3 257.3,134.2 257.3,131.5 257.4,129.6 257.4,128.8 257.5,129.6 257.5,131.5 257.5,133.5 257.6,134.9 257.6,134.2 257.7,132.0 257.7,129.5 257.8,127.6 257.8,128.2 257.9,130.7 257.9,133.8 258.0,135.8 258.0,135.5 258.0,133.0 258.1,129.7 258.1,127.8 258.2,127.9 258.2,130.0 258.3,133.1 258.3,135.2 258.4,135.3 258.4,133.1 258.5,130.1 258.5,128.9 258.5,129.2 258.6,131.1 258.6,133.5 258.7,135.7 258.7,133.2 258.8,129.2 258.8,127.6 258.9,129.4 258.9,132.7 259.0,134.2 259.0,134.2 259.0,132.7 259.1,130.6 259.1,128.2 259.2,128.1 259.2,129.9 259.3,132.6 259.3,134.1 259.4,134.4 259.4,133.3 259.5,131.4 259.5,129.8 259.5,129.2 259.6,129.8 259.6,131.3 259.7,132.9 259.7,133.9 259.8,133.7 259.8,132.4 259.9,130.8 259.9,129.0 260.0,128.9 260.0,130.1 260.0,132.1 260.1,133.0 260.1,133.3 260.2,132.7 260.2,131.6 260.3,130.5 260.3,129.4 260.4,129.9 260.4,131.2 260.5,132.7 260.5,133.4 260.5,133.2 260.6,132.1 260.6,130.9 260.7,130.5 260.7,130.5 260.8,131.1 260.8,132.0 260.9,133.2 260.9,133.3 261.0,132.4 261.0,131.1 261.0,130.6 261.1,130.5 261.1,131.1 261.2,131.9 261.2,132.9 261.3,133.1 261.3,132.4 261.4,131.2 261.4,130.5 261.5,130.3 261.5,130.9 261.5,131.9 261.6,132.8 261.6,133.0 261.7,132.4 261.7,131.3 261.8,130.5 261.8,130.2 261.9,130.8 261.9,131.8 262.0,132.9 262.0,133.2 262.0,132.6 262.1,131.4 262.1,130.4 262.2,130.1 262.2,130.6 262.3,131.7 262.3,132.6 262.4,132.9 262.4,132.5 262.5,131.6"/>
<polyline fill="none" stroke="#0000ff" stroke-width="0.6" stroke-linejoin="round" stroke-opacity="1" points="44.5,217.7 44.5,217.4 44.6,218.4 44.6,220.1 44.7,221.6 44.7,221.3 44.8,219.5 44.8,217.6 44.9,217.1 44.9,218.1 45.0,219.9 45.0,221.3 45.0,221.2 45.1,219.7 45.1,217.9 45.2,216.9 45.2,217.8 45.3,219.9 45.3,221.7 45.4,221.6 45.4,219.8 45.5,217.6 45.5,216.7 45.5,217.9 45.6,220.1 45.6,221.6 45.7,221.3 45.7,219.5 45.8,217.5 45.8,216.8 45.9,218.2 45.9,220.4 46.0,221.6 46.0,221.0 46.0,219.1 46.1,217.4 46.1,217.1 46.2,218.7 46.2,220.8 46.3,222.0 46.3,220.9 46.4,218.5 46.4,216.6 46.5,216.8 46.5,219.1 46.5,221.6 46.6,222.5 46.6,220.6 46.7,217.5 46.7,216.2 46.8,217.2 46.8,219.9 46.9,222.4 46.9,222.3 47.0,219.8 47.0,216.7 47.0,215.9 47.1,217.8 47.1,221.0 47.2,222.4 47.2,221.6 47.3,218.8 47.3,216.7 47.4,216.7 47.4,218.8 47.5,221.4 47.5,222.9 47.5,221.0 47.6,217.6 47.6,214.9 47.7,216.2 47.7,220.1 47.8,223.7 47.8,223.6 47.9,219.9 47.9,215.5 48.0,216.3 48.0,218.1 48.0,221.0 48.1,224.1 48.1,222.1 48.2,217.6 48.2,214.0 48.3,215.4 48.3,220.4 48.4,224.7 48.4,223.9 48.5,218.8 48.5,215.2 48.5,215.4 48.6,219.3 48.6,222.9 48.7,223.0 48.7,219.8 48.8,216.2 48.8,215.2 48.9,218.1 48.9,222.0 49.0,223.9 49.0,221.4 49.0,217.2 49.1,214.9 49.1,216.4 49.2,220.3 49.2,223.6 49.3,223.1 49.3,219.4 49.4,216.7 49.4,216.3 49.5,218.4 49.5,221.2 49.5,223.7 49.6,221.6 49.6,217.6 49.7,215.4 49.7,216.5 49.8,219.9 49.8,222.5 49.9,222.4 49.9,219.7 50.0,216.8 50.0,215.8 50.0,218.0 50.1,221.3 50.1,222.3 50.2,221.0 50.2,218.4 50.3,216.8 50.3,217.3 50.4,219.5 50.4,221.7 50.4,221.8 50.5,219.8 50.5,217.5 50.6,216.8 50.6,218.1 50.7,220.5 50.7,221.9 50.8,221.1 50.8,218.8 50.9,216.7 50.9,216.8 50.9,219.0 51.0,221.6 51.0,221.6 51.1,220.2 51.1,218.0 51.2,216.0 51.2,217.2 51.3,220.3 51.3,222.1 51.4,221.7 51.4,219.2 51.4,216.4 51.5,216.1 51.5,218.6 51.6,221.9 51.6,222.5 51.7,220.5 51.7,217.4 51.8,215.6 51.8,217.3 51.9,220.9 51.9,223.6 51.9,222.3 52.0,218.3 52.0,215.7 52.1,216.1 52.1,219.2 52.2,223.1 52.2,223.9 52.3,220.9 52.3,216.5 52.4,214.9 52.4,216.5 52.4,220.4 52.5,224.0 52.5,223.8 52.6,220.0 52.6,215.6 52.7,214.5 52.7,216.8 52.8,221.0 52.8,223.9 52.9,223.3 52.9,219.6 52.9,215.6 53.0,213.8 53.0,216.8 53.1,221.8 53.1,224.1 53.2,223.1 53.2,219.1 53.3,214.4 53.3,213.5 53.4,217.2 53.4,222.6 53.4,224.7 53.5,223.1 53.5,218.5 53.6,214.2 53.6,213.9 53.7,217.7 53.7,222.8 53.8,226.1 53.8,223.9 53.9,218.3 53.9,213.9 53.9,213.2 54.0,216.8 54.0,222.2 54.1,226.4 54.1,225.6 54.2,220.6 54.2,214.6 54.3,213.1 54.3,214.8 54.4,219.6 54.4,224.3 54.4,225.7 54.5,222.5 54.5,216.8 54.6,213.2 54.6,214.0 54.7,218.8 54.7,224.1 54.8,228.0 54.8,223.5 54.9,215.7 54.9,210.6 54.9,212.3 55.0,219.7 55.0,226.8 55.1,228.1 55.1,222.2 55.2,213.8 55.2,209.6 55.3,213.4 55.3,222.3 55.4,224.7 55.4,223.9 55.4,219.1 55.5,210.9 55.5,210.0 55.6,217.4 55.6,226.6 55.7,225.9 55.7,221.5 55.8,214.9 55.8,211.0 55.9,215.9 55.9,224.1 55.9,226.7 56.0,223.1 56.0,215.9 56.1,230.7 56.1,227.0 56.2,222.0 56.2,231.0 56.3,229.0 56.3,220.1 56.4,227.9 56.4,208.1 56.4,215.0 56.5,224.6 56.5,227.9 56.6,225.3 56.6,218.1 56.7,211.0 56.7,210.8 56.8,217.3 56.8,225.2 56.9,228.5 56.9,224.3 56.9,216.3 57.0,211.6 57.0,212.8 57.1,219.2 57.1,225.8 57.2,227.0 57.2,222.0 57.3,214.9 57.3,211.2 57.4,214.4 57.4,221.5 57.4,227.0 57.5,225.9 57.5,219.3 57.6,213.6 57.6,212.8 57.7,217.4 57.7,223.4 57.8,225.5 57.8,222.6 57.9,217.2 57.9,212.7 57.9,214.0 58.0,219.4 58.0,224.2 58.1,225.0 58.1,221.6 58.2,216.6 58.2,213.8 58.3,214.9 58.3,218.9 58.4,223.0 58.4,224.9 58.4,222.9 58.5,218.8 58.5,215.2 58.6,214.3 58.6,216.6 58.7,220.6 58.7,223.2 58.8,223.3 58.8,220.7 58.9,217.2 58.9,215.3 58.9,216.2 59.0,219.2 59.0,222.3 59.1,223.6 59.1,221.5 59.2,217.9 59.2,215.4 59.3,215.7 59.3,218.6 59.4,222.0 59.4,222.5 59.4,221.3 59.5,218.6 59.5,215.8 59.6,215.7 59.6,218.2 59.7,221.4 59.7,222.6 59.8,221.6 59.8,219.1 59.9,216.7 59.9,216.2 59.9,217.9 60.0,220.4 60.0,222.6 60.1,222.4 60.1,220.1 60.2,217.4 60.2,216.0 60.3,216.6 60.3,218.9 60.4,221.4 60.4,222.7 60.4,221.7 60.5,219.3 60.5,216.8 60.6,216.3 60.6,217.6 60.7,220.2 60.7,221.6 60.8,221.5 60.8,219.8 60.8,217.7 60.9,217.1 60.9,218.0 61.0,219.9 61.0,221.5 61.1,221.4 61.1,219.6 61.2,217.6 61.2,217.0 61.3,218.1 61.3,220.1 61.3,221.9 61.4,221.5 61.4,219.4 61.5,217.2 61.5,216.4 61.6,218.0 61.6,220.6 61.7,222.3 61.7,221.9 61.8,219.7 61.8,217.3 61.8,216.6 61.9,216.8 61.9,217.4 62.0,218.5 62.0,220.2 62.1,222.0 62.1,222.1 62.2,220.5 62.2,217.9 62.3,216.1 62.3,216.8 62.3,219.3 62.4,221.9 62.4,222.1 62.5,220.5 62.5,217.9 62.6,216.7 62.6,217.3 62.7,219.5 62.7,221.5 62.8,221.8 62.8,220.1 62.8,217.8 62.9,216.9 62.9,217.7 63.0,219.8 63.0,221.8 63.1,221.8 63.1,219.8 63.2,217.5 63.2,216.1 63.3,217.6 63.3,220.4 63.3,222.1 63.4,221.7 63.4,219.4 63.5,217.1 63.5,217.2 63.6,218.5 63.6,220.3 63.7,221.8 63.7,221.0 63.8,218.9 63.8,217.1 63.8,217.0 63.9,218.8 63.9,220.9 64.0,221.6 64.0,220.5 64.1,218.4 64.1,217.7 64.2,218.1 64.2,219.5 64.3,221.0 64.3,221.0 64.3,219.4 64.4,217.8 64.4,217.6 64.5,219.1 64.5,220.9 64.6,220.9 64.6,219.2 64.7,217.6 64.7,217.8 64.8,219.4 64.8,220.6 64.8,220.6 64.9,219.5 64.9,218.3 65.0,217.7 65.0,218.5 65.1,219.9 65.1,220.8 65.2,220.5 65.2,219.3 65.3,218.0 65.3,217.8 65.3,218.7 65.4,220.0 65.4,220.5 65.5,220.2 65.5,219.1 65.6,217.9 65.6,217.7 65.7,218.9 65.7,220.4 65.8,221.1 65.8,220.4 65.8,218.8 65.9,217.3 65.9,217.4 66.0,219.1 66.0,221.0 66.1,221.6 66.1,220.4 66.2,218.2 66.2,217.6 66.3,217.9 66.3,219.4 66.3,220.9 66.4,221.2 66.4,219.9 66.5,218.1 66.5,216.5 66.6,217.6 66.6,220.1 66.7,221.7 66.7,221.5 66.8,219.5 66.8,217.3 66.8,216.5 66.9,218.1 66.9,220.8 67.0,222.4 67.0,221.4 67.1,218.7 67.1,216.1 67.2,216.2 67.2,218.9 67.3,222.0 67.3,222.7 67.3,220.7 67.4,217.4 67.4,216.2 67.5,217.3 67.5,220.1 67.6,223.2 67.6,222.7 67.7,219.3 67.7,215.7 67.8,215.2 67.8,218.3 67.8,222.4 67.9,223.2 67.9,220.9 68.0,217.0 68.0,215.6 68.1,217.5 68.1,221.1 68.2,223.5 68.2,221.6 68.3,217.3 68.3,215.7 68.3,217.3 68.4,221.0 68.4,223.9 68.5,222.0 68.5,217.5 68.6,213.7 68.6,215.4 68.7,220.7 68.7,224.3 68.8,223.6 68.8,219.1 68.8,215.4 68.9,215.0 68.9,218.3 69.0,222.5 69.0,225.4 69.1,222.2 69.1,216.5 69.2,215.0 69.2,216.2 69.3,220.0 69.3,223.1 69.3,223.1 69.4,220.0 69.4,216.3 69.5,213.4 69.5,216.3 69.6,221.7 69.6,224.6 69.7,223.5 69.7,219.2 69.8,214.3 69.8,213.3 69.8,216.9 69.9,222.3 69.9,224.3 70.0,223.3 70.0,219.4 70.1,215.5 70.1,212.3 70.2,214.8 70.2,219.9 70.3,224.6 70.3,226.5 70.3,213.6 70.4,218.3 70.4,215.0 70.5,211.6 70.5,212.9 70.6,217.9 70.6,215.0 70.7,226.6 70.7,224.1 70.8,219.5 70.8,214.9 70.8,213.3 70.9,215.5 70.9,220.0 71.0,224.4 71.0,225.4 71.1,222.7 71.1,218.1 71.2,215.8 71.2,215.3 71.3,217.3 71.3,220.5 71.3,223.7 71.4,223.7 71.4,220.8 71.5,217.0 71.5,214.8 71.6,215.9 71.6,219.4 71.7,222.6 71.7,223.4 71.8,221.2 71.8,217.7 71.8,215.6 71.9,216.3 71.9,219.1 72.0,221.9 72.0,222.8 72.1,221.0 72.1,218.2 72.2,217.0 72.2,217.1 72.2,218.5 72.3,219.6 72.3,219.7 72.4,220.1 72.4,220.9 72.5,220.9 72.5,220.0 72.6,218.7 72.6,217.6 72.7,217.8 72.7,219.2 72.7,220.8 72.8,221.1 72.8,220.2 72.9,218.5 72.9,217.1 73.0,217.5 73.0,219.4 73.1,221.5 73.1,222.0 73.2,220.3 73.2,217.7 73.2,216.8 73.3,217.6 73.3,219.8 73.4,221.5 73.4,221.4 73.5,219.6 73.5,217.4 73.6,216.0 73.6,218.0 73.7,221.3 73.7,222.2 73.7,221.0 73.8,218.1 73.8,216.4 73.9,217.2 73.9,220.1 74.0,221.8 74.0,221.3 74.1,218.8 74.1,216.5 74.2,216.9 74.2,219.6 74.2,223.2 74.3,223.0 74.3,219.5 74.4,215.9 74.4,215.3 74.5,218.2 74.5,222.2 74.6,223.6 74.6,221.4 74.7,217.5 74.7,215.5 74.7,216.4 74.8,219.7 74.8,223.2 74.9,223.5 74.9,220.4 75.0,216.4 75.0,215.8 75.1,217.2 75.1,220.3 75.2,223.9 75.2,223.6 75.2,219.9 75.3,215.7 75.3,214.6 75.4,216.8 75.4,221.0 75.5,224.9 75.5,224.2 75.6,219.8 75.6,214.9 75.7,213.6 75.7,216.4 75.7,221.6 75.8,225.6 75.8,224.6 75.9,219.5 75.9,214.1 76.0,215.0 76.0,217.4 76.1,221.4 76.1,225.9 76.2,224.4 76.2,218.8 76.2,213.6 76.3,212.7 76.3,216.8 76.4,222.9 76.4,225.4 76.5,223.8 76.5,218.8 76.6,214.1 76.6,213.1 76.7,216.6 76.7,222.2 76.7,226.5 76.8,225.4 76.8,219.8 76.9,213.7 76.9,212.9 77.0,215.9 77.0,221.4 77.1,226.6 77.1,225.9 77.2,220.1 77.2,213.6 77.2,212.0 77.3,215.7 77.3,222.4 77.4,227.6 77.4,225.8 77.5,218.7 77.5,213.9 77.6,228.1 77.6,221.8 77.7,225.4 77.7,229.0 77.7,224.5 77.8,222.7 77.8,228.4 77.9,210.1 77.9,219.9 78.0,225.3 78.0,225.7 78.1,220.8 78.1,214.8 78.2,211.4 78.2,215.5 78.2,222.7 78.3,225.8 78.3,223.9 78.4,218.2 78.4,212.5 78.5,212.8 78.5,218.6 78.6,224.8 78.6,225.1 78.7,221.4 78.7,216.1 78.7,212.7 78.8,215.4 78.8,221.3 78.9,224.0 78.9,223.2 79.0,219.1 79.0,214.3 79.1,213.9 79.1,217.9 79.2,223.0 79.2,223.2 79.2,221.2 79.3,217.7 79.3,214.0 79.4,215.4 79.4,220.0 79.5,223.6 79.5,223.6 79.6,220.1 79.6,216.1 79.7,214.8 79.7,217.3 79.7,221.4 79.8,222.1 79.8,221.2 79.9,218.6 79.9,216.0 80.0,216.4 80.0,219.3 80.1,222.4 80.1,222.6 80.2,219.9 80.2,216.6 80.2,216.1 80.3,218.3 80.3,221.4 80.4,223.0 80.4,220.8 80.5,217.3 80.5,215.6 80.6,217.2 80.6,220.7 80.7,222.7 80.7,221.9 80.7,218.8 80.8,216.4 80.8,216.3 80.9,218.8 80.9,221.6 81.0,222.6 81.0,220.9 81.1,217.9 81.1,216.2 81.2,216.9 81.2,219.5 81.2,222.6 81.3,223.1 81.3,220.7 81.4,217.3 81.4,215.8 81.5,216.7 81.5,219.5 81.6,222.1 81.6,222.8 81.7,221.1 81.7,218.2 81.7,217.2 81.8,217.1 81.8,218.4 81.9,220.2 81.9,222.2 82.0,222.1 82.0,220.3 82.1,217.9 82.1,216.0 82.2,216.5 82.2,218.9 82.2,221.6 82.3,221.7 82.3,220.8 82.4,218.8 82.4,217.2 82.5,217.1 82.5,218.7 82.6,220.8 82.6,222.5 82.7,221.3 82.7,218.5 82.7,215.6 82.8,215.7 82.8,218.6 82.9,222.2 82.9,223.5 83.0,221.6 83.0,217.8 83.1,215.6 83.1,216.2 83.1,219.3 83.2,223.0 83.2,223.8 83.3,220.9 83.3,216.6 83.4,214.4 83.4,216.3 83.5,220.8 83.5,224.2 83.6,223.6 83.6,219.2 83.6,214.9 83.7,214.2 83.7,217.9 83.8,222.9 83.8,224.6 83.9,222.1 83.9,217.2 84.0,213.6 84.0,214.8 84.1,219.7 84.1,223.0 84.1,223.5 84.2,220.7 84.2,216.7 84.3,214.5 84.3,216.0 84.4,219.9 84.4,223.8 84.5,224.6 84.5,222.1 84.6,218.3 84.6,215.4 84.6,213.9 84.7,213.3 84.7,214.1 84.8,217.3 84.8,221.9 84.9,224.9 84.9,224.2 85.0,220.2 85.0,215.6 85.1,215.0 85.1,216.7 85.1,220.3 85.2,224.1 85.2,224.0 85.3,220.4 85.3,216.0 85.4,214.8 85.4,216.7 85.5,220.5 85.5,223.6 85.6,223.3 85.6,219.9 85.6,216.1 85.7,215.5 85.7,217.4 85.8,220.7 85.8,223.7 85.9,222.9 85.9,219.3 86.0,215.9 86.0,214.4 86.1,217.4 86.1,221.8 86.1,222.4 86.2,221.5 86.2,218.9 86.3,215.7 86.3,215.6 86.4,218.3 86.4,221.7 86.5,223.6 86.5,221.8 86.6,218.2 86.6,215.7 86.6,216.0 86.7,218.9 86.7,222.0 86.8,223.0 86.8,220.9 86.9,217.7 86.9,216.2 87.0,217.0 87.0,219.8 87.1,221.5 87.1,221.6 87.1,219.7 87.2,217.4 87.2,216.2 87.3,218.0 87.3,221.0 87.4,224.1 87.4,222.2 87.5,217.6 87.5,214.7 87.6,215.8 87.6,220.2 87.6,223.8 87.7,223.4 87.7,219.2 87.8,215.5 87.8,215.2 87.9,218.8 87.9,223.0 88.0,223.8 88.0,220.4 88.1,215.8 88.1,212.8 88.1,216.9 88.2,223.4 88.2,225.9 88.3,222.5 88.3,216.1 88.4,213.0 88.4,215.3 88.5,221.4 88.5,225.2 88.6,224.0 88.6,218.6 88.6,212.5 88.7,212.3 88.7,218.3 88.8,225.2 88.8,227.4 88.9,222.6 88.9,214.9 89.0,212.8 89.0,214.9 89.1,220.8 89.1,226.5 89.1,226.4 89.2,220.5 89.2,213.4 89.3,211.3 89.3,215.1 89.4,222.3 89.4,228.4 89.5,227.3 89.5,220.2 89.6,212.1 89.6,209.9 89.6,213.9 89.7,222.0 89.7,229.3 89.8,229.4 89.8,222.3 89.9,212.7 89.9,208.6 90.0,211.2 90.0,219.7 90.1,228.5 90.1,234.4 90.1,226.9 90.2,213.4 90.2,206.8 90.3,207.7 90.3,217.3 90.4,228.8 90.4,237.8 90.5,207.7 90.5,215.2 90.6,201.8 90.6,199.0 90.6,212.7 90.7,209.9 90.7,200.8 90.8,237.8 90.8,221.8 90.9,208.7 90.9,202.6 91.0,207.1 91.0,218.9 91.1,230.5 91.1,234.0 91.1,228.0 91.2,216.4 91.2,209.9 91.3,209.7 91.3,216.4 91.4,224.8 91.4,229.8 91.5,226.1 91.5,217.6 91.6,211.3 91.6,211.2 91.6,217.4 91.7,224.9 91.7,229.0 91.8,224.6 91.8,216.1 91.9,211.6 91.9,212.9 92.0,219.3 92.0,225.9 92.1,227.0 92.1,221.9 92.1,214.8 92.2,212.6 92.2,215.5 92.3,221.4 92.3,223.9 92.4,222.9 92.4,218.9 92.5,213.4 92.5,213.4 92.6,218.5 92.6,224.1 92.6,225.0 92.7,220.9 92.7,215.3 92.8,213.1 92.8,216.9 92.9,222.8 92.9,225.2 93.0,222.2 93.0,216.6 93.1,213.6 93.1,215.7 93.1,221.0 93.2,224.8 93.2,223.6 93.3,218.7 93.3,214.8 93.4,214.9 93.4,218.8 93.5,223.1 93.5,224.5 93.5,220.9 93.6,216.0 93.6,214.0 93.7,216.9 93.7,221.9 93.8,224.0 93.8,221.6 93.9,216.8 93.9,214.9 94.0,218.4 94.0,223.3 94.0,223.1 94.1,218.2 94.1,214.8 94.2,216.1 94.2,220.4 94.3,223.7 94.3,222.9 94.4,219.1 94.4,215.4 94.5,215.0 94.5,218.0 94.5,222.0 94.6,224.0 94.6,222.2 94.7,218.3 94.7,215.4 94.8,215.4 94.8,218.2 94.9,221.7 94.9,223.7 95.0,222.5 95.0,219.2 95.0,216.0 95.1,215.9 95.1,217.4 95.2,220.2 95.2,222.9 95.3,223.0 95.3,220.6 95.4,217.3 95.4,215.6 95.5,216.6 95.5,219.5 95.5,221.8 95.6,222.2 95.6,220.4 95.7,217.8 95.7,216.5 95.8,217.3 95.8,219.7 95.9,221.5 95.9,221.6 96.0,219.8 96.0,217.7 96.0,215.8 96.1,217.5 96.1,220.7 96.2,222.4 96.2,221.6 96.3,219.0 96.3,216.6 96.4,216.6 96.4,218.8 96.5,221.4 96.5,221.7 96.5,220.3 96.6,218.1 96.6,216.5 96.7,217.7 96.7,220.2 96.8,222.0 96.8,221.4 96.9,218.9 96.9,217.1 97.0,217.3 97.0,219.2 97.0,221.3 97.1,221.6 97.1,219.8 97.2,217.6 97.2,216.9 97.3,218.4 97.3,220.8 97.4,221.9 97.4,220.6 97.5,218.2 97.5,216.6 97.5,217.4 97.6,219.9 97.6,221.8 97.7,221.7 97.7,219.7 97.8,217.4 97.8,216.3 97.9,217.0 97.9,218.6 98.0,220.2 98.0,221.7 98.0,222.3 98.1,221.4 98.1,219.1 98.2,216.9 98.2,216.4 98.3,218.2 98.3,220.8 98.4,222.2 98.4,221.3 98.5,218.8 98.5,216.3 98.5,216.2 98.6,218.7 98.6,221.6 98.7,222.8 98.7,221.1 98.8,218.0 98.8,216.6 98.9,217.1 98.9,219.4 99.0,222.1 99.0,222.6 99.0,220.5 99.1,217.4 99.1,216.1 99.2,217.2 99.2,220.0 99.3,222.6 99.3,222.5 99.4,220.0 99.4,216.8 99.5,216.9 99.5,218.0 99.5,220.1 99.6,222.8 99.6,222.4 99.7,219.7 99.7,216.6 99.8,215.7 99.8,217.3 99.9,220.5 99.9,222.9 100.0,222.7 100.0,220.2 100.0,217.0 100.1,216.1 100.1,217.0 100.2,219.4 100.2,221.8 100.3,223.2 100.3,221.3 100.4,217.9 100.4,215.9 100.5,216.3 100.5,219.0 100.5,222.1 100.6,223.9 100.6,221.4 100.7,217.0 100.7,214.7 100.8,215.9 100.8,220.0 100.9,224.1 100.9,224.2 101.0,220.3 101.0,215.4 101.0,214.0 101.1,216.5 101.1,221.4 101.2,225.7 101.2,224.7 101.3,219.3 101.3,213.8 101.4,213.8 101.4,216.9 101.5,222.0 101.5,224.6 101.5,223.6 101.6,219.4 101.6,215.0 101.7,212.9 101.7,216.0 101.8,221.6 101.8,227.0 101.9,226.7 101.9,221.0 102.0,213.9 102.0,211.3 102.0,213.7 102.1,220.2 102.1,226.4 102.2,227.8 102.2,223.2 102.3,215.7 102.3,209.7 102.4,210.5 102.4,217.4 102.5,225.8 102.5,230.0 102.5,227.4 102.6,219.4 102.6,211.1 102.7,207.4 102.7,211.5 102.8,220.8 102.8,229.6 102.9,206.2 102.9,212.6 103.0,214.7 103.0,205.3 103.0,207.2 103.1,216.9 103.1,210.4 103.2,232.6 103.2,226.0 103.3,215.8 103.3,207.5 103.4,209.1 103.4,218.8 103.5,228.6 103.5,228.3 103.5,222.5 103.6,214.1 103.6,208.1 103.7,213.0 103.7,223.1 103.8,229.1 103.8,226.7 103.9,218.0 103.9,212.1 104.0,212.5 104.0,218.9 104.0,226.0 104.1,227.0 104.1,221.2 104.2,214.0 104.2,210.7 104.3,215.8 104.3,223.7 104.4,227.8 104.4,224.1 104.4,216.3 104.5,212.9 104.5,214.7 104.6,220.5 104.6,225.4 104.7,224.5 104.7,218.6 104.8,213.8 104.8,217.4 104.9,225.4 104.9,217.7 104.9,213.5 105.0,215.2 105.0,220.6 105.1,224.8 105.1,224.0 105.2,219.1 105.2,214.3 105.3,214.0 105.3,218.3 105.4,223.2 105.4,225.1 105.4,221.6 105.5,216.2 105.5,213.8 105.6,216.2 105.6,221.2 105.7,223.4 105.7,222.2 105.8,218.5 105.8,215.7 105.9,216.3 105.9,219.7 105.9,223.0 106.0,222.6 106.0,219.0 106.1,215.5 106.1,216.0 106.2,219.8 106.2,222.1 106.3,221.5 106.3,218.8 106.4,216.2 106.4,216.9 106.4,219.8 106.5,222.6 106.5,222.2 106.6,219.2 106.6,216.2 106.7,216.0 106.7,218.6 106.8,221.9 106.8,223.0 106.9,220.9 106.9,217.5 106.9,216.0 107.0,217.0 107.0,220.0 107.1,222.5 107.1,222.5 107.2,219.8 107.2,216.8 107.3,215.8 107.3,217.5 107.4,220.6 107.4,222.5 107.4,222.1 107.5,219.6 107.5,216.9 107.6,215.4 107.6,216.7 107.7,219.4 107.7,221.9 107.8,222.8 107.8,222.4 107.9,220.6 107.9,218.1 107.9,215.8 108.0,215.8 108.0,218.0 108.1,221.2 108.1,222.3 108.2,221.6 108.2,219.1 108.3,217.3 108.3,216.9 108.4,218.4 108.4,220.5 108.4,222.7 108.5,221.7 108.5,218.8 108.6,216.6 108.6,216.4 108.7,218.5 108.7,221.2 108.8,222.2 108.8,221.0 108.9,218.6 108.9,217.3 108.9,217.4 109.0,219.0 109.0,220.7 109.1,222.2 109.1,220.8 109.2,218.3 109.2,217.3 109.3,217.6 109.3,219.1 109.4,220.8 109.4,221.4 109.4,220.3 109.5,218.5 109.5,217.4 109.6,217.7 109.6,219.3 109.7,220.8 109.7,221.4 109.8,220.2 109.8,218.3 109.9,217.5 109.9,218.0 109.9,219.5 110.0,221.0 110.0,221.2 110.1,219.9 110.1,218.1 110.2,217.7 110.2,218.3 110.3,219.6 110.3,220.9 110.4,221.0 110.4,219.9 110.4,218.3 110.5,217.1 110.5,217.6 110.6,219.2 110.6,220.8 110.7,221.4 110.7,220.8 110.8,219.3 110.8,217.7 110.9,217.1 110.9,218.0 110.9,219.8 111.0,221.5 111.0,221.5 111.1,219.9 111.1,217.8 111.2,217.0 111.2,217.9 111.3,219.9 111.3,221.7 111.4,221.4 111.4,219.4 111.4,217.3 111.5,217.0 111.5,218.5 111.6,220.6 111.6,222.0 111.7,221.0 111.7,218.5 111.8,216.7 111.8,217.1 111.9,219.4 111.9,221.3 111.9,221.4 112.0,219.7 112.0,217.6 112.1,216.6 112.1,218.5 112.2,221.2 112.2,222.2 112.3,220.1 112.3,217.2 112.4,216.8 112.4,219.1 112.4,221.5 112.5,221.3 112.5,218.8 112.6,216.8 112.6,217.6 112.7,220.0 112.7,221.9 112.8,221.2 112.8,218.7 112.9,216.9 112.9,217.4 112.9,219.6 113.0,221.2 113.0,221.2 113.1,219.5 113.1,217.7 113.2,216.9 113.2,218.6 113.3,220.9 113.3,220.9 113.4,220.1 113.4,218.6 113.4,217.4 113.5,218.0 113.5,219.7 113.6,220.8 113.6,220.6 113.7,219.4 113.7,218.1 113.8,217.5 113.8,218.7 113.9,220.3 113.9,220.5 113.9,220.0 114.0,219.0 114.0,217.5 114.1,217.8 114.1,219.3 114.2,220.7 114.2,220.9 114.3,219.8 114.3,218.2 114.4,217.7 114.4,218.5 114.4,220.0 114.5,220.8 114.5,220.2 114.6,218.9 114.6,218.0 114.7,218.3 114.7,219.6 114.8,220.5 114.8,220.3 114.9,219.1 114.9,217.9 114.9,218.0 115.0,219.3 115.0,220.8 115.1,221.0 115.1,219.8 115.2,218.1 115.2,217.2 115.3,218.0 115.3,219.8 115.4,221.3 115.4,221.4 115.4,219.8 115.5,217.9 115.5,217.0 115.6,217.6 115.6,219.5 115.7,221.3 115.7,221.7 115.8,220.5 115.8,218.3 115.8,217.1 115.9,217.3 115.9,219.0 116.0,220.9 116.0,222.2 116.1,221.1 116.1,218.6 116.2,216.6 116.2,216.6 116.3,218.5 116.3,221.1 116.3,222.0 116.4,221.2 116.4,218.9 116.5,217.4 116.5,217.2 116.6,218.5 116.6,220.4 116.7,222.9 116.7,222.3 116.8,219.4 116.8,216.3 116.8,216.4 116.9,217.7 116.9,220.2 117.0,222.9 117.0,222.9 117.1,220.4 117.1,217.0 117.2,214.9 117.2,215.9 117.3,219.4 117.3,222.9 117.3,224.0 117.4,221.7 117.4,217.6 117.5,215.1 117.5,215.4 117.6,218.7 117.6,222.5 117.7,224.6 117.7,222.3 117.8,217.7 117.8,213.3 117.8,213.6 117.9,218.1 117.9,223.7 118.0,225.1 118.0,223.3 118.1,219.0 118.1,215.2 118.2,212.6 118.2,212.2 118.3,213.2 118.3,217.0 118.3,222.6 118.4,225.6 118.4,224.3 118.5,219.2 118.5,214.0 118.6,213.1 118.6,217.3 118.7,223.2 118.7,226.2 118.8,223.2 118.8,216.8 118.8,213.8 118.9,215.0 118.9,219.9 119.0,224.3 119.0,224.4 119.1,220.2 119.1,215.3 119.2,213.3 119.2,216.7 119.3,222.3 119.3,225.4 119.3,223.4 119.4,217.9 119.4,213.3 119.5,213.8 119.5,218.9 119.6,224.3 119.6,224.5 119.7,221.2 119.7,216.3 119.8,213.6 119.8,215.8 119.8,220.9 119.9,224.8 119.9,224.1 120.0,219.4 120.0,214.4 120.1,213.5 120.1,217.3 120.2,222.8 120.2,224.2 120.3,222.2 120.3,217.9 120.3,213.9 120.4,214.7 120.4,219.1 120.5,223.6 120.5,224.6 120.6,221.4 120.6,216.7 120.7,214.1 120.7,215.4 120.8,219.6 120.8,223.6 120.8,224.6 120.9,222.0 120.9,218.0 121.0,214.9 121.0,214.4 121.1,216.5 121.1,220.1 121.2,223.3 121.2,224.2 121.3,221.9 121.3,218.0 121.3,215.2 121.4,215.2 121.4,218.1 121.5,221.8 121.5,223.4 121.6,222.0 121.6,218.7 121.7,215.6 121.7,215.5 121.8,218.2 121.8,221.7 121.8,223.1 121.9,221.7 121.9,218.6 122.0,216.4 122.0,216.4 122.1,218.6 122.1,221.2 122.2,222.9 122.2,221.5 122.3,218.5 122.3,216.1 122.3,216.0 122.4,218.5 122.4,221.7 122.5,223.2 122.5,221.7 122.6,218.4 122.6,215.8 122.7,215.7 122.7,218.4 122.8,221.8 122.8,223.5 122.8,222.0 122.9,218.4 122.9,215.6 123.0,215.4 123.0,218.2 123.1,221.9 123.1,222.4 123.2,221.3 123.2,218.6 123.3,215.0 123.3,214.9 123.3,218.3 123.4,222.5 123.4,223.1 123.5,221.5 123.5,218.3 123.6,215.1 123.6,215.3 123.7,218.6 123.7,222.5 123.8,223.7 123.8,221.8 123.8,218.1 123.9,214.9 123.9,214.9 124.0,218.0 124.0,221.8 124.1,224.1 124.1,223.2 124.2,219.8 124.2,216.2 124.3,214.8 124.3,216.2 124.3,219.5 124.4,222.7 124.4,223.7 124.5,221.5 124.5,217.9 124.6,215.4 124.6,215.8 124.7,218.6 124.7,221.9 124.8,222.3 124.8,221.1 124.8,218.6 124.9,216.4 124.9,216.4 125.0,218.6 125.0,221.2 125.1,223.1 125.1,221.8 125.2,218.7 125.2,216.3 125.3,216.1 125.3,218.2 125.3,221.0 125.4,222.2 125.4,221.5 125.5,219.2 125.5,217.1 125.6,216.4 125.6,218.0 125.7,220.4 125.7,222.1 125.8,221.7 125.8,219.6 125.8,217.3 125.9,216.5 125.9,217.8 126.0,220.2 126.0,222.1 126.1,221.9 126.1,219.7 126.2,217.2 126.2,216.7 126.2,217.9 126.3,220.2 126.3,222.1 126.4,221.7 126.4,219.5 126.5,217.1 126.5,216.5 126.6,218.0 126.6,220.6 126.7,222.0 126.7,221.3 126.7,219.1 126.8,216.9 126.8,216.7 126.9,218.6 126.9,221.0 127.0,222.1 127.0,220.9 127.1,218.4 127.1,216.8 127.2,217.2 127.2,219.3 127.2,221.5 127.3,221.9 127.3,220.1 127.4,217.7 127.4,216.9 127.5,217.9 127.5,220.1 127.6,221.8 127.6,221.3 127.7,219.2 127.7,217.3 127.7,217.1 127.8,218.7 127.8,220.7 127.9,221.4 127.9,220.5 128.0,218.7 128.0,217.1 128.1,217.2 128.1,218.9 128.2,220.9 128.2,222.0 128.2,221.0 128.3,218.7 128.3,217.0 128.4,216.9 128.4,218.7 128.5,220.9 128.5,221.7 128.6,220.8 128.6,218.6 128.7,216.4 128.7,216.6 128.7,219.0 128.8,221.7 128.8,221.9 128.9,220.4 128.9,218.0 129.0,216.0 129.0,217.0 129.1,219.9 129.1,222.3 129.2,222.4 129.2,219.9 129.2,216.9 129.3,215.7 129.3,217.5 129.4,220.8 129.4,222.3 129.5,221.6 129.5,219.0 129.6,216.1 129.6,215.8 129.7,218.4 129.7,221.7 129.7,222.3 129.8,221.0 129.8,218.3 129.9,216.0 129.9,216.5 130.0,219.3 130.0,221.6 130.1,222.1 130.1,220.2 130.2,217.6 130.2,214.8 130.2,216.6 130.3,220.8 130.3,223.8 130.4,223.0 130.4,218.9 130.5,215.4 130.5,215.3 130.6,219.1 130.6,223.8 130.7,223.5 130.7,217.6 130.7,214.7 130.8,218.5 130.8,224.2 130.9,224.1 130.9,218.9 131.0,214.2 131.0,214.3 131.1,219.0 131.1,224.1 131.2,225.0 131.2,221.0 131.2,215.4 131.3,213.4 131.3,216.3 131.4,221.8 131.4,224.6 131.5,223.1 131.5,218.4 131.6,213.8 131.6,214.0 131.7,218.7 131.7,223.7 131.7,224.7 131.8,221.3 131.8,216.3 131.9,216.0 131.9,217.4 132.0,220.3 132.0,224.3 132.1,223.3 132.1,219.0 132.2,215.6 132.2,215.5 132.2,218.5 132.3,222.1 132.3,223.7 132.4,221.2 132.4,217.2 132.5,215.3 132.5,216.7 132.6,220.2 132.6,222.6 132.7,222.2 132.7,219.4 132.7,216.7 132.8,216.1 132.8,218.2 132.9,221.1 132.9,222.5 133.0,221.2 133.0,218.5 133.1,217.2 133.1,217.4 133.2,219.0 133.2,220.9 133.2,222.4 133.3,220.9 133.3,218.1 133.4,216.8 133.4,217.1 133.5,219.1 133.5,221.3 133.6,222.2 133.6,220.7 133.7,218.1 133.7,216.2 133.7,216.7 133.8,219.3 133.8,222.4 133.9,223.1 133.9,220.8 134.0,217.2 134.0,215.6 134.1,216.7 134.1,219.9 134.2,223.0 134.2,223.2 134.2,220.3 134.3,216.6 134.3,215.7 134.4,217.0 134.4,220.1 134.5,222.9 134.5,223.1 134.6,220.5 134.6,217.1 134.7,214.7 134.7,215.7 134.7,219.0 134.8,222.6 134.8,224.4 134.9,222.8 134.9,218.9 135.0,215.2 135.0,214.8 135.1,216.8 135.1,220.6 135.2,223.5 135.2,223.5 135.2,220.4 135.3,216.4 135.3,214.3 135.4,216.1 135.4,220.4 135.5,223.2 135.5,223.2 135.6,220.1 135.6,216.2 135.7,213.3 135.7,216.2 135.7,221.7 135.8,224.2 135.8,223.2 135.9,218.9 135.9,214.7 136.0,214.3 136.0,218.0 136.1,222.9 136.1,224.7 136.2,222.0 136.2,217.1 136.2,214.0 136.3,215.3 136.3,220.0 136.4,223.4 136.4,223.5 136.5,220.1 136.5,216.0 136.6,213.6 136.6,216.7 136.7,221.9 136.7,225.7 136.7,223.9 136.8,218.3 136.8,213.7 136.9,213.6 136.9,218.1 137.0,223.6 137.0,224.4 137.1,221.9 137.1,217.3 137.1,213.4 137.2,214.6 137.2,219.7 137.3,224.6 137.3,225.2 137.4,221.1 137.4,215.4 137.5,212.3 137.5,215.3 137.6,221.5 137.6,226.2 137.6,225.2 137.7,219.3 137.7,214.7 137.8,213.9 137.8,217.6 137.9,222.7 137.9,225.0 138.0,222.6 138.0,217.4 138.1,226.6 138.1,225.3 138.1,219.7 138.2,227.0 138.2,226.4 138.3,221.1 138.3,224.2 138.4,211.9 138.4,216.5 138.5,221.6 138.5,225.2 138.6,223.6 138.6,218.5 138.6,215.6 138.7,215.6 138.7,218.7 138.8,222.2 138.8,224.8 138.9,221.7 138.9,216.7 139.0,214.2 139.0,215.8 139.1,220.3 139.1,224.9 139.1,224.5 139.2,219.9 139.2,214.9 139.3,214.6 139.3,217.5 139.4,221.8 139.4,224.6 139.5,222.6 139.5,217.9 139.6,214.9 139.6,215.5 139.6,219.3 139.7,223.2 139.7,223.7 139.8,220.4 139.8,216.3 139.9,215.3 139.9,217.5 140.0,221.3 140.0,223.6 140.1,221.8 140.1,217.8 140.1,215.2 140.2,216.6 140.2,220.5 140.3,222.8 140.3,221.8 140.4,218.4 140.4,216.0 140.5,216.9 140.5,220.1 140.6,222.1 140.6,221.5 140.6,218.9 140.7,216.1 140.7,216.5 140.8,219.3 140.8,221.6 140.9,221.8 140.9,219.8 141.0,217.5 141.0,216.5 141.1,218.1 141.1,220.6 141.1,222.0 141.2,221.0 141.2,218.8 141.3,217.7 141.3,217.7 141.4,219.0 141.4,220.6 141.5,222.2 141.5,221.3 141.6,219.4 141.6,218.2 141.6,218.0 141.7,216.7 141.7,216.5 141.8,217.4 141.8,219.5 141.9,221.9 141.9,222.5 142.0,220.9 142.0,218.0 142.1,215.7 142.1,215.9 142.1,218.5 142.2,221.7 142.2,222.9 142.3,221.9 142.3,219.0 142.4,215.8 142.4,215.1 142.5,217.4 142.5,221.3 142.6,223.4 142.6,222.6 142.6,219.2 142.7,216.0 142.7,215.3 142.8,217.8 142.8,221.6 142.9,224.2 142.9,222.6 143.0,218.2 143.0,214.6 143.1,214.9 143.1,218.8 143.1,223.2 143.2,225.0 143.2,221.7 143.3,216.3 143.3,214.0 143.4,215.7 143.4,220.4 143.5,224.4 143.5,224.2 143.6,219.8 143.6,214.9 143.6,213.3 143.7,216.9 143.7,222.6 143.8,224.4 143.8,222.5 143.9,218.0 143.9,213.1 144.0,213.9 144.0,219.2 144.1,223.7 144.1,224.5 144.1,220.8 144.2,216.0 144.2,214.2 144.3,216.8 144.3,221.5 144.4,224.1 144.4,222.3 144.5,217.6 144.5,215.9 144.6,217.7 144.6,221.7 144.6,223.4 144.7,217.4 144.7,214.2 144.8,217.4 144.8,222.4 144.9,223.9 144.9,221.2 145.0,216.8 145.0,215.1 145.1,217.1 145.1,220.9 145.1,222.9 145.2,221.8 145.2,218.6 145.3,216.0 145.3,216.3 145.4,219.2 145.4,222.0 145.5,222.3 145.5,220.0 145.6,217.2 145.6,215.9 145.6,217.9 145.7,221.1 145.7,222.5 145.8,221.0 145.8,218.1 145.9,216.6 145.9,217.3 146.0,220.0 146.0,222.1 146.1,221.8 146.1,219.1 146.1,216.3 146.2,216.1 146.2,218.8 146.3,222.1 146.3,222.8 146.4,220.5 146.4,217.1 146.5,216.4 146.5,217.7 146.6,220.5 146.6,223.5 146.6,222.5 146.7,218.6 146.7,215.1 146.8,215.1 146.8,218.8 146.9,223.1 146.9,224.6 147.0,221.3 147.0,216.2 147.1,215.6 147.1,217.2 147.1,220.7 147.2,224.4 147.2,222.9 147.3,217.6 147.3,214.7 147.4,217.4 147.4,223.4 147.5,222.9 147.5,217.1 147.6,212.6 147.6,215.9 147.6,222.5 147.7,226.3 147.7,223.9 147.8,217.4 147.8,214.2 147.9,214.7 147.9,219.1 148.0,223.8 148.0,227.2 148.1,222.3 148.1,214.8 148.1,211.0 148.2,213.7 148.2,221.0 148.3,210.8 148.3,210.8 148.4,217.5 148.4,209.6 148.5,209.8 148.5,214.0 148.5,216.5 148.6,228.5 148.6,226.4 148.7,220.5 148.7,213.9 148.8,213.9 148.8,216.0 148.9,220.4 148.9,226.7 149.0,227.1 149.0,222.1 149.0,215.4 149.1,213.1 149.1,214.2 149.2,218.7 149.2,223.4 149.3,226.5 149.3,223.8 149.4,218.1 149.4,213.5 149.5,213.0 149.5,216.9 149.5,222.3 149.6,225.4 149.6,224.1 149.7,219.5 149.7,214.9 149.8,213.5 149.8,216.3 149.9,221.0 149.9,224.3 150.0,224.0 150.0,220.4 150.0,216.3 150.1,213.8 150.1,215.6 150.2,219.9 150.2,222.9 150.3,223.4 150.3,220.8 150.4,217.2 150.4,215.3 150.5,216.5 150.5,220.0 150.5,222.7 150.6,222.5 150.6,219.7 150.7,216.6 150.7,215.6 150.8,218.0 150.8,221.4 150.9,222.6 150.9,221.2 151.0,218.3 151.0,216.6 151.0,217.0 151.1,219.3 151.1,221.9 151.2,222.4 151.2,220.4 151.3,217.5 151.3,216.8 151.4,217.7 151.4,219.9 151.5,222.2 151.5,222.0 151.5,219.6 151.6,217.0 151.6,216.7 151.7,218.2 151.7,220.6 151.8,221.3 151.8,220.6 151.9,218.9 151.9,216.8 152.0,217.0 152.0,219.2 152.0,221.4 152.1,221.9 152.1,220.1 152.2,217.7 152.2,217.1 152.3,218.2 152.3,220.2 152.4,221.4 152.4,220.7 152.5,218.7 152.5,217.2 152.5,217.7 152.6,219.6 152.6,221.0 152.7,220.8 152.7,219.2 152.8,217.4 152.8,217.5 152.9,219.3 152.9,221.0 153.0,221.0 153.0,219.4 153.0,218.2 153.1,218.0 153.1,219.1 153.2,220.4 153.2,220.9 153.3,219.8 153.3,218.3 153.4,217.2 153.4,218.3 153.5,220.4 153.5,221.2 153.5,220.3 153.6,218.2 153.6,217.5 153.7,220.4 153.7,221.3 153.8,218.6 153.8,217.2 153.9,217.8 153.9,219.8 154.0,221.4 154.0,221.1 154.0,219.2 154.1,217.1 154.1,216.9 154.2,218.7 154.2,221.1 154.3,222.0 154.3,220.6 154.4,218.1 154.4,216.6 154.5,217.3 154.5,219.8 154.5,221.7 154.6,221.6 154.6,219.6 154.7,217.4 154.7,216.6 154.8,218.1 154.8,220.6 154.9,221.9 154.9,221.1 155.0,218.8 155.0,216.7 155.0,216.7 155.1,218.8 155.1,221.4 155.2,221.9 155.2,220.6 155.3,218.2 155.3,217.2 155.4,217.6 155.4,219.3 155.5,221.0 155.5,222.7 155.5,220.8 155.6,217.8 155.6,216.1 155.7,216.5 155.7,218.8 155.8,221.4 155.8,222.8 155.9,222.1 155.9,219.7 156.0,217.0 156.0,215.6 156.0,216.5 156.1,219.3 156.1,222.2 156.2,222.3 156.2,220.9 156.3,218.2 156.3,215.7 156.4,216.2 156.4,219.1 156.5,222.3 156.5,223.4 156.5,221.0 156.6,217.1 156.6,216.7 156.7,217.5 156.7,219.9 156.8,223.3 156.8,223.0 156.9,219.6 156.9,215.9 157.0,216.0 157.0,218.2 157.0,221.3 157.1,223.1 157.1,221.4 157.2,217.9 157.2,216.4 157.3,217.2 157.3,219.8 157.4,223.0 157.4,222.7 157.5,219.4 157.5,216.1 157.5,215.7 157.6,218.6 157.6,222.0 157.7,222.2 157.7,220.3 157.8,217.5 157.8,215.8 157.9,217.6 157.9,220.9 158.0,222.7 158.0,221.4 158.0,218.3 158.1,216.3 158.1,216.9 158.2,219.5 158.2,222.1 158.3,222.3 158.3,219.9 158.4,217.0 158.4,216.2 158.5,218.0 158.5,221.0 158.5,222.2 158.6,220.2 158.6,216.3 158.7,220.4 158.7,221.9 158.8,220.6 158.8,218.2 158.9,217.5 158.9,218.1 158.9,219.6 159.0,221.5 159.0,221.4 159.1,219.7 159.1,217.7 159.2,217.3 159.2,218.3 159.3,220.0 159.3,221.4 159.4,221.0 159.4,219.3 159.4,217.7 159.5,217.4 159.5,218.5 159.6,220.2 159.6,220.7 159.7,220.4 159.7,219.2 159.8,217.5 159.8,217.2 159.9,218.5 159.9,220.4 159.9,221.6 160.0,221.1 160.0,219.1 160.1,217.4 160.1,217.0 160.2,218.3 160.2,220.4 160.3,221.1 160.3,220.8 160.4,219.3 160.4,217.8 160.4,216.6 160.5,218.0 160.5,220.5 160.6,221.5 160.6,221.1 160.7,219.2 160.7,217.3 160.8,216.9 160.8,218.6 160.9,221.0 160.9,221.8 160.9,219.4 161.0,216.4 161.0,219.4 161.1,222.4 161.1,221.8 161.2,218.8 161.2,216.5 161.3,216.5 161.3,218.9 161.4,221.7 161.4,222.3 161.4,220.6 161.5,217.8 161.5,215.7 161.6,216.8 161.6,220.0 161.7,221.6 161.7,221.6 161.8,219.7 161.8,217.4 161.9,215.7 161.9,217.7 161.9,221.0 162.0,223.2 162.0,222.0 162.1,218.6 162.1,216.0 162.2,216.0 162.2,218.8 162.3,222.2 162.3,223.6 162.4,221.2 162.4,217.1 162.4,215.4 162.5,216.5 162.5,220.0 162.6,223.3 162.6,223.3 162.7,220.0 162.7,216.0 162.8,216.4 162.8,217.9 162.9,220.6 162.9,225.0 162.9,223.8 163.0,218.8 163.0,214.6 163.1,214.0 163.1,217.7 163.2,222.8 163.2,225.7 163.3,223.3 163.3,217.6 163.4,213.6 163.4,213.9 163.4,218.4 163.5,223.8 163.5,225.4 163.6,222.7 163.6,217.3 163.7,213.6 163.7,213.8 163.8,217.9 163.8,223.0 163.9,227.5 163.9,226.6 163.9,222.2 164.0,216.5 164.0,212.8 164.1,211.3 164.1,214.0 164.2,220.1 164.2,224.2 164.3,225.4 164.3,222.2 164.4,216.7 164.4,209.0 164.4,210.6 164.5,219.2 164.5,228.1 164.6,229.4 164.6,223.3 164.7,213.7 164.7,207.7 164.8,227.5 164.8,221.8 164.9,230.8 164.9,232.1 164.9,220.7 165.0,228.6 165.0,231.4 165.1,207.0 165.1,224.6 165.2,230.1 165.2,226.1 165.3,216.5 165.3,209.9 165.4,211.3 165.4,219.3 165.4,228.2 165.5,229.3 165.5,222.0 165.6,212.6 165.6,212.0 165.7,215.6 165.7,222.2 165.8,228.5 165.8,226.1 165.9,218.0 165.9,211.3 165.9,211.3 166.0,217.9 166.0,225.5 166.1,226.5 166.1,222.6 166.2,216.1 166.2,212.7 166.3,214.6 166.3,220.3 166.4,225.5 166.4,225.5 166.4,220.5 166.5,214.7 166.5,212.6 166.6,216.1 166.6,222.2 166.7,224.9 166.7,223.3 166.8,218.5 166.8,212.8 166.9,213.0 166.9,218.3 166.9,224.3 167.0,225.9 167.0,221.9 167.1,216.0 167.1,213.0 167.2,215.4 167.2,220.9 167.3,223.7 167.3,223.0 167.4,219.3 167.4,215.0 167.4,214.4 167.5,217.8 167.5,222.3 167.6,222.8 167.6,221.2 167.7,218.2 167.7,215.0 167.8,216.0 167.8,223.2 167.9,216.2 167.9,215.6 167.9,217.9 168.0,221.1 168.0,222.9 168.1,221.7 168.1,218.7 168.2,216.4 168.2,216.5 168.3,218.7 168.3,221.1 168.4,222.1 168.4,220.8 168.4,218.6 168.5,217.5 168.5,217.7 168.6,219.1 168.6,220.4 168.7,220.9 168.7,220.1 168.8,218.8 168.8,218.1 168.9,218.2 168.9,219.2 168.9,220.4 169.0,221.0 169.0,220.1 169.1,218.6 169.1,217.6 169.2,217.9 169.2,219.3 169.3,220.8 169.3,220.9 169.4,220.0 169.4,218.4 169.4,217.0 169.5,217.6 169.5,219.6 169.6,221.5 169.6,221.7 169.7,220.0 169.7,217.6 169.8,216.7 169.8,217.8 169.8,220.2 169.9,221.7 169.9,221.4 170.0,219.3 170.0,217.4 170.1,217.0 170.1,218.5 170.2,220.7 170.2,222.5 170.3,221.3 170.3,218.4 170.3,215.9 170.4,216.2 170.4,219.1 170.5,222.3 170.5,223.1 170.6,220.7 170.6,217.1 170.7,215.1 170.7,216.6 170.8,220.4 170.8,223.2 170.8,222.9 170.9,219.6 170.9,216.0 171.0,215.4 171.0,217.7 171.1,221.4 171.1,223.3 171.2,222.1 171.2,218.7 171.3,215.0 171.3,214.6 171.3,217.9 171.4,222.0 171.4,223.3 171.5,222.3 171.5,219.4 171.6,216.6 171.6,214.6 171.7,215.9 171.7,219.1 171.8,222.4 171.8,223.2 171.8,222.0 171.9,218.9 171.9,215.6 172.0,215.1 172.0,217.9 172.1,221.7 172.1,223.1 172.2,221.7 172.2,218.4 172.3,215.8 172.3,216.3 172.3,219.2 172.4,221.7 172.4,222.0 172.5,220.0 172.5,217.4 172.6,216.8 172.6,218.3 172.7,220.7 172.7,222.9 172.8,221.2 172.8,217.8 172.8,216.0 172.9,217.2 172.9,220.3 173.0,221.6 173.0,221.0 173.1,218.9 173.1,216.4 173.2,216.7 173.2,219.4 173.3,221.5 173.3,221.6 173.3,219.6 173.4,217.4 173.4,217.1 173.5,218.6 173.5,220.6 173.6,222.1 173.6,220.7 173.7,218.2 173.7,216.8 173.8,217.5 173.8,219.7 173.8,220.8 173.9,220.7 173.9,219.5 174.0,218.0 174.0,216.8 174.1,218.3 174.1,220.8 174.2,222.6 174.2,221.4 174.3,218.3 174.3,216.0 174.3,216.2 174.4,219.2 174.4,222.4 174.5,223.0 174.5,220.6 174.6,217.2 174.6,214.9 174.7,216.6 174.7,220.4 174.8,223.0 174.8,222.7 174.8,219.6 174.9,216.3 174.9,216.7 175.0,218.2 175.0,220.6 175.1,222.8 175.1,221.8 175.2,218.8 175.2,215.8 175.3,215.6 175.3,218.4 175.3,221.8 175.4,223.0 175.4,221.5 175.5,218.2 175.5,215.8 175.6,216.1 175.6,218.9 175.7,221.9 175.7,222.8 175.8,221.1 175.8,218.0 175.8,216.4 175.9,216.9 175.9,219.2 176.0,221.5 176.0,222.1 176.1,220.6 176.1,218.2 176.2,216.3 176.2,216.9 176.3,219.3 176.3,221.7 176.3,222.1 176.4,220.5 176.4,218.1 176.5,216.2 176.5,216.9 176.6,219.3 176.6,221.7 176.7,222.1 176.7,220.5 176.8,218.0 176.8,216.9 176.8,217.5 176.9,219.3 176.9,221.1 177.0,221.8 177.0,220.5 177.1,218.3 177.1,217.5 177.2,217.8 177.2,219.1 177.3,220.5 177.3,221.9 177.3,220.8 177.4,218.6 177.4,217.1 177.5,217.2 177.5,218.8 177.6,220.8 177.6,221.6 177.7,220.6 177.7,218.6 177.8,217.2 177.8,217.5 177.8,219.2 177.9,220.9 177.9,221.2 178.0,219.9 178.0,218.1 178.1,217.2 178.1,218.3 178.2,220.2 178.2,221.4 178.3,220.6 178.3,218.7 178.3,217.5 178.4,217.9 178.4,219.5 178.5,220.7 178.5,220.6 178.6,219.4 178.6,217.8 178.7,217.6 178.7,218.9 178.8,220.4 178.8,220.9 178.8,220.1 178.9,218.6 178.9,217.9 179.0,218.4 179.0,219.6 179.1,220.6 179.1,220.5 179.2,219.4 179.2,218.2 179.3,218.0 179.3,218.8 179.3,220.1 179.4,220.5 179.4,220.0 179.5,218.9 179.5,217.8 179.6,218.0 179.6,219.3 179.7,220.5 179.7,220.8 179.8,219.8 179.8,218.4 179.8,217.5 179.9,218.1 179.9,219.7 180.0,221.0 180.0,220.9 180.1,219.6 180.1,218.0 180.2,217.4 180.2,218.2 180.3,219.9 180.3,220.8 180.3,220.7 180.4,219.6 180.4,218.2 180.5,217.3 180.5,218.0 180.6,219.5 180.6,220.7 180.7,220.9 180.7,220.1 180.8,218.7 180.8,217.5 180.8,217.5 180.9,218.8 180.9,220.4 181.0,221.7 181.0,221.0 181.1,219.0 181.1,217.2 181.2,217.0 181.2,218.6 181.2,220.8 181.3,221.7 181.3,220.7 181.4,218.4 181.4,216.7 181.5,217.3 181.5,219.8 181.6,221.6 181.6,221.3 181.7,219.1 181.7,216.9 181.7,217.0 181.8,219.3 181.8,221.7 181.9,221.9 181.9,219.7 182.0,217.0 182.0,216.5 182.1,218.4 182.1,221.2 182.2,222.1 182.2,220.7 182.2,218.1 182.3,216.4 182.3,217.3 182.4,219.8 182.4,221.8 182.5,221.7 182.5,219.7 182.6,217.4 182.6,216.6 182.7,218.0 182.7,220.4 182.7,221.9 182.8,221.4 182.8,219.6 182.9,217.6 182.9,216.6 183.0,216.9 183.0,218.0 183.1,219.6 183.1,221.2 183.2,221.4 183.2,220.8 183.2,219.1 183.3,217.2 183.3,216.8 183.4,218.3 183.4,220.6 183.5,221.8 183.5,221.1 183.6,219.0 183.6,217.1 183.7,217.0 183.7,218.7 183.7,220.9 183.8,221.7 183.8,220.6 183.9,218.5 183.9,217.1 184.0,217.5 184.0,219.3 184.1,220.6 184.1,220.9 184.2,219.8 184.2,218.4 184.2,217.3 184.3,218.0 184.3,219.8 184.4,221.4 184.4,221.3 184.5,219.5 184.5,217.6 184.6,217.1 184.6,218.3 184.7,220.3 184.7,221.0 184.7,220.6 184.8,219.2 184.8,217.6 184.9,217.4 184.9,218.6 185.0,220.4 185.0,221.4 185.1,220.8 185.1,219.2 185.2,217.7 185.2,217.8 185.2,218.5 185.3,219.7 185.3,220.9 185.4,221.1 185.4,220.1 185.5,218.6 185.5,217.7 185.6,217.9 185.6,219.0 185.7,220.4 185.7,221.6 185.7,220.7 185.8,218.7 185.8,217.7 185.9,217.7 185.9,219.0 186.0,220.6 186.0,221.0 186.1,220.2 186.1,218.7 186.2,217.0 186.2,217.4 186.2,219.3 186.3,221.2 186.3,221.6 186.4,220.2 186.4,218.1 186.5,216.7 186.5,217.5 186.6,219.7 186.6,221.0 186.7,221.1 186.7,219.7 186.7,218.0 186.8,217.0 186.8,218.1 186.9,220.5 186.9,218.7 187.0,216.9 187.0,218.6 187.1,220.8 187.1,222.2 187.2,221.1 187.2,218.7 187.2,217.3 187.3,217.2 187.3,218.7 187.4,220.6 187.4,221.9 187.5,221.2 187.5,219.2 187.6,217.2 187.6,216.3 187.7,217.6 187.7,220.0 187.7,221.8 187.8,222.0 187.8,220.6 187.9,218.3 187.9,216.9 188.0,216.9 188.0,218.4 188.1,220.6 188.1,221.8 188.2,221.4 188.2,219.6 188.2,217.5 188.3,216.1 188.3,217.4 188.4,220.1 188.4,222.3 188.5,222.4 188.5,220.1 188.6,217.2 188.6,215.7 188.7,217.0 188.7,220.1 188.7,222.6 188.8,222.6 188.8,220.0 188.9,216.8 188.9,215.3 189.0,217.1 189.0,220.7 189.1,223.1 189.1,222.6 189.2,219.4 189.2,216.1 189.2,215.3 189.3,217.8 189.3,221.5 189.4,222.9 189.4,221.7 189.5,218.5 189.5,215.3 189.6,215.4 189.6,218.7 189.7,222.5 189.7,223.9 189.7,221.4 189.8,217.2 189.8,214.7 189.9,215.9 189.9,219.9 190.0,222.7 190.0,222.9 190.1,220.1 190.1,216.6 190.2,214.4 190.2,216.8 190.2,221.3 190.3,223.8 190.3,222.8 190.4,218.9 190.4,215.1 190.5,214.7 190.5,218.0 190.6,222.4 190.6,224.2 190.7,222.2 190.7,217.9 190.7,214.3 190.8,214.5 190.8,217.9 190.9,222.1 190.9,223.3 191.0,223.3 191.0,221.6 191.1,218.8 191.1,216.0 191.2,214.4 191.2,216.8 191.2,221.1 191.3,225.0 191.3,224.0 191.4,219.0 191.4,215.1 191.5,214.7 191.5,218.2 191.6,222.8 191.6,224.3 191.7,221.4 191.7,216.6 191.7,214.5 191.8,216.4 191.8,221.0 191.9,224.9 191.9,223.4 192.0,218.1 192.0,214.0 192.1,214.8 192.1,219.9 192.1,225.2 192.2,224.7 192.2,219.0 192.3,213.6 192.3,213.7 192.4,219.3 192.4,223.7 192.5,223.9 192.5,219.6 192.6,213.6 192.6,212.7 192.6,218.0 192.7,224.5 192.7,224.9 192.8,216.6 192.8,214.9 192.9,211.6 192.9,211.6 193.0,216.5 193.0,212.0 193.1,213.8 193.1,226.6 193.1,213.7 193.2,213.7 193.2,218.3 193.3,223.6 193.3,224.7 193.4,221.7 193.4,216.8 193.5,212.9 193.5,214.8 193.6,220.3 193.6,224.8 193.6,224.8 193.7,220.4 193.7,215.3 193.8,214.6 193.8,216.9 193.9,221.0 193.9,223.3 194.0,222.5 194.0,219.3 194.1,215.1 194.1,214.3 194.1,217.3 194.2,221.7 194.2,223.5 194.3,222.4 194.3,219.0 194.4,216.3 194.4,215.8 194.5,217.9 194.5,220.9 194.6,223.1 194.6,222.3 194.6,219.5 194.7,216.7 194.7,216.0 194.8,217.4 194.8,220.0 194.9,222.2 194.9,222.3 195.0,220.5 195.0,217.7 195.1,215.7 195.1,216.1 195.1,218.8 195.2,222.0 195.2,223.1 195.3,221.9 195.3,218.7 195.4,216.6 195.4,216.3 195.5,218.2 195.5,221.1 195.6,224.8 195.6,223.3 195.6,218.6 195.7,215.1 195.7,214.6 195.8,217.9 195.8,222.4 195.9,226.0 195.9,223.5 196.0,217.4 196.0,212.4 196.1,212.9 196.1,218.7 196.1,225.3 196.2,224.8 196.2,221.6 196.3,216.4 196.3,211.5 196.4,213.9 196.4,220.9 196.5,225.8 196.5,225.7 196.6,220.2 196.6,213.8 196.6,211.2 196.7,215.6 196.7,223.2 196.8,228.2 196.8,226.0 196.9,218.6 196.9,211.9 197.0,210.5 197.0,216.9 197.1,210.3 197.1,209.1 197.1,215.6 197.2,225.3 197.2,229.9 197.3,226.4 197.3,217.0 197.4,211.0 197.4,211.2 197.5,218.0 197.5,226.0 197.6,206.4 197.6,212.9 197.6,213.9 197.7,205.8 197.7,209.0 197.8,218.7 197.8,208.5 197.9,232.3 197.9,223.2 198.0,212.6 198.0,207.0 198.1,211.4 198.1,221.9 198.1,227.3 198.2,227.0 198.2,220.6 198.3,213.4 198.3,209.3 198.4,214.4 198.4,223.2 198.5,230.0 198.5,227.6 198.6,218.7 198.6,213.3 198.6,212.6 198.7,217.3 198.7,223.5 198.8,229.6 198.8,225.1 198.9,216.0 198.9,210.7 199.0,212.3 199.0,219.7 199.1,227.0 199.1,227.5 199.1,220.9 199.2,213.1 199.2,211.0 199.3,216.6 199.3,224.5 199.4,226.5 199.4,221.9 199.5,214.9 199.5,211.5 199.6,216.4 199.6,223.9 199.6,226.0 199.7,222.2 199.7,216.0 199.8,212.4 199.8,215.1 199.9,221.3 199.9,225.7 200.0,224.6 200.0,219.2 200.1,214.2 200.1,213.4 200.1,217.3 200.2,222.7 200.2,224.1 200.3,222.4 200.3,218.3 200.4,214.2 200.4,214.4 200.5,218.3 200.5,222.9 200.6,224.8 200.6,222.4 200.6,217.8 200.7,214.9 200.7,215.2 200.8,218.5 200.8,222.2 200.9,222.9 200.9,221.5 201.0,218.7 201.0,216.3 201.1,216.1 201.1,218.1 201.1,220.8 201.2,223.3 201.2,222.6 201.3,219.8 201.3,216.7 201.4,215.3 201.4,216.8 201.5,220.0 201.5,222.5 201.6,222.7 201.6,220.5 201.6,217.6 201.7,215.6 201.7,216.5 201.8,219.4 201.8,222.1 201.9,222.6 201.9,220.7 202.0,217.8 202.0,216.4 202.1,217.0 202.1,219.3 202.1,221.6 202.2,221.7 202.2,220.4 202.3,218.3 202.3,216.0 202.4,216.4 202.4,219.0 202.5,222.0 202.5,222.8 202.5,221.4 202.6,218.4 202.6,215.6 202.7,215.5 202.7,218.2 202.8,221.8 202.8,223.8 202.9,222.5 202.9,218.6 203.0,215.2 203.0,214.7 203.0,217.8 203.1,222.2 203.1,224.7 203.2,222.9 203.2,218.2 203.3,214.3 203.3,214.2 203.4,218.1 203.4,223.1 203.5,225.1 203.5,222.6 203.5,217.4 203.6,213.3 203.6,214.1 203.7,219.0 203.7,224.0 203.8,223.2 203.8,220.9 203.9,217.3 203.9,214.1 204.0,215.9 204.0,220.4 204.0,223.4 204.1,223.0 204.1,219.7 204.2,216.1 204.2,215.5 204.3,217.9 204.3,221.4 204.4,224.0 204.4,222.1 204.5,217.9 204.5,215.7 204.5,216.4 204.6,219.4 204.6,222.5 204.7,222.8 204.7,220.2 204.8,216.9 204.8,215.5 204.9,217.4 204.9,220.9 205.0,223.0 205.0,221.9 205.0,218.7 205.1,216.3 205.1,216.4 205.2,218.8 205.2,221.5 205.3,222.4 205.3,220.8 205.4,218.3 205.4,216.6 205.5,216.8 205.5,218.2 205.5,220.0 205.6,221.3 205.6,221.9 205.7,221.2 205.7,219.5 205.8,217.6 205.8,216.7 205.9,217.7 205.9,219.9 206.0,221.7 206.0,221.7 206.0,219.8 206.1,217.4 206.1,216.8 206.2,218.0 206.2,220.2 206.3,221.9 206.3,221.5 206.4,219.3 206.4,217.0 206.5,216.5 206.5,218.2 206.5,220.8 206.6,221.8 206.6,221.1 206.7,218.9 206.7,216.7 206.8,216.6 206.8,218.6 206.9,221.1 206.9,222.0 207.0,221.0 207.0,218.7 207.0,216.6 207.1,216.6 207.1,218.5 207.2,221.1 207.2,221.5 207.3,220.9 207.3,219.1 207.4,217.6 207.4,217.3 207.5,218.4 207.5,220.2 207.5,222.4 207.6,222.0 207.6,219.7 207.7,217.1 207.7,216.5 207.8,217.6 207.8,220.0 207.9,221.9 207.9,221.9 208.0,220.0 208.0,217.5 208.0,216.8 208.1,217.8 208.1,219.9 208.2,222.3 208.2,222.1 208.3,219.7 208.3,217.0 208.4,216.0 208.4,217.8 208.5,220.8 208.5,222.3 208.5,221.4 208.6,218.8 208.6,217.2 208.7,217.3 208.7,219.1 208.8,221.0 208.8,222.0 208.9,220.2 208.9,217.6 209.0,217.1 209.0,218.2 209.0,220.2 209.1,221.4 209.1,220.7 209.2,218.7 209.2,217.0 209.3,217.4 209.3,219.6 209.4,221.1 209.4,221.0 209.5,219.4 209.5,217.3 209.5,217.1 209.6,218.9 209.6,221.0 209.7,221.6 209.7,220.1 209.8,217.9 209.8,217.1 209.9,218.3 209.9,220.3 210.0,220.8 210.0,220.2 210.0,218.8 210.1,217.9 210.1,218.3 210.2,219.5 210.2,220.8 210.3,220.8 210.3,219.4 210.4,217.8 210.4,217.0 210.5,218.6 210.5,220.9 210.5,221.8 210.6,220.6 210.6,218.3 210.7,216.8 210.7,217.4 210.8,219.6 210.8,222.0 210.9,222.2 210.9,220.0 211.0,217.1 211.0,216.7 211.0,217.9 211.1,220.3 211.1,222.1 211.2,221.7 211.2,219.4 211.3,216.9 211.3,215.6 211.4,217.5 211.4,220.9 211.5,222.3 211.5,221.9 211.5,219.6 211.6,217.1 211.6,214.9 211.7,216.3 211.7,219.5 211.8,222.6 211.8,222.6 211.9,222.0 211.9,220.2 212.0,217.8 212.0,215.0 212.0,214.9 212.1,217.4 212.1,221.3 212.2,224.3 212.2,223.8 212.3,220.1 212.3,215.7 212.4,215.7 212.4,217.2 212.5,220.3 212.5,223.2 212.5,222.9 212.6,219.9 212.6,216.6 212.7,215.8 212.7,217.4 212.8,220.5 212.8,221.9 212.9,221.5 212.9,219.4 213.0,217.2 213.0,215.7 213.0,217.9 213.1,221.1 213.1,222.5 213.2,221.4 213.2,218.6 213.3,215.8 213.3,216.2 213.4,219.1 213.4,222.1 213.4,222.0 213.5,220.1 213.5,217.5 213.6,216.2 213.6,218.0 213.7,220.9 213.7,222.3 213.8,220.9 213.8,218.0 213.9,216.9 213.9,217.9 213.9,220.1 214.0,221.8 214.0,221.1 214.1,218.8 214.1,217.3 214.2,217.5 214.2,219.3 214.3,221.0 214.3,221.3 214.4,219.9 214.4,218.0 214.4,217.4 214.5,218.3 214.5,220.0 214.6,221.2 214.6,220.8 214.7,219.2 214.7,217.7 214.8,217.6 214.8,218.8 214.9,220.4 214.9,221.2 214.9,220.4 215.0,218.7 215.0,217.9 215.1,218.1 215.1,219.2 215.2,220.4 215.2,220.9 215.3,220.0 215.3,218.6 215.4,217.6 215.4,218.0 215.4,219.3 215.5,220.7 215.5,221.0 215.6,219.9 215.6,218.4 215.7,217.6 215.7,218.2 215.8,219.6 215.8,220.7 215.9,220.6 215.9,219.5 215.9,218.2 216.0,217.8 216.0,218.6 216.1,219.9 216.1,220.8 216.2,220.4 216.2,219.1 216.3,217.9 216.3,217.9 216.4,219.0 216.4,220.4 216.4,220.9 216.5,220.0 216.5,218.6 216.6,217.9 216.6,218.3 216.7,219.5 216.7,220.6 216.8,220.6 216.8,219.5 216.9,218.3 216.9,217.8 216.9,218.6 217.0,219.9 217.0,220.7 217.1,220.3 217.1,219.1 217.2,218.0 217.2,218.0 217.3,219.1 217.3,220.4 217.4,220.6 217.4,219.9 217.4,218.6 217.5,217.9 217.5,218.4 217.6,219.7 217.6,220.5 217.7,220.3 217.7,219.2 217.8,218.0 217.8,218.0 217.9,219.3 217.9,220.5 217.9,220.4 218.0,219.3 218.0,218.0 218.1,218.1 218.1,219.5 218.2,220.6 218.2,220.4 218.3,219.1 218.3,218.0 218.4,218.2 218.4,219.4 218.4,220.6 218.5,220.6 218.5,219.4 218.6,218.2 218.6,217.9 218.7,218.9 218.7,220.2 218.8,220.7 218.8,220.0 218.9,218.7 218.9,218.1 218.9,218.4 219.0,219.5 219.0,220.6 219.1,220.6 219.1,219.5 219.2,218.2 219.2,218.0 219.3,218.7 219.3,220.0 219.4,220.7 219.4,220.2 219.4,219.0 219.5,217.9 219.5,218.0 219.6,219.2 219.6,220.4 219.7,220.9 219.7,220.1 219.8,218.8 219.8,217.6 219.9,217.6 219.9,218.6 219.9,220.0 220.0,220.8 220.0,220.8 220.1,219.7 220.1,218.3 220.2,217.5 220.2,218.2 220.3,219.8 220.3,221.2 220.4,220.9 220.4,219.3 220.4,217.7 220.5,217.4 220.5,218.7 220.6,220.6 220.6,220.9 220.7,220.2 220.7,218.7 220.8,217.3 220.8,217.7 220.9,219.5 220.9,221.1 220.9,221.2 221.0,219.7 221.0,217.9 221.1,216.8 221.1,218.1 221.2,220.4 221.2,221.7 221.3,221.1 221.3,219.0 221.4,216.9 221.4,216.7 221.4,218.7 221.5,221.3 221.5,222.4 221.6,221.0 221.6,218.1 221.7,216.3 221.7,216.7 221.8,219.2 221.8,221.9 221.9,222.1 221.9,220.6 221.9,218.2 222.0,215.7 222.0,215.7 222.1,217.9 222.1,220.7 222.2,222.4 222.2,223.1 222.3,222.1 222.3,219.6 222.4,216.7 222.4,215.6 222.4,216.7 222.5,219.6 222.5,222.4 222.6,223.0 222.6,221.0 222.7,217.7 222.7,215.5 222.8,215.9 222.8,218.5 222.9,221.7 222.9,224.2 222.9,223.7 223.0,221.1 223.0,217.6 223.1,214.6 223.1,214.0 223.2,216.5 223.2,221.0 223.3,223.9 223.3,223.7 223.4,220.3 223.4,216.0 223.4,213.1 223.5,215.8 223.5,221.4 223.6,225.1 223.6,224.3 223.7,219.3 223.7,214.1 223.8,213.1 223.8,217.3 223.9,223.4 223.9,226.4 223.9,223.4 224.0,216.8 224.0,212.2 224.1,213.5 224.1,219.7 224.2,226.0 224.2,226.9 224.3,221.3 224.3,213.9 224.3,211.0 224.4,214.8 224.4,222.4 224.5,226.7 224.5,225.4 224.6,219.1 224.6,212.0 224.7,210.6 224.7,216.2 224.8,224.5 224.8,227.9 224.8,225.1 224.9,217.5 224.9,209.5 225.0,209.3 225.0,217.2 225.1,227.2 225.1,229.7 225.2,225.1 225.2,215.7 225.3,207.8 225.3,209.1 225.3,218.6 225.4,229.1 225.4,232.0 225.5,224.9 225.5,212.9 225.6,234.8 225.6,230.5 225.7,222.2 225.7,235.7 225.8,232.8 225.8,219.6 225.8,232.9 225.9,204.5 225.9,224.9 226.0,231.3 226.0,221.8 226.1,210.2 226.1,210.2 226.2,217.7 226.2,225.9 226.3,229.7 226.3,223.5 226.3,214.4 226.4,210.9 226.4,213.8 226.5,220.7 226.5,227.5 226.6,227.2 226.6,220.7 226.7,213.3 226.7,211.6 226.8,215.7 226.8,222.5 226.8,225.1 226.9,223.5 226.9,218.6 227.0,213.0 227.0,213.0 227.1,218.2 227.1,224.0 227.2,225.3 227.2,221.9 227.3,216.4 227.3,213.1 227.3,215.2 227.4,220.7 227.4,224.8 227.5,224.2 227.5,219.6 227.6,214.7 227.6,215.7 227.7,218.1 227.7,221.4 227.8,224.0 227.8,222.0 227.8,217.9 227.9,214.3 227.9,215.1 228.0,219.3 228.0,222.8 228.1,223.4 228.1,220.7 228.2,216.8 228.2,215.1 228.3,216.7 228.3,220.4 228.3,223.4 228.4,223.0 228.4,219.6 228.5,216.1 228.5,214.1 228.6,217.0 228.6,221.7 228.7,222.9 228.7,222.0 228.8,219.0 228.8,216.0 228.8,215.6 228.9,217.9 228.9,221.2 229.0,223.6 229.0,222.6 229.1,219.3 229.1,216.1 229.2,215.4 229.2,217.2 229.3,220.4 229.3,223.0 229.3,222.9 229.4,220.2 229.4,217.0 229.5,215.6 229.5,217.1 229.6,220.2 229.6,222.2 229.7,222.0 229.7,219.7 229.8,217.2 229.8,216.2 229.8,217.8 229.9,220.5 229.9,221.2 230.0,220.8 230.0,219.2 230.1,217.2 230.1,216.8 230.2,218.4 230.2,220.6 230.3,221.8 230.3,221.0 230.3,219.0 230.4,217.2 230.4,216.9 230.5,218.5 230.5,220.8 230.6,222.1 230.6,221.3 230.7,218.9 230.7,216.8 230.8,216.5 230.8,218.3 230.8,221.0 230.9,222.4 230.9,221.5 231.0,218.8 231.0,217.0 231.1,216.9 231.1,218.6 231.2,221.0 231.2,223.1 231.3,221.6 231.3,218.2 231.3,215.4 231.4,215.7 231.4,218.9 231.5,222.5 231.5,224.3 231.6,221.7 231.6,217.2 231.7,213.8 231.7,214.6 231.8,219.0 231.8,223.7 231.8,223.5 231.9,221.6 231.9,218.2 232.0,214.2 232.0,214.0 232.1,217.5 232.1,222.3 232.2,223.5 232.2,222.5 232.3,219.1 232.3,215.4 232.3,214.6 232.4,217.4 232.4,221.7 232.5,224.8 232.5,223.3 232.6,218.6 232.6,215.0 232.7,214.8 232.7,218.3 232.8,222.6 232.8,224.6 232.8,222.0 232.9,217.2 232.9,213.5 233.0,214.9 233.0,220.0 233.1,222.8 233.1,222.9 233.2,219.9 233.2,216.4 233.3,213.5 233.3,217.0 233.3,222.6 233.4,223.6 233.4,221.7 233.5,217.6 233.5,215.2 233.6,216.4 233.6,220.3 233.7,224.4 233.7,223.5 233.8,218.8 233.8,214.1 233.8,214.2 233.9,219.0 233.9,223.5 234.0,224.2 234.0,220.4 234.1,215.7 234.1,214.2 234.2,217.2 234.2,222.1 234.3,225.1 234.3,222.8 234.3,217.5 234.4,213.6 234.4,214.7 234.5,219.6 234.5,223.8 234.6,224.1 234.6,220.4 234.7,215.9 234.7,214.5 234.8,217.0 234.8,221.3 234.8,224.1 234.9,222.9 234.9,218.7 235.0,215.8 235.0,215.7 235.1,218.5 235.1,221.9 235.2,223.8 235.2,221.7 235.2,217.7 235.3,214.6 235.3,215.5 235.4,219.3 235.4,223.0 235.5,223.7 235.5,221.1 235.6,217.1 235.6,215.3 235.7,216.3 235.7,219.6 235.7,222.4 235.8,222.8 235.8,220.6 235.9,217.5 235.9,215.6 236.0,216.6 236.0,219.6 236.1,222.3 236.1,222.7 236.2,220.5 236.2,217.5 236.2,215.8 236.3,216.9 236.3,219.9 236.4,222.1 236.4,222.3 236.5,220.0 236.5,216.7 236.6,215.3 236.6,217.2 236.7,221.2 236.7,223.3 236.7,222.3 236.8,218.5 236.8,214.4 236.9,214.4 236.9,218.9 237.0,224.2 237.0,224.0 237.1,220.7 237.1,215.8 237.2,214.0 237.2,216.8 237.2,222.2 237.3,227.2 237.3,224.4 237.4,216.7 237.4,211.7 237.5,212.9 237.5,219.8 237.6,228.4 237.6,229.5 237.7,221.9 237.7,211.7 237.7,231.3 237.8,225.9 237.8,223.7 237.9,232.2 237.9,229.8 238.0,219.7 238.0,228.9 238.1,206.9 238.1,214.1 238.2,224.2 238.2,230.9 238.2,228.6 238.3,219.4 238.3,210.4 238.4,208.7 238.4,214.6 238.5,223.9 238.5,229.7 238.6,227.3 238.6,218.9 238.7,211.5 238.7,210.2 238.7,216.0 238.8,224.2 238.8,227.3 238.9,224.6 238.9,217.8 239.0,211.3 239.0,211.6 239.1,218.0 239.1,225.2 239.2,227.2 239.2,223.0 239.2,216.1 239.3,211.8 239.3,213.7 239.4,219.9 239.4,224.8 239.5,225.3 239.5,221.0 239.6,215.6 239.6,213.3 239.7,215.7 239.7,220.8 239.7,225.1 239.8,224.6 239.8,220.1 239.9,215.2 239.9,214.4 240.0,216.9 240.0,221.1 240.1,224.4 240.1,223.5 240.2,219.3 240.2,215.3 240.2,215.0 240.3,217.6 240.3,221.5 240.4,223.4 240.4,222.2 240.5,218.7 240.5,215.7 240.6,215.5 240.6,218.2 240.7,221.7 240.7,223.3 240.7,221.8 240.8,218.6 240.8,215.5 240.9,215.1 240.9,217.0 241.0,219.6 241.0,221.5 241.1,222.5 241.1,222.9 241.2,221.7 241.2,219.0 241.2,216.5 241.3,216.0 241.3,217.9 241.4,220.9 241.4,223.0 241.5,222.0 241.5,218.9 241.6,216.5 241.6,216.3 241.7,218.6 241.7,221.3 241.7,222.7 241.8,221.1 241.8,218.1 241.9,216.3 241.9,216.9 242.0,219.4 242.0,221.9 242.1,222.2 242.1,220.2 242.2,217.3 242.2,216.9 242.2,218.0 242.3,220.2 242.3,222.3 242.4,221.8 242.4,219.1 242.5,216.9 242.5,216.7 242.6,218.7 242.6,221.3 242.7,222.8 242.7,220.8 242.7,217.3 242.8,215.6 242.8,217.7 242.9,221.8 242.9,222.4 243.0,218.4 243.0,216.8 243.1,218.5 243.1,221.1 243.2,223.3 243.2,220.6 243.2,216.7 243.3,215.0 243.3,217.1 243.4,221.2 243.4,222.9 243.5,221.9 243.5,218.7 243.6,216.3 243.6,216.4 243.7,218.9 243.7,221.7 243.7,222.5 243.8,220.7 243.8,217.8 243.9,215.6 243.9,216.7 244.0,219.9 244.0,222.9 244.1,223.0 244.1,220.2 244.2,216.7 244.2,215.6 244.2,217.0 244.3,220.1 244.3,222.6 244.4,222.9 244.4,221.0 244.5,218.2 244.5,215.9 244.6,215.3 244.6,216.8 244.7,219.8 244.7,222.4 244.7,223.0 244.8,221.1 244.8,217.9 244.9,216.1 244.9,216.6 245.0,219.3 245.0,222.4 245.1,222.9 245.1,220.4 245.2,217.0 245.2,215.8 245.2,217.6 245.3,220.9 245.3,223.2 245.4,221.5 245.4,217.5 245.5,215.7 245.5,217.8 245.6,221.6 245.6,223.2 245.7,220.2 245.7,216.3 245.7,216.3 245.8,218.6 245.8,221.5 245.9,222.9 245.9,220.6 246.0,217.3 246.0,216.1 246.1,217.5 246.1,220.3 246.1,221.8 246.2,221.4 246.2,219.2 246.3,216.3 246.3,216.0 246.4,218.3 246.4,221.5 246.5,222.5 246.5,221.1 246.6,218.2 246.6,216.2 246.6,216.8 246.7,219.4 246.7,222.1 246.8,222.6 246.8,220.3 246.9,217.3 246.9,217.0 247.0,217.9 247.0,220.0 247.1,222.0 247.1,221.6 247.1,219.3 247.2,217.0 247.2,216.6 247.3,218.4 247.3,220.9 247.4,222.4 247.4,221.1 247.5,218.3 247.5,216.6 247.6,217.0 247.6,219.4 247.6,221.0 247.7,221.2 247.7,219.8 247.8,217.9 247.8,216.2 247.9,217.9 247.9,220.9 248.0,222.4 248.0,221.0 248.1,218.0 248.1,217.0 248.1,217.9 248.2,220.3 248.2,221.9 248.3,220.8 248.3,218.2 248.4,216.5 248.4,217.6 248.5,220.3 248.5,221.9 248.6,221.2 248.6,218.9 248.6,216.6 248.7,216.5 248.7,218.7 248.8,221.4 248.8,221.8 248.9,220.7 248.9,218.5 249.0,216.5 249.0,216.8 249.1,219.0 249.1,221.5 249.1,222.1 249.2,220.7 249.2,218.3 249.3,216.0 249.3,216.4 249.4,219.0 249.4,221.9 249.5,222.4 249.5,220.9 249.6,218.1 249.6,217.0 249.6,217.4 249.7,219.2 249.7,221.1 249.8,222.6 249.8,220.9 249.9,218.0 249.9,216.5 250.0,217.0 250.0,219.1 250.1,221.4 250.1,222.5 250.1,221.0 250.2,218.3 250.2,216.3 250.3,216.5 250.3,218.7 250.4,221.2 250.4,222.4 250.5,221.5 250.5,219.2 250.6,217.2 250.6,216.3 250.6,216.4 250.7,216.7 250.7,217.7 250.8,219.6 250.8,221.6 250.9,222.2 250.9,220.8 251.0,218.4 251.0,217.0 251.1,217.2 251.1,219.0 251.1,221.1 251.2,221.4 251.2,220.3 251.3,218.4 251.3,217.3 251.4,217.8 251.4,219.5 251.5,221.2 251.5,221.3 251.6,219.8 251.6,217.9 251.6,216.7 251.7,218.0 251.7,220.4 251.8,221.1 251.8,220.6 251.9,219.1 251.9,217.4 252.0,217.3 252.0,219.0 252.1,220.9 252.1,221.8 252.1,220.4 252.2,218.1 252.2,216.9 252.3,217.6 252.3,219.6 252.4,221.3 252.4,221.7 252.5,221.6 252.5,221.7 252.6,221.0 252.6,219.1 252.6,217.5 252.7,217.3 252.7,218.8 252.8,220.7 252.8,221.6 252.9,220.5 252.9,218.4 253.0,217.5 253.0,217.8 253.1,219.4 253.1,221.0 253.1,221.2 253.2,219.9 253.2,218.1 253.3,217.4 253.3,218.1 253.4,219.7 253.4,221.3 253.5,221.2 253.5,219.7 253.6,217.9 253.6,217.2 253.6,218.2 253.7,220.0 253.7,221.2 253.8,220.9 253.8,219.3 253.9,217.9 253.9,217.6 254.0,218.7 254.0,220.3 254.1,221.6 254.1,220.8 254.1,218.7 254.2,217.6 254.2,217.8 254.3,219.2 254.3,220.8 254.4,221.7 254.4,220.2 254.5,217.9 254.5,217.7 254.6,218.3 254.6,219.8 254.6,221.3 254.7,221.1 254.7,219.4 254.8,217.5 254.8,216.3 254.9,218.2 254.9,221.1 255.0,222.0 255.0,221.1 255.1,218.6 255.1,216.3 255.1,216.6 255.2,219.1 255.2,221.8 255.3,222.4 255.3,220.6 255.4,217.6 255.4,216.3 255.5,217.3 255.5,220.0 255.6,222.6 255.6,222.5 255.6,219.6 255.7,216.4 255.7,215.4 255.8,218.1 255.8,221.9 255.9,223.3 255.9,220.9 256.0,216.9 256.0,215.8 256.1,218.2 256.1,221.9 256.1,223.2 256.2,219.8 256.2,216.4 256.3,216.0 256.3,218.8 256.4,222.0 256.4,222.6 256.5,220.5 256.5,217.4 256.6,214.8 256.6,216.6 256.6,220.5 256.7,222.7 256.7,222.3 256.8,219.6 256.8,216.7 256.9,215.6 256.9,217.6 257.0,220.8 257.0,223.2 257.0,222.5 257.1,219.3 257.1,216.2 257.2,215.9 257.2,217.7 257.3,220.7 257.3,222.9 257.4,222.5 257.4,219.8 257.5,216.8 257.5,215.6 257.5,216.7 257.6,219.4 257.6,222.0 257.7,223.3 257.7,222.1 257.8,219.3 257.8,216.5 257.9,215.3 257.9,216.5 258.0,219.4 258.0,222.2 258.0,222.9 258.1,221.3 258.1,218.4 258.2,216.0 258.2,216.0 258.3,218.4 258.3,221.3 258.4,222.6 258.4,221.6 258.5,218.8 258.5,217.5 258.5,217.3 258.6,218.7 258.6,220.5 258.7,221.3 258.7,220.6 258.8,218.9 258.8,216.8 258.9,216.9 258.9,218.8 259.0,221.0 259.0,222.2 259.0,220.9 259.1,218.4 259.1,216.7 259.2,217.1 259.2,219.2 259.3,221.3 259.3,221.8 259.4,220.3 259.4,218.0 259.5,216.8 259.5,217.6 259.5,219.7 259.6,221.4 259.6,221.3 259.7,219.6 259.7,217.7 259.8,217.1 259.8,218.5 259.9,220.6 259.9,221.0 260.0,219.8 260.0,218.0 260.0,217.7 260.1,219.7 260.1,221.0 260.2,220.4 260.2,218.7 260.3,217.7 260.3,218.2 260.4,219.6 260.4,220.6 260.5,220.5 260.5,219.4 260.5,218.3 260.6,218.0 260.6,218.8 260.7,219.9 260.7,220.4 260.8,220.1 260.8,219.2 260.9,218.1 260.9,218.1 261.0,219.0 261.0,220.1 261.0,220.6 261.1,220.0 261.1,219.0 261.2,218.6 261.2,218.6 261.3,219.2 261.3,219.8 261.4,220.3 261.4,219.8 261.5,219.0 261.5,218.5 261.5,218.5 261.6,219.1 261.6,219.8 261.7,220.3 261.7,220.0 261.8,219.3 261.8,218.6 261.9,218.4 261.9,218.7 262.0,219.5 262.0,219.9 262.0,220.0 262.1,219.6 262.1,219.1 262.2,218.5 262.2,218.5 262.3,219.1 262.3,219.8 262.4,220.0 262.4,219.8 262.5,219.3"/>
<polyline fill="none" stroke="#0000ff" stroke-width="0.5" stroke-linejoin="round" stroke-opacity="1" points="329.5,70.6 329.7,67.9 329.9,68.8 330.0,54.8 330.2,54.0 330.4,61.9 330.6,58.6 330.7,56.7 330.9,61.4 331.1,55.7 331.3,53.4 331.5,50.9 331.6,60.4 331.8,58.2 332.0,54.5 332.2,47.1 332.4,47.5 332.5,67.7 332.7,49.7 332.9,63.9 333.1,60.2 333.2,52.6 333.4,48.2 333.6,63.0 333.8,44.8 334.0,57.7 334.1,46.1 334.3,44.6 334.5,60.8 334.7,62.8 334.9,44.3 335.0,63.2 335.2,45.4 335.4,40.3 335.6,65.4 335.7,49.4 335.9,55.1 336.1,44.7 336.3,39.9 336.5,55.2 336.6,54.7 336.8,57.2 337.0,38.4 337.2,40.6 337.4,17.5 337.5,46.4 337.7,36.9 337.9,61.8 338.1,36.9 338.2,52.1 338.4,50.6 338.6,37.9 338.8,40.8 339.0,65.8 339.1,56.2 339.3,35.0 339.5,62.7 339.7,24.5 339.9,54.6 340.0,50.7 340.2,37.0 340.4,37.5 340.6,66.1 340.7,35.0 340.9,66.9 341.1,42.7 341.3,23.5 341.5,62.9 341.6,32.1 341.8,41.6 342.0,32.5 342.2,39.9 342.4,29.5 342.5,60.7 342.7,49.4 342.9,43.2 343.1,64.2 343.2,61.0 343.4,41.0 343.6,43.1 343.8,47.3 344.0,34.9 344.1,45.8 344.3,33.5 344.5,59.2 344.7,38.6 344.8,32.7 345.0,42.2 345.2,48.4 345.4,40.2 345.6,64.6 345.7,6.5 345.9,47.2 346.1,51.9 346.3,46.7 346.5,57.5 346.6,57.1 346.8,38.8 347.0,50.1 347.2,38.0 347.3,33.9 347.5,40.4 347.7,59.2 347.9,37.7 348.1,25.0 348.2,40.5 348.4,61.4 348.6,56.5 348.8,43.8 349.0,44.1 349.1,9.8 349.3,43.6 349.5,42.0 349.7,55.9 349.8,57.5 350.0,57.4 350.2,64.5 350.4,62.5 350.6,58.0 350.7,66.4 350.9,63.7 351.1,55.8 351.3,55.6 351.5,67.2 351.6,56.4 351.8,68.3 352.0,62.7 352.2,66.4 352.3,67.3 352.5,61.6 352.7,65.3 352.9,60.2 353.1,66.9 353.2,59.8 353.4,58.4 353.6,62.4 353.8,61.2 354.0,59.5 354.1,59.2 354.3,65.8 354.5,59.8 354.7,64.1 354.8,62.0 355.0,59.2 355.2,60.1 355.4,66.4 355.6,65.4 355.7,69.2 355.9,66.3 356.1,59.5 356.3,60.3 356.5,61.8 356.6,59.6 356.8,60.3 357.0,66.2 357.2,68.4 357.3,60.5 357.5,70.6 357.7,66.2 357.9,66.2 358.1,67.1 358.2,68.0 358.4,61.4 358.6,63.7 358.8,61.2 358.9,65.7 359.1,63.7 359.3,66.0 359.5,65.5 359.7,62.5 359.8,63.9 360.0,68.1 360.2,63.7 360.4,62.5 360.6,65.4 360.7,61.5 360.9,62.5 361.1,68.1 361.3,63.2 361.4,64.1 361.6,64.0 361.8,68.1 362.0,70.1 362.2,68.8 362.3,62.2 362.5,65.1 362.7,65.1 362.9,61.8 363.1,65.6 363.2,64.6 363.4,68.3 363.6,71.4 363.8,65.4 363.9,66.2 364.1,67.9 364.3,70.6 364.5,68.6 364.7,61.5 364.8,66.7 365.0,64.6 365.2,71.1 365.4,65.8 365.6,68.9 365.7,66.2 365.9,68.0 366.1,72.0 366.3,69.7 366.4,68.1 366.6,69.4 366.8,69.2 367.0,68.6 367.2,69.4 367.3,69.4 367.5,69.8 367.7,68.6 367.9,68.2 368.1,70.2 368.2,68.3 368.4,69.3 368.6,68.4 368.8,68.6 368.9,70.5 369.1,69.4 369.3,70.8 369.5,71.5 369.7,68.8 369.8,68.4 370.0,69.0 370.2,69.4 370.4,68.9 370.6,69.9 370.7,69.3 370.9,69.3 371.1,70.8 371.3,70.2 371.4,71.6 371.6,68.8 371.8,68.7 372.0,69.6 372.2,71.4 372.3,71.8 372.5,70.2 372.7,69.4 372.9,69.9 373.0,71.2 373.2,71.2 373.4,70.0 373.6,68.7 373.8,71.0 373.9,68.9 374.1,70.2 374.3,70.6 374.5,70.2 374.7,70.5 374.8,71.0 375.0,69.8 375.2,70.1 375.4,70.0 375.5,70.5 375.7,69.5 375.9,71.8 376.1,68.6 376.3,71.0 376.4,70.1 376.6,69.8 376.8,69.5 377.0,70.0 377.2,69.4 377.3,71.1 377.5,70.7 377.7,71.7 377.9,69.0 378.0,69.7 378.2,69.7 378.4,71.1 378.6,69.4 378.8,71.5 378.9,69.6 379.1,72.0 379.3,69.2 379.5,69.4 379.7,69.2 379.8,70.5 380.0,70.2 380.2,69.9 380.4,71.6 380.5,71.8 380.7,70.8 380.9,72.0 381.1,70.4 381.3,70.3 381.4,69.9 381.6,70.0 381.8,71.7 382.0,70.5 382.2,70.2 382.3,70.2 382.5,71.4 382.7,70.9 382.9,72.2 383.0,71.6 383.2,70.3 383.4,71.5 383.6,70.8 383.8,70.9 383.9,70.6 384.1,71.5 384.3,71.7 384.5,70.9 384.7,70.9 384.8,71.2 385.0,72.1 385.2,70.9 385.4,71.5 385.5,71.8 385.7,71.1 385.9,71.5 386.1,71.8 386.3,71.1 386.4,72.3 386.6,71.2 386.8,71.6 387.0,71.7 387.1,72.0 387.3,71.3 387.5,71.1 387.7,71.3 387.9,71.2 388.0,72.3 388.2,71.3 388.4,71.1 388.6,71.1 388.8,71.7 388.9,71.4 389.1,71.5 389.3,72.1 389.5,71.5 389.6,72.2 389.8,72.0 390.0,71.9 390.2,71.6 390.4,71.4 390.5,71.3 390.7,72.3 390.9,71.2 391.1,71.4 391.3,71.8 391.4,72.1 391.6,72.1 391.8,72.0 392.0,71.6 392.1,71.6 392.3,71.8 392.5,72.4 392.7,71.6 392.9,71.8 393.0,71.4 393.2,71.8 393.4,71.5 393.6,71.5 393.8,72.1 393.9,71.7 394.1,72.4 394.3,71.9 394.5,71.4 394.6,72.1 394.8,71.8 395.0,71.5 395.2,71.5 395.4,71.6 395.5,71.9 395.7,71.6 395.9,72.1 396.1,72.2 396.3,71.5 396.4,71.6 396.6,72.2 396.8,71.8 397.0,71.5 397.1,71.8 397.3,71.5 397.5,71.6 397.7,72.2 397.9,71.6 398.0,72.2 398.2,71.8 398.4,71.8 398.6,71.8 398.8,71.8 398.9,71.7 399.1,71.8 399.3,72.2 399.5,71.7 399.6,72.1 399.8,72.1 400.0,71.9 400.2,71.6 400.4,71.6 400.5,71.8 400.7,71.7 400.9,72.3 401.1,71.8 401.2,71.6 401.4,72.0 401.6,72.2 401.8,71.8 402.0,71.7 402.1,71.7 402.3,71.9 402.5,71.8 402.7,71.8 402.9,72.2 403.0,72.0 403.2,71.8 403.4,72.0 403.6,72.2 403.7,71.8 403.9,72.3 404.1,72.2 404.3,72.1 404.5,71.9 404.6,72.1 404.8,72.2 405.0,72.4 405.2,71.9 405.4,71.8 405.5,71.9 405.7,72.2 405.9,72.1 406.1,71.8 406.2,71.9 406.4,72.0 406.6,72.2 406.8,72.0 407.0,71.8 407.1,72.0 407.3,72.3 407.5,71.8 407.7,71.9 407.9,72.0 408.0,71.9 408.2,72.1 408.4,72.1 408.6,72.3 408.7,71.9 408.9,71.9 409.1,72.4 409.3,72.3 409.5,72.4 409.6,72.4 409.8,72.0 410.0,72.3 410.2,72.4 410.4,71.9 410.5,72.3 410.7,71.9 410.9,72.0 411.1,72.4 411.2,72.2 411.4,72.3 411.6,72.3 411.8,72.4 412.0,72.0 412.1,72.2 412.3,72.1 412.5,72.2 412.7,72.2 412.9,71.9 413.0,72.3 413.2,72.1 413.4,72.1 413.6,71.9 413.7,72.2 413.9,72.2 414.1,72.3 414.3,72.0 414.5,72.3 414.6,72.4 414.8,72.4 415.0,72.0 415.2,72.0 415.3,72.0 415.5,72.0 415.7,72.4 415.9,72.3 416.1,72.2 416.2,72.3 416.4,72.1 416.6,72.1 416.8,72.1 417.0,72.1 417.1,72.4 417.3,72.4 417.5,72.0 417.7,72.2 417.8,72.1 418.0,72.1 418.2,72.2 418.4,72.4 418.6,72.0 418.7,72.2 418.9,72.4 419.1,72.4 419.3,72.1 419.5,72.2 419.6,72.0 419.8,72.3 420.0,72.2 420.2,72.2 420.3,72.0 420.5,72.0 420.7,72.3 420.9,72.3 421.1,72.2 421.2,72.3 421.4,72.2 421.6,72.1 421.8,72.3 422.0,72.4 422.1,72.0 422.3,72.2 422.5,72.4 422.7,72.5 422.8,72.3 423.0,72.3 423.2,72.1 423.4,72.3 423.6,72.4 423.7,72.4 423.9,72.1 424.1,72.3 424.3,72.1 424.5,72.3 424.6,72.1 424.8,72.2 425.0,72.3 425.2,72.0 425.3,72.3 425.5,72.1 425.7,72.3 425.9,72.3 426.1,72.2 426.2,72.2 426.4,72.1 426.6,72.1 426.8,72.2 427.0,72.3 427.1,72.2 427.3,72.2 427.5,72.2 427.7,72.2 427.8,72.3 428.0,72.0 428.2,72.3 428.4,72.2 428.6,72.1 428.7,72.2 428.9,72.2 429.1,72.2 429.3,72.1 429.4,72.3 429.6,72.1 429.8,72.5 430.0,72.1 430.2,72.3 430.3,72.2 430.5,72.1 430.7,72.3 430.9,72.1 431.1,72.3 431.2,72.4 431.4,72.3 431.6,72.4 431.8,72.4 431.9,72.1 432.1,72.3 432.3,72.1 432.5,72.2 432.7,72.3 432.8,72.1 433.0,72.3 433.2,72.3 433.4,72.2 433.6,72.4 433.7,72.2 433.9,72.4 434.1,72.2 434.3,72.2 434.4,72.2 434.6,72.2 434.8,72.1 435.0,72.1 435.2,72.3 435.3,72.3 435.5,72.2 435.7,72.4 435.9,72.3 436.1,72.2 436.2,72.4 436.4,72.3 436.6,72.2 436.8,72.2 436.9,72.2 437.1,72.2 437.3,72.4 437.5,72.2 437.7,72.1 437.8,72.2 438.0,72.2 438.2,72.2 438.4,72.1 438.6,72.1 438.7,72.1 438.9,72.4 439.1,72.3 439.3,72.3 439.4,72.3 439.6,72.2 439.8,72.5 440.0,72.4 440.2,72.3 440.3,72.2 440.5,72.3 440.7,72.4 440.9,72.3 441.1,72.3 441.2,72.1 441.4,72.1 441.6,72.2 441.8,72.2 441.9,72.2 442.1,72.3 442.3,72.2 442.5,72.2 442.7,72.4 442.8,72.2 443.0,72.2 443.2,72.3 443.4,72.2 443.6,72.2 443.7,72.5 443.9,72.5 444.1,72.4 444.3,72.3 444.4,72.3 444.6,72.4 444.8,72.4 445.0,72.4 445.2,72.2 445.3,72.4 445.5,72.3 445.7,72.2 445.9,72.3 446.0,72.3 446.2,72.3 446.4,72.3 446.6,72.2 446.8,72.2 446.9,72.3 447.1,72.4 447.3,72.2 447.5,72.4 447.7,72.3 447.8,72.3 448.0,72.4 448.2,72.4 448.4,72.3 448.5,72.4 448.7,72.2 448.9,72.4 449.1,72.3 449.3,72.3 449.4,72.2 449.6,72.3 449.8,72.2 450.0,72.4 450.2,72.3 450.3,72.3 450.5,72.3 450.7,72.5 450.9,72.2 451.0,72.2 451.2,72.3 451.4,72.3 451.6,72.3 451.8,72.2 451.9,72.3 452.1,72.5 452.3,72.2 452.5,72.3 452.7,72.2 452.8,72.3 453.0,72.3 453.2,72.3 453.4,72.3 453.5,72.3 453.7,72.3 453.9,72.5 454.1,72.2 454.3,72.3 454.4,72.3 454.6,72.4 454.8,72.3 455.0,72.5 455.2,72.2 455.3,72.3 455.5,72.2 455.7,72.4 455.9,72.4 456.0,72.3 456.2,72.5 456.4,72.3 456.6,72.2 456.8,72.4 456.9,72.2 457.1,72.4 457.3,72.3 457.5,72.3 457.7,72.5 457.8,72.2 458.0,72.5 458.2,72.4 458.4,72.2 458.5,72.2 458.7,72.2 458.9,72.3 459.1,72.3 459.3,72.4 459.4,72.3 459.6,72.2 459.8,72.3 460.0,72.5 460.1,72.4 460.3,72.5 460.5,72.3 460.7,72.3 460.9,72.3 461.0,72.3 461.2,72.3 461.4,72.3 461.6,72.3 461.8,72.2 461.9,72.3 462.1,72.3 462.3,72.3 462.5,72.2 462.6,72.4 462.8,72.2 463.0,72.4 463.2,72.3 463.4,72.2 463.5,72.3 463.7,72.4 463.9,72.2 464.1,72.4 464.3,72.4 464.4,72.4 464.6,72.3 464.8,72.2 465.0,72.2 465.1,72.2 465.3,72.2 465.5,72.3 465.7,72.4 465.9,72.5 466.0,72.4 466.2,72.3 466.4,72.4 466.6,72.3 466.8,72.3 466.9,72.3 467.1,72.2 467.3,72.3 467.5,72.4 467.6,72.2 467.8,72.3 468.0,72.3 468.2,72.4 468.4,72.2 468.5,72.2 468.7,72.3 468.9,72.5 469.1,72.4 469.3,72.4 469.4,72.3 469.6,72.3 469.8,72.3 470.0,72.4 470.1,72.4 470.3,72.3 470.5,72.4 470.7,72.3 470.9,72.2 471.0,72.3 471.2,72.4 471.4,72.4 471.6,72.3 471.8,72.4 471.9,72.4 472.1,72.3 472.3,72.4 472.5,72.4 472.6,72.5 472.8,72.3 473.0,72.3 473.2,72.4 473.4,72.4 473.5,72.3 473.7,72.3 473.9,72.3 474.1,72.3 474.2,72.4 474.4,72.3 474.6,72.4 474.8,72.3 475.0,72.4 475.1,72.3 475.3,72.3 475.5,72.2 475.7,72.3 475.9,72.4 476.0,72.4 476.2,72.3 476.4,72.4 476.6,72.4 476.7,72.3 476.9,72.4 477.1,72.3 477.3,72.3 477.5,72.4 477.6,72.2 477.8,72.3 478.0,72.4 478.2,72.3 478.4,72.5 478.5,72.3 478.7,72.2 478.9,72.3 479.1,72.2 479.2,72.3 479.4,72.4 479.6,72.4 479.8,72.3 480.0,72.5 480.1,72.4 480.3,72.4 480.5,72.4 480.7,72.4 480.9,72.3 481.0,72.3 481.2,72.4 481.4,72.5 481.6,72.3 481.7,72.3 481.9,72.4 482.1,72.3 482.3,72.2 482.5,72.4 482.6,72.4 482.8,72.4 483.0,72.3 483.2,72.4 483.4,72.3 483.5,72.3 483.7,72.3 483.9,72.3 484.1,72.3 484.2,72.3 484.4,72.5 484.6,72.4 484.8,72.3 485.0,72.3 485.1,72.3 485.3,72.3 485.5,72.3 485.7,72.3 485.9,72.4 486.0,72.3 486.2,72.4 486.4,72.4 486.6,72.4 486.7,72.4 486.9,72.3 487.1,72.3 487.3,72.3 487.5,72.3 487.6,72.4 487.8,72.3 488.0,72.4 488.2,72.4 488.3,72.3 488.5,72.4 488.7,72.4 488.9,72.3 489.1,72.3 489.2,72.4 489.4,72.4 489.6,72.2 489.8,72.4 490.0,72.3 490.1,72.3 490.3,72.4 490.5,72.3 490.7,72.3 490.8,72.4 491.0,72.3 491.2,72.3 491.4,72.4 491.6,72.3 491.7,72.3 491.9,72.3 492.1,72.5 492.3,72.5 492.5,72.3 492.6,72.3 492.8,72.3 493.0,72.3 493.2,72.3 493.3,72.3 493.5,72.5 493.7,72.3 493.9,72.3 494.1,72.5 494.2,72.3 494.4,72.3 494.6,72.3 494.8,72.3 495.0,72.3 495.1,72.3 495.3,72.4 495.5,72.3 495.7,72.3 495.8,72.3 496.0,72.3 496.2,72.4 496.4,72.3 496.6,72.3 496.7,72.4 496.9,72.3 497.1,72.3 497.3,72.4 497.5,72.3 497.6,72.3 497.8,72.4 498.0,72.3 498.2,72.4 498.3,72.3 498.5,72.3 498.7,72.3 498.9,72.4 499.1,72.3 499.2,72.4 499.4,72.4 499.6,72.4 499.8,72.4 500.0,72.4 500.1,72.4 500.3,72.3 500.5,72.4 500.7,72.4 500.8,72.5 501.0,72.3 501.2,72.3 501.4,72.3 501.6,72.3 501.7,72.3 501.9,72.3 502.1,72.4 502.3,72.5 502.4,72.4 502.6,72.4 502.8,72.3 503.0,72.4 503.2,72.3 503.3,72.3 503.5,72.3 503.7,72.4 503.9,72.5 504.1,72.5 504.2,72.4 504.4,72.3 504.6,72.3 504.8,72.4 504.9,72.4 505.1,72.3 505.3,72.3 505.5,72.3 505.7,72.3 505.8,72.3 506.0,72.4 506.2,72.3 506.4,72.4 506.6,72.4 506.7,72.3 506.9,72.5 507.1,72.4 507.3,72.3 507.4,72.3 507.6,72.3 507.8,72.5 508.0,72.3 508.2,72.3 508.3,72.4 508.5,72.3 508.7,72.3 508.9,72.3 509.1,72.3 509.2,72.3 509.4,72.4 509.6,72.4 509.8,72.3 509.9,72.3 510.1,72.5 510.3,72.4 510.5,72.5 510.7,72.3 510.8,72.4 511.0,72.3 511.2,72.3 511.4,72.4 511.6,72.4 511.7,72.3 511.9,72.3 512.1,72.3 512.3,72.3 512.4,72.3 512.6,72.3 512.8,72.3 513.0,72.4 513.2,72.3 513.3,72.4 513.5,72.4 513.7,72.3 513.9,72.3 514.1,72.4 514.2,72.4 514.4,72.3 514.6,72.4 514.8,72.3 514.9,72.3 515.1,72.4 515.3,72.4 515.5,72.3 515.7,72.5 515.8,72.3 516.0,72.4 516.2,72.4 516.4,72.4 516.5,72.4 516.7,72.4 516.9,72.3 517.1,72.4 517.3,72.4 517.4,72.4 517.6,72.4 517.8,72.3 518.0,72.3 518.2,72.4 518.3,72.4 518.5,72.3 518.7,72.4 518.9,72.3 519.0,72.3 519.2,72.3 519.4,72.3 519.6,72.4 519.8,72.4 519.9,72.3 520.1,72.3 520.3,72.3 520.5,72.3 520.7,72.3 520.8,72.3 521.0,72.3 521.2,72.3 521.4,72.5 521.5,72.4 521.7,72.4 521.9,72.3 522.1,72.3 522.3,72.3 522.4,72.3 522.6,72.3 522.8,72.5 523.0,72.3 523.2,72.5 523.3,72.3 523.5,72.3 523.7,72.3 523.9,72.3 524.0,72.4 524.2,72.3 524.4,72.4 524.6,72.4 524.8,72.3 524.9,72.3 525.1,72.3 525.3,72.3 525.5,72.4 525.7,72.4 525.8,72.3 526.0,72.3 526.2,72.5 526.4,72.4 526.5,72.3 526.7,72.4 526.9,72.3 527.1,72.3 527.3,72.3 527.4,72.3 527.6,72.5 527.8,72.4 528.0,72.3 528.2,72.3 528.3,72.3 528.5,72.5 528.7,72.4 528.9,72.4 529.0,72.3 529.2,72.4 529.4,72.3 529.6,72.4 529.8,72.5 529.9,72.4 530.1,72.4 530.3,72.4 530.5,72.3 530.6,72.3 530.8,72.4 531.0,72.4 531.2,72.4 531.4,72.4 531.5,72.3 531.7,72.5 531.9,72.3 532.1,72.4 532.3,72.3 532.4,72.3 532.6,72.4 532.8,72.4 533.0,72.4 533.1,72.3 533.3,72.4 533.5,72.4 533.7,72.4 533.9,72.3 534.0,72.4 534.2,72.4 534.4,72.5 534.6,72.3 534.8,72.3 534.9,72.5 535.1,72.4 535.3,72.3 535.5,72.4 535.6,72.4 535.8,72.4 536.0,72.4 536.2,72.4 536.4,72.3 536.5,72.4 536.7,72.3 536.9,72.3 537.1,72.3 537.3,72.4 537.4,72.4 537.6,72.4 537.8,72.3 538.0,72.4 538.1,72.5 538.3,72.4 538.5,72.4 538.7,72.3 538.9,72.5 539.0,72.4 539.2,72.4 539.4,72.4 539.6,72.3 539.8,72.5 539.9,72.3 540.1,72.4 540.3,72.4 540.5,72.4 540.6,72.4 540.8,72.3 541.0,72.4 541.2,72.3 541.4,72.4 541.5,72.3 541.7,72.4 541.9,72.4 542.1,72.5 542.3,72.3 542.4,72.4 542.6,72.5 542.8,72.5 543.0,72.4 543.1,72.4 543.3,72.3 543.5,72.4"/>
<line x1="329.5" y1="72.5" x2="329.5" y2="72.5" stroke="#3b3bf0" stroke-width="1" stroke-opacity="0.7"/>
<line x1="382.2" y1="72.5" x2="543.5" y2="72.5" stroke="#3b3bf0" stroke-width="1" stroke-opacity="0.7"/>
<polyline fill="none" stroke="#0000ff" stroke-width="0.5" stroke-linejoin="round" stroke-opacity="1" points="329.5,161.3 329.7,161.4 329.9,161.4 330.0,161.5 330.2,161.3 330.4,161.5 330.6,161.3 330.7,161.4 330.9,161.4 331.1,161.4 331.3,161.3 331.5,161.3 331.6,161.5 331.8,161.3 332.0,161.4 332.2,161.3 332.4,161.5 332.5,161.4 332.7,161.3 332.9,161.4 333.1,161.3 333.2,161.4 333.4,161.4 333.6,161.5 333.8,161.5 334.0,161.4 334.1,161.5 334.3,161.5 334.5,161.4 334.7,161.4 334.9,161.4 335.0,161.4 335.2,161.4 335.4,161.4 335.6,161.3 335.7,161.5 335.9,161.3 336.1,161.4 336.3,161.4 336.5,161.5 336.6,161.4 336.8,161.3 337.0,161.3 337.2,161.4 337.4,161.3 337.5,161.4 337.7,161.3 337.9,161.5 338.1,161.5 338.2,161.4 338.4,161.5 338.6,161.4 338.8,161.5 339.0,161.3 339.1,161.5 339.3,161.4 339.5,161.3 339.7,161.4 339.9,161.4 340.0,161.3 340.2,161.3 340.4,161.5 340.6,161.4 340.7,161.4 340.9,161.3 341.1,161.4 341.3,161.4 341.5,161.4 341.6,161.3 341.8,161.3 342.0,161.4 342.2,161.4 342.4,161.4 342.5,161.3 342.7,161.3 342.9,161.5 343.1,161.4 343.2,161.4 343.4,161.4 343.6,161.4 343.8,161.4 344.0,161.3 344.1,161.4 344.3,161.5 344.5,161.4 344.7,161.3 344.8,161.4 345.0,161.4 345.2,161.3 345.4,161.4 345.6,161.4 345.7,161.5 345.9,161.4 346.1,161.5 346.3,161.4 346.5,161.3 346.6,161.5 346.8,161.3 347.0,161.3 347.2,161.5 347.3,161.3 347.5,161.5 347.7,161.3 347.9,161.4 348.1,161.4 348.2,161.4 348.4,161.4 348.6,161.5 348.8,161.4 349.0,161.5 349.1,161.4 349.3,161.5 349.5,161.3 349.7,161.4 349.8,161.5 350.0,161.5 350.2,161.3 350.4,161.4 350.6,161.3 350.7,161.3 350.9,161.5 351.1,161.5 351.3,161.5 351.5,161.5 351.6,161.4 351.8,161.4 352.0,161.5 352.2,161.3 352.3,161.3 352.5,161.3 352.7,161.3 352.9,161.4 353.1,161.5 353.2,161.5 353.4,161.4 353.6,161.5 353.8,161.4 354.0,161.4 354.1,161.4 354.3,161.4 354.5,161.3 354.7,161.5 354.8,161.3 355.0,161.3 355.2,161.3 355.4,161.4 355.6,161.4 355.7,161.3 355.9,161.3 356.1,161.4 356.3,161.4 356.5,161.5 356.6,161.3 356.8,161.3 357.0,161.3 357.2,161.4 357.3,161.5 357.5,161.4 357.7,161.4 357.9,161.4 358.1,161.5 358.2,161.4 358.4,161.4 358.6,161.5 358.8,161.3 358.9,161.3 359.1,161.3 359.3,161.4 359.5,161.2 359.7,161.5 359.8,161.4 360.0,161.4 360.2,161.4 360.4,161.4 360.6,161.3 360.7,161.3 360.9,161.5 361.1,161.3 361.3,161.4 361.4,161.4 361.6,161.3 361.8,161.5 362.0,161.5 362.2,161.4 362.3,161.3 362.5,161.4 362.7,161.3 362.9,161.4 363.1,161.4 363.2,161.5 363.4,161.3 363.6,161.4 363.8,161.4 363.9,161.3 364.1,161.5 364.3,161.4 364.5,161.3 364.7,161.4 364.8,161.2 365.0,161.2 365.2,161.4 365.4,161.3 365.6,161.3 365.7,161.4 365.9,161.3 366.1,161.5 366.3,161.4 366.4,161.4 366.6,161.5 366.8,161.4 367.0,161.2 367.2,161.3 367.3,161.5 367.5,161.4 367.7,161.3 367.9,161.4 368.1,161.5 368.2,161.3 368.4,161.4 368.6,161.4 368.8,161.2 368.9,161.3 369.1,161.3 369.3,161.5 369.5,161.4 369.7,161.5 369.8,161.3 370.0,161.5 370.2,161.3 370.4,161.4 370.6,161.5 370.7,161.5 370.9,161.3 371.1,161.3 371.3,161.4 371.4,161.4 371.6,161.3 371.8,161.5 372.0,161.3 372.2,161.4 372.3,161.4 372.5,161.4 372.7,161.5 372.9,161.3 373.0,161.3 373.2,161.4 373.4,161.3 373.6,161.5 373.8,161.4 373.9,161.5 374.1,161.4 374.3,161.5 374.5,161.3 374.7,161.3 374.8,161.3 375.0,161.4 375.2,161.4 375.4,161.3 375.5,161.3 375.7,161.4 375.9,161.3 376.1,161.4 376.3,161.3 376.4,161.2 376.6,161.3 376.8,161.2 377.0,161.3 377.2,161.3 377.3,161.4 377.5,161.3 377.7,161.2 377.9,161.4 378.0,161.4 378.2,161.3 378.4,161.3 378.6,161.5 378.8,161.4 378.9,161.4 379.1,161.4 379.3,161.3 379.5,161.4 379.7,161.4 379.8,161.3 380.0,161.4 380.2,161.3 380.4,161.4 380.5,161.4 380.7,161.3 380.9,161.2 381.1,161.3 381.3,161.5 381.4,161.2 381.6,161.3 381.8,161.3 382.0,161.3 382.2,161.1 382.3,161.2 382.5,161.5 382.7,161.1 382.9,161.1 383.0,161.3 383.2,161.3 383.4,161.0 383.6,161.3 383.8,161.5 383.9,161.3 384.1,161.2 384.3,161.0 384.5,161.2 384.7,161.5 384.8,160.9 385.0,161.1 385.2,160.9 385.4,161.4 385.5,160.9 385.7,161.2 385.9,161.2 386.1,160.9 386.3,161.2 386.4,161.5 386.6,160.8 386.8,161.1 387.0,160.9 387.1,161.2 387.3,160.7 387.5,160.8 387.7,161.0 387.9,161.2 388.0,160.8 388.2,161.2 388.4,161.3 388.6,161.4 388.8,161.1 388.9,161.2 389.1,161.4 389.3,160.9 389.5,160.8 389.6,161.4 389.8,160.7 390.0,161.4 390.2,160.7 390.4,160.7 390.5,160.5 390.7,160.4 390.9,160.8 391.1,160.5 391.3,160.4 391.4,160.5 391.6,161.2 391.8,160.5 392.0,160.6 392.1,160.1 392.3,161.3 392.5,160.6 392.7,160.3 392.9,160.9 393.0,160.3 393.2,161.4 393.4,161.3 393.6,160.4 393.8,160.3 393.9,160.0 394.1,161.3 394.3,161.2 394.5,160.9 394.6,160.0 394.8,161.3 395.0,159.9 395.2,159.5 395.4,159.6 395.5,160.1 395.7,159.6 395.9,160.5 396.1,160.1 396.3,159.9 396.4,160.4 396.6,159.4 396.8,160.1 397.0,159.6 397.1,161.0 397.3,160.7 397.5,159.1 397.7,159.3 397.9,160.2 398.0,161.2 398.2,160.1 398.4,159.7 398.6,160.4 398.8,159.7 398.9,161.2 399.1,161.4 399.3,158.8 399.5,159.3 399.6,161.0 399.8,161.0 400.0,160.3 400.2,159.4 400.4,161.0 400.5,161.3 400.7,158.5 400.9,158.4 401.1,160.3 401.2,160.0 401.4,159.5 401.6,157.9 401.8,158.1 402.0,159.4 402.1,160.0 402.3,160.9 402.5,160.6 402.7,160.5 402.9,158.3 403.0,158.2 403.2,157.5 403.4,159.0 403.6,157.2 403.7,158.6 403.9,161.3 404.1,158.5 404.3,160.5 404.5,157.4 404.6,160.0 404.8,157.0 405.0,157.6 405.2,158.1 405.4,160.4 405.5,159.2 405.7,156.5 405.9,157.5 406.1,158.4 406.2,160.8 406.4,156.5 406.6,158.6 406.8,158.2 407.0,160.3 407.1,161.1 407.3,159.5 407.5,156.9 407.7,161.0 407.9,161.0 408.0,157.4 408.2,158.7 408.4,157.1 408.6,158.3 408.7,159.3 408.9,157.4 409.1,159.5 409.3,158.6 409.5,157.8 409.6,155.9 409.8,157.5 410.0,156.3 410.2,157.6 410.4,159.4 410.5,159.5 410.7,156.7 410.9,157.3 411.1,159.5 411.2,154.8 411.4,160.7 411.6,159.9 411.8,158.5 412.0,153.4 412.1,158.9 412.3,153.2 412.5,152.7 412.7,153.9 412.9,158.1 413.0,156.8 413.2,159.1 413.4,157.7 413.6,158.1 413.7,155.5 413.9,160.4 414.1,151.9 414.3,159.8 414.5,156.8 414.6,153.8 414.8,151.1 415.0,156.6 415.2,149.8 415.3,156.6 415.5,150.8 415.7,151.2 415.9,150.1 416.1,153.8 416.2,160.6 416.4,149.4 416.6,147.7 416.8,158.6 417.0,147.1 417.1,154.4 417.3,150.1 417.5,150.1 417.7,145.8 417.8,145.8 418.0,151.8 418.2,152.4 418.4,155.3 418.6,147.5 418.7,141.7 418.9,145.3 419.1,150.3 419.3,151.7 419.5,149.8 419.6,146.4 419.8,156.0 420.0,154.6 420.2,154.4 420.3,155.4 420.5,140.7 420.7,137.2 420.9,148.5 421.1,158.8 421.2,155.3 421.4,134.0 421.6,157.7 421.8,134.6 422.0,152.0 422.1,151.7 422.3,150.0 422.5,137.2 422.7,132.8 422.8,130.8 423.0,149.8 423.2,153.3 423.4,145.2 423.6,160.4 423.7,135.5 423.9,145.9 424.1,136.3 424.3,130.0 424.5,136.0 424.6,157.9 424.8,150.3 425.0,145.3 425.2,126.4 425.3,150.1 425.5,122.8 425.7,156.3 425.9,147.7 426.1,130.1 426.2,130.4 426.4,113.5 426.6,145.1 426.8,133.8 427.0,129.1 427.1,159.5 427.3,149.8 427.5,116.4 427.7,150.6 427.8,142.3 428.0,132.6 428.2,125.6 428.4,142.1 428.6,106.0 428.7,129.6 428.9,115.5 429.1,139.0 429.3,137.0 429.4,118.1 429.6,135.4 429.8,134.2 430.0,118.3 430.2,139.2 430.3,120.6 430.5,150.7 430.7,122.3 430.9,139.1 431.1,128.6 431.2,124.0 431.4,154.0 431.6,123.8 431.8,135.9 431.9,157.7 432.1,153.5 432.3,147.5 432.5,129.6 432.7,150.8 432.8,149.3 433.0,125.0 433.2,128.6 433.4,139.7 433.6,156.8 433.7,159.7 433.9,153.6 434.1,148.3 434.3,138.6 434.4,149.0 434.6,156.5 434.8,143.1 435.0,147.4 435.2,149.4 435.3,155.1 435.5,157.5 435.7,155.7 435.9,147.4 436.1,157.0 436.2,151.0 436.4,152.9 436.6,152.5 436.8,159.7 436.9,148.7 437.1,160.1 437.3,148.9 437.5,149.1 437.7,149.8 437.8,157.0 438.0,150.4 438.2,153.4 438.4,154.5 438.6,155.0 438.7,159.2 438.9,158.8 439.1,160.7 439.3,158.4 439.4,161.2 439.6,160.7 439.8,154.8 440.0,156.8 440.2,157.3 440.3,158.0 440.5,152.1 440.7,159.0 440.9,155.7 441.1,153.3 441.2,154.5 441.4,160.1 441.6,160.0 441.8,159.7 441.9,159.6 442.1,156.9 442.3,153.1 442.5,153.7 442.7,156.6 442.8,155.2 443.0,159.8 443.2,160.8 443.4,156.1 443.6,159.9 443.7,160.8 443.9,155.1 444.1,157.2 444.3,158.8 444.4,158.7 444.6,155.7 444.8,158.9 445.0,156.5 445.2,155.2 445.3,161.2 445.5,157.1 445.7,160.3 445.9,161.2 446.0,158.3 446.2,159.6 446.4,157.2 446.6,160.0 446.8,157.6 446.9,159.2 447.1,158.9 447.3,160.5 447.5,159.2 447.7,158.3 447.8,158.7 448.0,157.1 448.2,160.8 448.4,160.8 448.5,157.6 448.7,161.3 448.9,160.8 449.1,161.0 449.3,161.0 449.4,159.6 449.6,161.2 449.8,160.6 450.0,159.8 450.2,159.7 450.3,158.9 450.5,157.9 450.7,160.7 450.9,158.8 451.0,158.2 451.2,161.3 451.4,160.7 451.6,159.3 451.8,160.1 451.9,160.4 452.1,160.7 452.3,159.3 452.5,159.2 452.7,160.8 452.8,159.5 453.0,161.2 453.2,160.2 453.4,159.8 453.5,161.4 453.7,159.8 453.9,160.4 454.1,160.3 454.3,161.3 454.4,159.9 454.6,160.2 454.8,160.1 455.0,161.2 455.2,160.3 455.3,160.8 455.5,160.6 455.7,161.4 455.9,161.2 456.0,160.5 456.2,160.7 456.4,161.4 456.6,160.7 456.8,161.0 456.9,160.7 457.1,160.2 457.3,161.1 457.5,160.9 457.7,160.6 457.8,160.4 458.0,160.2 458.2,160.6 458.4,161.5 458.5,160.8 458.7,160.5 458.9,161.3 459.1,160.9 459.3,160.6 459.4,160.5 459.6,161.1 459.8,161.4 460.0,161.4 460.1,161.2 460.3,161.0 460.5,161.0 460.7,160.4 460.9,161.2 461.0,160.5 461.2,161.3 461.4,160.7 461.6,161.1 461.8,161.2 461.9,161.2 462.1,160.9 462.3,161.4 462.5,161.3 462.6,161.2 462.8,160.9 463.0,161.4 463.2,160.6 463.4,161.2 463.5,161.1 463.7,161.3 463.9,161.1 464.1,160.7 464.3,160.8 464.4,161.3 464.6,161.4 464.8,160.8 465.0,161.0 465.1,161.1 465.3,161.4 465.5,161.2 465.7,161.0 465.9,161.4 466.0,161.0 466.2,161.2 466.4,161.3 466.6,161.0 466.8,161.2 466.9,161.0 467.1,161.2 467.3,161.1 467.5,160.8 467.6,161.2 467.8,161.3 468.0,160.9 468.2,161.1 468.4,161.4 468.5,161.1 468.7,161.5 468.9,160.9 469.1,161.2 469.3,161.0 469.4,161.1 469.6,161.4 469.8,161.3 470.0,161.1 470.1,161.3 470.3,161.4 470.5,161.3 470.7,161.0 470.9,161.1 471.0,161.2 471.2,161.3 471.4,161.3 471.6,161.4 471.8,161.2 471.9,161.4 472.1,161.3 472.3,161.5 472.5,161.4 472.6,161.3 472.8,161.5 473.0,161.3 473.2,161.5 473.4,161.2 473.5,161.1 473.7,161.0 473.9,161.4 474.1,161.1 474.2,161.0 474.4,161.4 474.6,161.1 474.8,161.2 475.0,161.2 475.1,161.1 475.3,161.3 475.5,161.1 475.7,161.2 475.9,161.3 476.0,161.2 476.2,161.0 476.4,161.1 476.6,161.3 476.7,161.4 476.9,161.4 477.1,161.1 477.3,161.2 477.5,161.4 477.6,161.4 477.8,161.2 478.0,161.3 478.2,161.3 478.4,161.4 478.5,161.2 478.7,161.4 478.9,161.1 479.1,161.2 479.2,161.2 479.4,161.4 479.6,161.1 479.8,161.2 480.0,161.5 480.1,161.2 480.3,161.5 480.5,161.4 480.7,161.1 480.9,161.3 481.0,161.4 481.2,161.1 481.4,161.2 481.6,161.3 481.7,161.1 481.9,161.3 482.1,161.3 482.3,161.1 482.5,161.3 482.6,161.4 482.8,161.1 483.0,161.1 483.2,161.4 483.4,161.4 483.5,161.1 483.7,161.1 483.9,161.1 484.1,161.5 484.2,161.4 484.4,161.3 484.6,161.3 484.8,161.2 485.0,161.1 485.1,161.2 485.3,161.1 485.5,161.3 485.7,161.3 485.9,161.3 486.0,161.1 486.2,161.4 486.4,161.3 486.6,161.3 486.7,161.3 486.9,161.4 487.1,161.1 487.3,161.2 487.5,161.3 487.6,161.3 487.8,161.4 488.0,161.3 488.2,161.5 488.3,161.4 488.5,161.5 488.7,161.2 488.9,161.3 489.1,161.2 489.2,161.5 489.4,161.2 489.6,161.2 489.8,161.5 490.0,161.4 490.1,161.4 490.3,161.3 490.5,161.2 490.7,161.2 490.8,161.3 491.0,161.1 491.2,161.2 491.4,161.3 491.6,161.3 491.7,161.4 491.9,161.5 492.1,161.3 492.3,161.3 492.5,161.5 492.6,161.4 492.8,161.3 493.0,161.3 493.2,161.4 493.3,161.4 493.5,161.2 493.7,161.3 493.9,161.3 494.1,161.4 494.2,161.1 494.4,161.4 494.6,161.4 494.8,161.2 495.0,161.1 495.1,161.4 495.3,161.1 495.5,161.5 495.7,161.3 495.8,161.5 496.0,161.2 496.2,161.4 496.4,161.2 496.6,161.5 496.7,161.4 496.9,161.4 497.1,161.3 497.3,161.3 497.5,161.5 497.6,161.4 497.8,161.4 498.0,161.4 498.2,161.4 498.3,161.3 498.5,161.3 498.7,161.4 498.9,161.4 499.1,161.1 499.2,161.3 499.4,161.4 499.6,161.2 499.8,161.3 500.0,161.3 500.1,161.3 500.3,161.1 500.5,161.5 500.7,161.3 500.8,161.5 501.0,161.2 501.2,161.4 501.4,161.5 501.6,161.3 501.7,161.3 501.9,161.5 502.1,161.4 502.3,161.4 502.4,161.1 502.6,161.4 502.8,161.3 503.0,161.4 503.2,161.2 503.3,161.4 503.5,161.3 503.7,161.5 503.9,161.2 504.1,161.2 504.2,161.3 504.4,161.3 504.6,161.5 504.8,161.3 504.9,161.5 505.1,161.5 505.3,161.2 505.5,161.2 505.7,161.4 505.8,161.2 506.0,161.3 506.2,161.2 506.4,161.2 506.6,161.4 506.7,161.3 506.9,161.5 507.1,161.4 507.3,161.2 507.4,161.4 507.6,161.2 507.8,161.4 508.0,161.4 508.2,161.3 508.3,161.4 508.5,161.4 508.7,161.4 508.9,161.4 509.1,161.4 509.2,161.2 509.4,161.3 509.6,161.2 509.8,161.4 509.9,161.2 510.1,161.2 510.3,161.4 510.5,161.3 510.7,161.3 510.8,161.2 511.0,161.2 511.2,161.4 511.4,161.4 511.6,161.2 511.7,161.3 511.9,161.4 512.1,161.5 512.3,161.4 512.4,161.4 512.6,161.2 512.8,161.3 513.0,161.2 513.2,161.2 513.3,161.3 513.5,161.3 513.7,161.3 513.9,161.5 514.1,161.3 514.2,161.4 514.4,161.3 514.6,161.2 514.8,161.2 514.9,161.5 515.1,161.2 515.3,161.5 515.5,161.3 515.7,161.4 515.8,161.2 516.0,161.3 516.2,161.5 516.4,161.4 516.5,161.2 516.7,161.3 516.9,161.3 517.1,161.4 517.3,161.4 517.4,161.2 517.6,161.3 517.8,161.4 518.0,161.5 518.2,161.4 518.3,161.5 518.5,161.3 518.7,161.3 518.9,161.3 519.0,161.4 519.2,161.4 519.4,161.4 519.6,161.2 519.8,161.3 519.9,161.3 520.1,161.3 520.3,161.3 520.5,161.4 520.7,161.2 520.8,161.4 521.0,161.4 521.2,161.4 521.4,161.5 521.5,161.4 521.7,161.5 521.9,161.5 522.1,161.4 522.3,161.4 522.4,161.4 522.6,161.5 522.8,161.3 523.0,161.4 523.2,161.3 523.3,161.3 523.5,161.4 523.7,161.3 523.9,161.4 524.0,161.5 524.2,161.3 524.4,161.5 524.6,161.5 524.8,161.4 524.9,161.3 525.1,161.4 525.3,161.3 525.5,161.3 525.7,161.5 525.8,161.2 526.0,161.4 526.2,161.4 526.4,161.4 526.5,161.4 526.7,161.3 526.9,161.3 527.1,161.4 527.3,161.2 527.4,161.4 527.6,161.5 527.8,161.5 528.0,161.3 528.2,161.3 528.3,161.2 528.5,161.5 528.7,161.3 528.9,161.3 529.0,161.3 529.2,161.4 529.4,161.4 529.6,161.4 529.8,161.4 529.9,161.5 530.1,161.4 530.3,161.3 530.5,161.3 530.6,161.3 530.8,161.4 531.0,161.4 531.2,161.5 531.4,161.3 531.5,161.4 531.7,161.3 531.9,161.3 532.1,161.3 532.3,161.4 532.4,161.3 532.6,161.3 532.8,161.4 533.0,161.3 533.1,161.3 533.3,161.4 533.5,161.3 533.7,161.4 533.9,161.4 534.0,161.3 534.2,161.5 534.4,161.4 534.6,161.3 534.8,161.4 534.9,161.4 535.1,161.3 535.3,161.4 535.5,161.5 535.6,161.3 535.8,161.4 536.0,161.4 536.2,161.5 536.4,161.4 536.5,161.4 536.7,161.3 536.9,161.4 537.1,161.4 537.3,161.4 537.4,161.4 537.6,161.4 537.8,161.4 538.0,161.4 538.1,161.5 538.3,161.5 538.5,161.4 538.7,161.4 538.9,161.3 539.0,161.5 539.2,161.5 539.4,161.4 539.6,161.3 539.8,161.4 539.9,161.4 540.1,161.3 540.3,161.3 540.5,161.4 540.6,161.3 540.8,161.5 541.0,161.3 541.2,161.3 541.4,161.4 541.5,161.5 541.7,161.4 541.9,161.4 542.1,161.4 542.3,161.4 542.4,161.4 542.6,161.3 542.8,161.4 543.0,161.3 543.1,161.5 543.3,161.3 543.5,161.3"/>
<line x1="329.5" y1="161.5" x2="397.3" y2="161.5" stroke="#3b3bf0" stroke-width="1" stroke-opacity="0.7"/>
<line x1="453.0" y1="161.5" x2="543.5" y2="161.5" stroke="#3b3bf0" stroke-width="1" stroke-opacity="0.7"/>
<polyline fill="none" stroke="#0000ff" stroke-width="0.5" stroke-linejoin="round" stroke-opacity="1" points="329.5,246.4 329.7,246.3 329.9,246.4 330.0,246.4 330.2,246.4 330.4,246.3 330.6,246.3 330.7,246.3 330.9,246.5 331.1,246.4 331.3,246.4 331.5,246.4 331.6,246.4 331.8,246.4 332.0,246.4 332.2,246.4 332.4,246.5 332.5,246.3 332.7,246.5 332.9,246.5 333.1,246.3 333.2,246.3 333.4,246.3 333.6,246.4 333.8,246.5 334.0,246.3 334.1,246.4 334.3,246.4 334.5,246.5 334.7,246.5 334.9,246.4 335.0,246.3 335.2,246.4 335.4,246.5 335.6,246.4 335.7,246.4 335.9,246.5 336.1,246.5 336.3,246.4 336.5,246.4 336.6,246.4 336.8,246.3 337.0,246.4 337.2,246.4 337.4,246.4 337.5,246.3 337.7,246.3 337.9,246.4 338.1,246.3 338.2,246.4 338.4,246.5 338.6,246.3 338.8,246.5 339.0,246.4 339.1,246.4 339.3,246.3 339.5,246.3 339.7,246.4 339.9,246.3 340.0,246.3 340.2,246.4 340.4,246.4 340.6,246.3 340.7,246.3 340.9,246.4 341.1,246.3 341.3,246.3 341.5,246.4 341.6,246.5 341.8,246.4 342.0,246.5 342.2,246.5 342.4,246.4 342.5,246.3 342.7,246.3 342.9,246.3 343.1,246.5 343.2,246.3 343.4,246.3 343.6,246.4 343.8,246.4 344.0,246.3 344.1,246.3 344.3,246.4 344.5,246.3 344.7,246.4 344.8,246.5 345.0,246.4 345.2,246.4 345.4,246.4 345.6,246.4 345.7,246.3 345.9,246.3 346.1,246.5 346.3,246.3 346.5,246.4 346.6,246.3 346.8,246.3 347.0,246.5 347.2,246.3 347.3,246.3 347.5,246.4 347.7,246.5 347.9,246.4 348.1,246.3 348.2,246.3 348.4,246.3 348.6,246.5 348.8,246.3 349.0,246.3 349.1,246.5 349.3,246.4 349.5,246.3 349.7,246.3 349.8,246.3 350.0,246.4 350.2,246.4 350.4,246.3 350.6,246.4 350.7,246.5 350.9,246.4 351.1,246.4 351.3,246.3 351.5,246.3 351.6,246.4 351.8,246.4 352.0,246.4 352.2,246.4 352.3,246.4 352.5,246.4 352.7,246.4 352.9,246.4 353.1,246.3 353.2,246.4 353.4,246.3 353.6,246.3 353.8,246.4 354.0,246.5 354.1,246.4 354.3,246.5 354.5,246.4 354.7,246.5 354.8,246.3 355.0,246.2 355.2,246.3 355.4,246.3 355.6,246.4 355.7,246.4 355.9,246.4 356.1,246.3 356.3,246.5 356.5,246.4 356.6,246.4 356.8,246.4 357.0,246.3 357.2,246.3 357.3,246.5 357.5,246.4 357.7,246.3 357.9,246.3 358.1,246.5 358.2,246.3 358.4,246.4 358.6,246.3 358.8,246.2 358.9,246.4 359.1,246.5 359.3,246.4 359.5,246.4 359.7,246.4 359.8,246.4 360.0,246.4 360.2,246.3 360.4,246.4 360.6,246.5 360.7,246.4 360.9,246.5 361.1,246.2 361.3,246.4 361.4,246.4 361.6,246.4 361.8,246.5 362.0,246.3 362.2,246.5 362.3,246.4 362.5,246.2 362.7,246.3 362.9,246.5 363.1,246.3 363.2,246.3 363.4,246.5 363.6,246.4 363.8,246.3 363.9,246.3 364.1,246.4 364.3,246.3 364.5,246.4 364.7,246.4 364.8,246.3 365.0,246.4 365.2,246.2 365.4,246.3 365.6,246.5 365.7,246.4 365.9,246.4 366.1,246.4 366.3,246.4 366.4,246.3 366.6,246.3 366.8,246.3 367.0,246.3 367.2,246.5 367.3,246.4 367.5,246.3 367.7,246.3 367.9,246.3 368.1,246.3 368.2,246.3 368.4,246.4 368.6,246.4 368.8,246.3 368.9,246.4 369.1,246.3 369.3,246.2 369.5,246.4 369.7,246.2 369.8,246.5 370.0,246.4 370.2,246.5 370.4,246.4 370.6,246.3 370.7,246.5 370.9,246.3 371.1,246.3 371.3,246.4 371.4,246.4 371.6,246.5 371.8,246.3 372.0,246.3 372.2,246.3 372.3,246.4 372.5,246.3 372.7,246.4 372.9,246.4 373.0,246.5 373.2,246.5 373.4,246.3 373.6,246.4 373.8,246.4 373.9,246.2 374.1,246.3 374.3,246.5 374.5,246.3 374.7,246.3 374.8,246.3 375.0,246.3 375.2,246.4 375.4,246.4 375.5,246.3 375.7,246.5 375.9,246.4 376.1,246.3 376.3,246.4 376.4,246.3 376.6,246.4 376.8,246.2 377.0,246.4 377.2,246.3 377.3,246.3 377.5,246.4 377.7,246.3 377.9,246.3 378.0,246.2 378.2,246.4 378.4,246.2 378.6,246.2 378.8,246.4 378.9,246.5 379.1,246.4 379.3,246.3 379.5,246.3 379.7,246.4 379.8,246.3 380.0,246.5 380.2,246.2 380.4,246.2 380.5,246.2 380.7,246.2 380.9,246.3 381.1,246.2 381.3,246.2 381.4,246.2 381.6,246.4 381.8,246.4 382.0,246.3 382.2,246.2 382.3,246.3 382.5,246.4 382.7,246.4 382.9,246.4 383.0,246.4 383.2,246.4 383.4,246.5 383.6,246.3 383.8,246.2 383.9,246.2 384.1,246.2 384.3,246.4 384.5,246.3 384.7,246.4 384.8,246.4 385.0,246.3 385.2,246.2 385.4,246.3 385.5,246.4 385.7,246.4 385.9,246.3 386.1,246.4 386.3,246.4 386.4,246.3 386.6,246.3 386.8,246.5 387.0,246.3 387.1,246.3 387.3,246.3 387.5,246.3 387.7,246.2 387.9,246.3 388.0,246.4 388.2,246.4 388.4,246.3 388.6,246.2 388.8,246.3 388.9,246.4 389.1,246.2 389.3,246.3 389.5,246.2 389.6,246.4 389.8,246.5 390.0,246.2 390.2,246.4 390.4,246.2 390.5,246.5 390.7,246.3 390.9,246.3 391.1,246.2 391.3,246.4 391.4,246.3 391.6,246.4 391.8,246.3 392.0,246.2 392.1,246.4 392.3,246.4 392.5,246.4 392.7,246.5 392.9,246.4 393.0,246.3 393.2,246.2 393.4,246.4 393.6,246.3 393.8,246.2 393.9,246.3 394.1,246.4 394.3,246.2 394.5,246.3 394.6,246.4 394.8,246.2 395.0,246.3 395.2,246.4 395.4,246.2 395.5,246.4 395.7,246.4 395.9,246.5 396.1,246.5 396.3,246.3 396.4,246.4 396.6,246.2 396.8,246.4 397.0,246.4 397.1,246.3 397.3,246.4 397.5,246.5 397.7,246.5 397.9,246.2 398.0,246.2 398.2,246.5 398.4,246.3 398.6,246.3 398.8,246.2 398.9,246.4 399.1,246.2 399.3,246.2 399.5,246.3 399.6,246.5 399.8,246.2 400.0,246.4 400.2,246.3 400.4,246.4 400.5,246.3 400.7,246.2 400.9,246.3 401.1,246.4 401.2,246.5 401.4,246.4 401.6,246.4 401.8,246.2 402.0,246.5 402.1,246.4 402.3,246.5 402.5,246.2 402.7,246.5 402.9,246.4 403.0,246.2 403.2,246.2 403.4,246.4 403.6,246.3 403.7,246.2 403.9,246.3 404.1,246.2 404.3,246.2 404.5,246.4 404.6,246.4 404.8,246.5 405.0,246.3 405.2,246.4 405.4,246.5 405.5,246.2 405.7,246.2 405.9,246.2 406.1,246.3 406.2,246.1 406.4,246.3 406.6,246.4 406.8,246.2 407.0,246.4 407.1,246.2 407.3,246.2 407.5,246.3 407.7,246.5 407.9,246.4 408.0,246.3 408.2,246.2 408.4,246.2 408.6,246.1 408.7,246.3 408.9,246.2 409.1,246.4 409.3,246.1 409.5,246.4 409.6,246.3 409.8,246.2 410.0,246.3 410.2,246.4 410.4,246.4 410.5,246.5 410.7,246.4 410.9,246.2 411.1,246.4 411.2,246.1 411.4,246.2 411.6,246.2 411.8,246.4 412.0,246.3 412.1,246.3 412.3,246.3 412.5,246.3 412.7,246.3 412.9,246.4 413.0,246.3 413.2,246.3 413.4,246.3 413.6,246.3 413.7,246.3 413.9,246.3 414.1,246.4 414.3,246.2 414.5,246.3 414.6,246.5 414.8,246.2 415.0,246.4 415.2,246.4 415.3,246.3 415.5,246.4 415.7,246.5 415.9,246.2 416.1,246.2 416.2,246.3 416.4,246.2 416.6,246.3 416.8,246.4 417.0,246.2 417.1,246.2 417.3,246.3 417.5,246.3 417.7,246.3 417.8,246.2 418.0,246.2 418.2,246.4 418.4,246.1 418.6,246.4 418.7,246.3 418.9,246.1 419.1,246.5 419.3,246.2 419.5,246.4 419.6,246.2 419.8,246.2 420.0,246.4 420.2,246.2 420.3,246.5 420.5,246.3 420.7,246.1 420.9,246.4 421.1,246.1 421.2,246.2 421.4,246.2 421.6,246.1 421.8,246.3 422.0,246.4 422.1,246.0 422.3,246.0 422.5,246.4 422.7,246.2 422.8,246.0 423.0,246.2 423.2,246.3 423.4,245.9 423.6,246.3 423.7,246.3 423.9,245.9 424.1,246.3 424.3,246.1 424.5,245.9 424.6,245.8 424.8,246.4 425.0,246.0 425.2,246.4 425.3,246.0 425.5,245.8 425.7,246.1 425.9,246.2 426.1,246.1 426.2,246.0 426.4,246.0 426.6,246.5 426.8,246.0 427.0,246.2 427.1,246.1 427.3,246.2 427.5,246.4 427.7,245.8 427.8,246.0 428.0,245.8 428.2,246.4 428.4,246.0 428.6,245.9 428.7,245.9 428.9,245.7 429.1,245.7 429.3,246.2 429.4,246.0 429.6,245.7 429.8,245.8 430.0,246.2 430.2,245.7 430.3,245.7 430.5,246.0 430.7,245.9 430.9,245.6 431.1,246.0 431.2,246.1 431.4,246.0 431.6,246.0 431.8,245.3 431.9,245.6 432.1,245.2 432.3,246.3 432.5,245.5 432.7,246.2 432.8,244.9 433.0,245.2 433.2,246.3 433.4,245.8 433.6,246.2 433.7,245.4 433.9,246.1 434.1,246.3 434.3,246.4 434.4,245.4 434.6,244.7 434.8,245.4 435.0,246.1 435.2,245.9 435.3,244.0 435.5,246.2 435.7,246.1 435.9,246.1 436.1,244.5 436.2,246.4 436.4,246.3 436.6,244.0 436.8,245.7 436.9,243.8 437.1,244.9 437.3,246.3 437.5,244.1 437.7,242.9 437.8,246.1 438.0,243.9 438.2,243.8 438.4,244.5 438.6,245.9 438.7,242.6 438.9,243.4 439.1,242.1 439.3,244.5 439.4,245.5 439.6,241.7 439.8,240.7 440.0,241.6 440.2,241.1 440.3,242.6 440.5,243.5 440.7,245.1 440.9,240.5 441.1,244.9 441.2,240.7 441.4,244.8 441.6,245.0 441.8,240.9 441.9,240.2 442.1,244.1 442.3,244.3 442.5,244.9 442.7,241.6 442.8,244.3 443.0,242.8 443.2,245.3 443.4,244.4 443.6,242.2 443.7,239.8 443.9,243.2 444.1,240.3 444.3,240.0 444.4,243.7 444.6,243.9 444.8,243.4 445.0,243.6 445.2,243.3 445.3,243.0 445.5,240.5 445.7,239.2 445.9,239.1 446.0,242.7 446.2,240.1 446.4,242.7 446.6,241.5 446.8,238.4 446.9,244.1 447.1,243.7 447.3,236.4 447.5,236.6 447.7,235.8 447.8,235.7 448.0,244.2 448.2,236.5 448.4,234.4 448.5,235.9 448.7,237.2 448.9,239.5 449.1,236.0 449.3,242.6 449.4,234.4 449.6,244.2 449.8,244.8 450.0,232.5 450.2,243.5 450.3,230.1 450.5,244.0 450.7,243.6 450.9,234.7 451.0,239.0 451.2,238.0 451.4,243.5 451.6,243.7 451.8,242.4 451.9,238.9 452.1,224.8 452.3,225.4 452.5,241.4 452.7,237.1 452.8,231.2 453.0,223.4 453.2,241.0 453.4,222.9 453.5,244.3 453.7,223.5 453.9,222.9 454.1,242.1 454.3,242.6 454.4,233.1 454.6,241.5 454.8,237.0 455.0,244.2 455.2,236.6 455.3,244.7 455.5,221.3 455.7,213.5 455.9,236.7 456.0,235.7 456.2,222.3 456.4,227.2 456.6,217.3 456.8,236.9 456.9,223.8 457.1,236.5 457.3,192.1 457.5,242.7 457.7,218.3 457.8,235.4 458.0,217.0 458.2,238.5 458.4,235.6 458.5,233.5 458.7,209.5 458.9,245.1 459.1,239.7 459.3,221.3 459.4,221.5 459.6,235.1 459.8,240.5 460.0,238.9 460.1,229.5 460.3,224.5 460.5,221.6 460.7,245.0 460.9,232.5 461.0,220.0 461.2,226.3 461.4,218.6 461.6,221.8 461.8,227.7 461.9,237.2 462.1,236.3 462.3,221.8 462.5,215.5 462.6,237.7 462.8,244.5 463.0,234.6 463.2,240.1 463.4,220.1 463.5,238.9 463.7,229.8 463.9,224.0 464.1,238.0 464.3,230.6 464.4,223.4 464.6,245.5 464.8,233.4 465.0,237.8 465.1,242.1 465.3,228.3 465.5,226.2 465.7,226.2 465.9,226.9 466.0,222.5 466.2,230.9 466.4,241.6 466.6,232.8 466.8,228.8 466.9,236.5 467.1,241.5 467.3,233.8 467.5,234.7 467.6,238.0 467.8,243.2 468.0,232.5 468.2,235.3 468.4,238.6 468.5,235.2 468.7,241.3 468.9,240.9 469.1,233.5 469.3,237.8 469.4,237.1 469.6,242.6 469.8,235.5 470.0,236.3 470.1,237.3 470.3,241.3 470.5,243.9 470.7,239.6 470.9,241.7 471.0,243.0 471.2,241.6 471.4,239.9 471.6,243.9 471.8,243.9 471.9,238.0 472.1,239.5 472.3,242.7 472.5,241.4 472.6,240.0 472.8,244.2 473.0,238.7 473.2,245.5 473.4,241.4 473.5,239.7 473.7,241.5 473.9,245.9 474.1,239.7 474.2,239.8 474.4,244.9 474.6,245.3 474.8,243.0 475.0,242.0 475.1,243.1 475.3,243.8 475.5,241.8 475.7,245.6 475.9,241.8 476.0,242.3 476.2,245.5 476.4,244.8 476.6,245.8 476.7,242.4 476.9,245.8 477.1,242.7 477.3,240.7 477.5,242.4 477.6,243.7 477.8,244.7 478.0,244.5 478.2,245.7 478.4,242.9 478.5,244.4 478.7,242.6 478.9,245.2 479.1,245.8 479.2,243.5 479.4,242.8 479.6,242.6 479.8,245.7 480.0,244.2 480.1,242.2 480.3,244.7 480.5,246.0 480.7,245.6 480.9,244.5 481.0,243.6 481.2,245.5 481.4,245.6 481.6,244.2 481.7,244.2 481.9,246.2 482.1,244.3 482.3,243.1 482.5,245.7 482.6,246.1 482.8,243.4 483.0,243.9 483.2,246.2 483.4,244.4 483.5,243.5 483.7,244.5 483.9,244.4 484.1,243.9 484.2,246.0 484.4,246.0 484.6,244.6 484.8,245.5 485.0,244.8 485.1,244.0 485.3,244.9 485.5,244.2 485.7,244.3 485.9,244.3 486.0,245.9 486.2,245.6 486.4,244.2 486.6,245.3 486.7,245.9 486.9,246.0 487.1,244.9 487.3,245.9 487.5,245.7 487.6,245.3 487.8,244.3 488.0,245.4 488.2,245.2 488.3,245.4 488.5,246.4 488.7,246.3 488.9,245.2 489.1,245.3 489.2,245.4 489.4,246.3 489.6,245.2 489.8,245.2 490.0,246.3 490.1,244.8 490.3,245.4 490.5,245.5 490.7,246.1 490.8,244.7 491.0,245.4 491.2,245.7 491.4,245.3 491.6,245.4 491.7,245.6 491.9,245.5 492.1,245.4 492.3,245.0 492.5,245.7 492.6,245.8 492.8,245.7 493.0,246.2 493.2,245.0 493.3,245.2 493.5,246.2 493.7,245.3 493.9,246.0 494.1,245.3 494.2,245.1 494.4,246.3 494.6,245.5 494.8,245.0 495.0,246.1 495.1,245.1 495.3,245.2 495.5,245.4 495.7,246.0 495.8,245.5 496.0,246.2 496.2,245.9 496.4,245.6 496.6,245.6 496.7,245.8 496.9,245.3 497.1,246.2 497.3,245.5 497.5,245.5 497.6,246.5 497.8,246.0 498.0,246.3 498.2,245.8 498.3,246.1 498.5,246.2 498.7,246.0 498.9,245.9 499.1,245.4 499.2,246.4 499.4,246.0 499.6,246.1 499.8,246.5 500.0,245.8 500.1,245.8 500.3,246.0 500.5,246.1 500.7,246.3 500.8,246.4 501.0,245.9 501.2,246.0 501.4,245.6 501.6,245.9 501.7,245.6 501.9,246.0 502.1,245.7 502.3,246.1 502.4,245.8 502.6,245.6 502.8,246.4 503.0,246.0 503.2,245.6 503.3,245.6 503.5,246.1 503.7,246.1 503.9,246.3 504.1,245.7 504.2,246.2 504.4,246.0 504.6,246.3 504.8,246.2 504.9,245.9 505.1,246.0 505.3,246.0 505.5,245.8 505.7,246.1 505.8,246.1 506.0,245.7 506.2,246.2 506.4,246.4 506.6,246.4 506.7,245.9 506.9,246.5 507.1,245.9 507.3,245.9 507.4,246.2 507.6,246.1 507.8,246.0 508.0,246.3 508.2,246.0 508.3,245.8 508.5,246.3 508.7,246.1 508.9,246.1 509.1,246.5 509.2,246.0 509.4,246.3 509.6,246.3 509.8,246.2 509.9,245.9 510.1,245.8 510.3,246.0 510.5,246.2 510.7,246.0 510.8,246.3 511.0,246.3 511.2,246.1 511.4,246.2 511.6,246.0 511.7,246.3 511.9,246.3 512.1,245.9 512.3,246.4 512.4,246.0 512.6,246.0 512.8,246.5 513.0,246.2 513.2,246.5 513.3,246.3 513.5,246.0 513.7,246.2 513.9,246.2 514.1,246.4 514.2,246.2 514.4,246.1 514.6,246.3 514.8,246.2 514.9,246.0 515.1,246.3 515.3,246.1 515.5,246.1 515.7,246.4 515.8,246.4 516.0,246.3 516.2,246.1 516.4,246.2 516.5,246.1 516.7,246.2 516.9,246.4 517.1,246.5 517.3,246.5 517.4,246.2 517.6,246.1 517.8,246.5 518.0,246.4 518.2,246.1 518.3,246.3 518.5,246.5 518.7,246.3 518.9,246.2 519.0,246.4 519.2,246.1 519.4,246.1 519.6,246.2 519.8,246.3 519.9,246.3 520.1,246.1 520.3,246.5 520.5,246.3 520.7,246.2 520.8,246.4 521.0,246.3 521.2,246.1 521.4,246.3 521.5,246.3 521.7,246.1 521.9,246.2 522.1,246.4 522.3,246.3 522.4,246.5 522.6,246.3 522.8,246.5 523.0,246.2 523.2,246.2 523.3,246.2 523.5,246.4 523.7,246.4 523.9,246.4 524.0,246.5 524.2,246.2 524.4,246.3 524.6,246.3 524.8,246.2 524.9,246.4 525.1,246.3 525.3,246.4 525.5,246.3 525.7,246.5 525.8,246.4 526.0,246.2 526.2,246.2 526.4,246.3 526.5,246.2 526.7,246.3 526.9,246.2 527.1,246.4 527.3,246.2 527.4,246.4 527.6,246.2 527.8,246.2 528.0,246.3 528.2,246.2 528.3,246.3 528.5,246.3 528.7,246.3 528.9,246.4 529.0,246.2 529.2,246.2 529.4,246.3 529.6,246.4 529.8,246.2 529.9,246.4 530.1,246.2 530.3,246.3 530.5,246.3 530.6,246.3 530.8,246.3 531.0,246.4 531.2,246.2 531.4,246.4 531.5,246.3 531.7,246.5 531.9,246.3 532.1,246.3 532.3,246.2 532.4,246.5 532.6,246.3 532.8,246.3 533.0,246.4 533.1,246.4 533.3,246.3 533.5,246.4 533.7,246.4 533.9,246.4 534.0,246.2 534.2,246.2 534.4,246.2 534.6,246.3 534.8,246.4 534.9,246.3 535.1,246.4 535.3,246.2 535.5,246.5 535.6,246.4 535.8,246.4 536.0,246.4 536.2,246.4 536.4,246.3 536.5,246.5 536.7,246.2 536.9,246.3 537.1,246.3 537.3,246.4 537.4,246.4 537.6,246.3 537.8,246.4 538.0,246.4 538.1,246.5 538.3,246.4 538.5,246.5 538.7,246.4 538.9,246.4 539.0,246.3 539.2,246.3 539.4,246.5 539.6,246.3 539.8,246.4 539.9,246.4 540.1,246.5 540.3,246.4 540.5,246.3 540.6,246.4 540.8,246.3 541.0,246.3 541.2,246.3 541.4,246.4 541.5,246.5 541.7,246.5 541.9,246.4 542.1,246.5 542.3,246.4 542.4,246.5 542.6,246.5 542.8,246.3 543.0,246.5 543.1,246.4 543.3,246.3 543.5,246.4"/>
<line x1="329.5" y1="246.5" x2="435.2" y2="246.5" stroke="#3b3bf0" stroke-width="1" stroke-opacity="0.7"/>
<line x1="486.9" y1="246.5" x2="543.5" y2="246.5" stroke="#3b3bf0" stroke-width="1" stroke-opacity="0.7"/>
<text x="44.5" y="87.8" text-anchor="middle" class="t">0</text>
<text x="99.0" y="87.8" text-anchor="middle" class="t">0.05</text>
<text x="153.5" y="87.8" text-anchor="middle" class="t">0.1</text>
<text x="208.0" y="87.8" text-anchor="middle" class="t">0.15</text>
<text x="262.5" y="87.8" text-anchor="middle" class="t">0.2</text>
<text x="41.5" y="66.2" text-anchor="end" class="t">−0.2</text>
<text x="41.5" y="43.7" text-anchor="end" class="t">0</text>
<text x="41.5" y="21.2" text-anchor="end" class="t">0.2</text>
<text transform="translate(10.4,41.5) rotate(-90)" text-anchor="middle" class="al">Amplitude</text>
<text transform="translate(24.2,41.5) rotate(-90)" text-anchor="middle" class="al">/(m·s<tspan dy="-3" font-size="6">−2</tspan><tspan dy="3">)</tspan></text>
<text x="240.8" y="15.6" textLength="14" lengthAdjust="spacingAndGlyphs" class="imf">IMF1</text>
<text x="44.5" y="177.8" text-anchor="middle" class="t">0</text>
<text x="99.0" y="177.8" text-anchor="middle" class="t">0.05</text>
<text x="153.5" y="177.8" text-anchor="middle" class="t">0.1</text>
<text x="208.0" y="177.8" text-anchor="middle" class="t">0.15</text>
<text x="262.5" y="177.8" text-anchor="middle" class="t">0.2</text>
<text x="41.5" y="169.6" text-anchor="end" class="t">−1</text>
<text x="41.5" y="135.0" text-anchor="end" class="t">0</text>
<text x="41.5" y="100.4" text-anchor="end" class="t">1</text>
<text transform="translate(10.4,132.0) rotate(-90)" text-anchor="middle" class="al">Amplitude</text>
<text transform="translate(24.2,132.0) rotate(-90)" text-anchor="middle" class="al">/(m·s<tspan dy="-3" font-size="6">−2</tspan><tspan dy="3">)</tspan></text>
<text x="241.9" y="107.8" textLength="14" lengthAdjust="spacingAndGlyphs" class="imf">IMF2</text>
<text x="44.5" y="262.8" text-anchor="middle" class="t">0</text>
<text x="99.0" y="262.8" text-anchor="middle" class="t">0.05</text>
<text x="153.5" y="262.8" text-anchor="middle" class="t">0.1</text>
<text x="208.0" y="262.8" text-anchor="middle" class="t">0.15</text>
<text x="262.5" y="262.8" text-anchor="middle" class="t">0.2</text>
<text x="41.5" y="254.7" text-anchor="end" class="t">−1</text>
<text x="41.5" y="222.7" text-anchor="end" class="t">0</text>
<text x="41.5" y="190.7" text-anchor="end" class="t">1</text>
<text transform="translate(10.4,219.5) rotate(-90)" text-anchor="middle" class="al">Amplitude</text>
<text transform="translate(24.2,219.5) rotate(-90)" text-anchor="middle" class="al">/(m·s<tspan dy="-3" font-size="6">−2</tspan><tspan dy="3">)</tspan></text>
<text x="243.2" y="195.6" textLength="14" lengthAdjust="spacingAndGlyphs" class="imf">IMF3</text>
<text x="329.5" y="83.8" text-anchor="middle" class="t">0</text>
<text x="365.2" y="83.8" text-anchor="middle" class="t">1</text>
<text x="400.8" y="83.8" text-anchor="middle" class="t">2</text>
<text x="436.5" y="83.8" text-anchor="middle" class="t">3</text>
<text x="472.2" y="83.8" text-anchor="middle" class="t">4</text>
<text x="507.8" y="83.8" text-anchor="middle" class="t">5</text>
<text x="543.5" y="83.8" text-anchor="middle" class="t">6</text>
<text x="326.5" y="57.6" text-anchor="end" class="t">0.01</text>
<text x="326.5" y="39.3" text-anchor="end" class="t">0.02</text>
<text x="326.5" y="21.0" text-anchor="end" class="t">0.03</text>
<text transform="translate(291.6,39.8) rotate(-90)" text-anchor="middle" class="al">Amplitude</text>
<text transform="translate(305.0,39.2) rotate(-90)" text-anchor="middle" class="al">/(m·s<tspan dy="-3" font-size="6">−2</tspan><tspan dy="3">)</tspan></text>
<text x="519.9" y="12.5" textLength="14" lengthAdjust="spacingAndGlyphs" class="imf">IMF1</text>
<text x="329.5" y="172.8" text-anchor="middle" class="t">0</text>
<text x="365.2" y="172.8" text-anchor="middle" class="t">1</text>
<text x="400.8" y="172.8" text-anchor="middle" class="t">2</text>
<text x="436.5" y="172.8" text-anchor="middle" class="t">3</text>
<text x="472.2" y="172.8" text-anchor="middle" class="t">4</text>
<text x="507.8" y="172.8" text-anchor="middle" class="t">5</text>
<text x="543.5" y="172.8" text-anchor="middle" class="t">6</text>
<text x="326.5" y="144.2" text-anchor="end" class="t">0.02</text>
<text x="326.5" y="123.5" text-anchor="end" class="t">0.04</text>
<text x="326.5" y="102.8" text-anchor="end" class="t">0.06</text>
<text transform="translate(291.6,128.0) rotate(-90)" text-anchor="middle" class="al">Amplitude</text>
<text transform="translate(305.0,127.5) rotate(-90)" text-anchor="middle" class="al">/(m·s<tspan dy="-3" font-size="6">−2</tspan><tspan dy="3">)</tspan></text>
<text x="521.4" y="104.0" textLength="14" lengthAdjust="spacingAndGlyphs" class="imf">IMF2</text>
<text x="329.5" y="257.8" text-anchor="middle" class="t">0</text>
<text x="365.2" y="257.8" text-anchor="middle" class="t">1</text>
<text x="400.8" y="257.8" text-anchor="middle" class="t">2</text>
<text x="436.5" y="257.8" text-anchor="middle" class="t">3</text>
<text x="472.2" y="257.8" text-anchor="middle" class="t">4</text>
<text x="507.8" y="257.8" text-anchor="middle" class="t">5</text>
<text x="543.5" y="257.8" text-anchor="middle" class="t">6</text>
<text x="326.5" y="231.7" text-anchor="end" class="t">0.02</text>
<text x="326.5" y="213.5" text-anchor="end" class="t">0.04</text>
<text x="326.5" y="195.3" text-anchor="end" class="t">0.06</text>
<text transform="translate(291.6,215.5) rotate(-90)" text-anchor="middle" class="al">Amplitude</text>
<text transform="translate(305.0,215.0) rotate(-90)" text-anchor="middle" class="al">/(m·s<tspan dy="-3" font-size="6">−2</tspan><tspan dy="3">)</tspan></text>
<text x="523.2" y="191.6" textLength="14" lengthAdjust="spacingAndGlyphs" class="imf">IMF3</text>
<text x="153.3" y="270.5" text-anchor="middle" class="al">Time(s)</text>
<text x="437" y="264.6" text-anchor="middle" class="al">Frequency(Hz)</text>
<text x="528.6" y="270.3" class="t">×10<tspan dy="-4" font-size="6.5">3</tspan></text>
<text x="137.5" y="288.2" text-anchor="middle" class="b">(a)</text>
<text x="416" y="288.2" text-anchor="middle" class="b">(b)</text>
</svg>
</body></html>
